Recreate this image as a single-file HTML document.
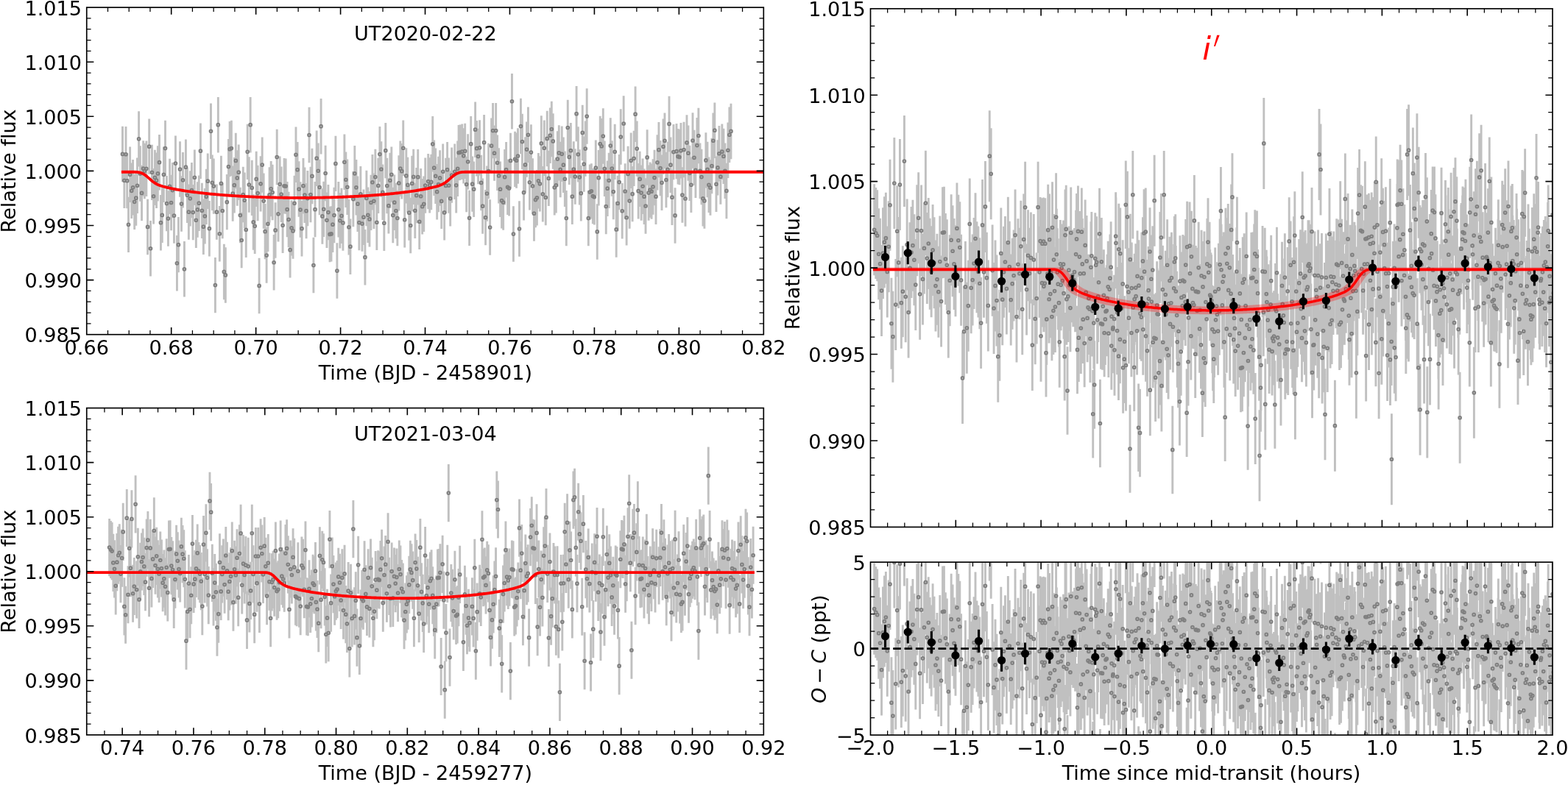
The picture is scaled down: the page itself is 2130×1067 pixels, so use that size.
<!DOCTYPE html>
<html lang="en"><head><meta charset="utf-8"><title>Transit light curves</title>
<style>html,body{margin:0;padding:0;background:#fff}body{width:2130px;height:1067px;overflow:hidden}svg{display:block}</style></head>
<body>
<svg width="2130" height="1067" viewBox="0 0 2130 1067" font-family='"DejaVu Sans", "Liberation Sans", sans-serif' font-size="27.08" fill="#000" style="font-variant-ligatures:none">
<rect width="2130" height="1067" fill="#fff"/>
<defs>
<clipPath id="cTL"><rect x="117.75" y="10.1" width="919.55" height="444.6"/></clipPath>
<clipPath id="cBL"><rect x="117.75" y="554.6" width="919.55" height="444.3"/></clipPath>
<clipPath id="cRT"><rect x="1182.5" y="11.8" width="926.5" height="704.6"/></clipPath>
<clipPath id="cRB"><rect x="1182.5" y="764.1" width="926.5" height="235"/></clipPath>
</defs>
<g clip-path="url(#cTL)">
<path d="M166.48 171.74V247.15M168.87 207.65V283.05M170.99 172.02V247.43M172.68 207.93V283.34M174.51 267.66V343.06M176.62 199.62V275.02M178.73 221.6V297M180.56 217.09V292.5M182.68 236.67V312.07M184.79 231.45V306.86M186.48 214.56V289.96M188.59 151.17V226.58M190.42 198.36V273.76M192.53 224.69V300.1M194.65 191.32V266.72M196.34 194.83V270.24M198.87 191.6V267M200.56 270.75V346.16M202.68 161.46V236.86M204.51 300.04V375.44M206.48 196.67V272.07M208.59 229.07V304.47M210.42 203.71V279.11M212.53 207.5V282.91M214.37 198.21V273.61M216.48 183V258.41M218.45 264.97V340.38M220.28 254.69V330.09M222.39 199.62V275.02M224.51 163.84V239.25M226.48 238.92V314.32M228.45 259.34V334.75M230.56 215.68V291.09M232.53 237.79V313.2M234.37 220.88V296.29M236.48 255.4V330.8M238.45 184.41V259.82M240.42 320.05V395.45M242.4 294.97V370.37M244.5 192.3V267.7M246.48 239.34V314.74M248.45 207.09V282.49M250.42 328.08V403.48M252.4 189.48V264.89M254.37 227.64V303.05M256.34 250.47V325.87M258.31 232.16V307.57M260.42 220.88V296.29M262.25 250.9V326.3M264.37 203.56V278.96M266.34 261.6V337M268.31 247.23V322.64M270.28 238.49V313.9M272.4 167.5V242.91M274.37 248.64V324.05M276.34 270.47V345.88M278.31 256.1V331.5M280.28 229.63V305.03M282.25 208.5V283.9M284.37 273.01V348.41M286.48 140.6V216.01M288.31 210.61V286.02M290.28 215.4V290.81M292.4 349.91V425.31M294.37 250.47V325.87M296.34 132.01V207.41M298.31 280.05V355.45M300.42 211.74V287.15M302.25 248.78V324.18M304.37 331.74V407.14M306.34 336.24V411.65M308.31 236.95V312.35M310.42 188.92V264.32M312.11 164.97V240.37M314.37 163.84V239.25M316.19 225.39V300.79M318.31 213.99V289.4M320.28 180.75V256.16M322.25 204.27V279.68M324.22 196.52V271.92M326.34 254.84V330.24M328.17 288.78V364.18M330.28 226.8V302.2M332.25 234.55V309.95M334.22 274.55V349.95M336.19 168.63V244.03M338.31 213.28V288.69M340.14 132.01V207.41M342.25 217.65V293.06M344.22 264.26V339.67M346.19 269.63V345.03M348.17 205.68V281.08M350.14 224.83V300.23M352.11 350.75V426.16M354.09 212.16V287.56M356.2 186.38V261.79M358.17 235.39V310.8M360.14 276.95V352.35M362.11 309.35V384.75M363.94 266.53V341.93M366.06 227.23V302.63M368.17 218.91V294.32M370.14 223.85V299.25M372.11 319.05V394.46M374.09 275.26V350.66M376.2 175.82V251.22M378.03 253.15V328.55M380.14 212.59V287.99M382.11 226.52V301.92M384.09 268.63V344.04M386.06 215.12V290.52M388.17 215.4V290.81M390.14 246.94V322.34M392.11 260.75V336.15M394.09 302.01V377.41M396.06 272.16V347.57M398.03 276.24V351.64M400 238.64V314.04M401.97 172.59V247.99M404.09 193.01V268.41M406.06 219.34V294.75M408.03 247.37V322.77M410 273.01V348.41M411.97 214.97V290.38M413.94 227.51V302.91M416.06 248.92V324.33M417.89 231.88V307.29M420 145.82V221.23M421.97 226.8V302.2M423.94 201.74V277.14M425.91 322.86V398.27M428.03 246.94V322.34M430.14 177.51V252.91M432.25 194.55V269.95M434.09 216.81V292.21M436.06 134V209.4M437.89 256.25V331.65M439.72 246.66V322.06M442.12 197.8V273.2M443.94 261.6V337M445.91 250.9V326.3M448.03 280.74V356.15M450 280.18V355.58M451.97 267.51V342.91M453.94 254.84V330.24M455.91 184.69V260.1M457.89 330.33V405.73M459.86 247.09V322.49M461.83 262.16V337.56M463.94 255.68V331.09M465.91 265.26V340.66M467.89 182.58V257.98M469.86 206.52V281.93M471.83 216.53V291.93M473.94 271.04V346.44M475.91 297.5V372.91M479.86 232.86V308.26M481.83 198.08V273.48M483.94 217.09V292.5M485.91 239.48V314.89M487.89 264.83V340.23M489.86 226.1V301.51M491.97 266.38V341.79M493.94 257.51V332.91M495.91 312.01V387.42M497.89 231.73V307.14M499.86 254.56V329.96M501.97 260.19V335.59M503.94 237.65V313.05M505.92 210.05V285.46M507.89 235.54V310.95M509.86 202.86V278.27M511.83 264.54V339.95M513.8 214.69V290.09M515.92 171.88V247.28M517.89 192.3V267.7M519.86 223.57V298.97M521.83 265.54V340.94M523.8 166.94V242.34M525.78 214.84V290.24M527.89 242.02V317.42M529.86 207.65V283.05M531.83 199.62V275.02M533.8 254.84V330.24M535.78 237.51V312.92M537.89 248.78V324.18M539.86 258.78V334.18M541.83 211.18V286.58M543.8 191.45V266.86M545.77 194.98V270.38M547.75 163.56V238.97M549.72 261.03V336.44M551.83 201.17V276.58M553.8 213.71V289.12M555.77 251.46V326.86M557.75 268.78V344.19M559.72 211.74V287.15M561.69 202.72V278.12M563.8 248.64V324.05M565.77 227.92V303.33M567.75 203V278.4M569.72 263.57V338.97M571.69 229.07V304.47M573.66 243V318.4M575.77 239.62V315.02M577.75 214.41V289.81M581.69 208.91V284.31M583.66 214.13V289.53M585.77 209.77V285.17M587.75 158.08V233.48M589.72 190.47V265.88M591.69 201.59V276.99M593.66 223V298.41M595.63 212.87V288.27M597.61 204.27V279.68M599.72 235.68V311.08M601.69 195.54V270.95M603.66 251.18V326.58M605.63 214.69V290.09M607.61 193.01V268.41M609.72 214.41V289.81M611.69 232.16V307.57M613.66 200.46V275.87M617.74 195.54V270.95M619.72 214.13V289.53M621.69 191.6V267M623.1 169.9V245.31M624.79 169.47V244.88M627.74 168.5V243.9M629.72 174.13V249.53M631.69 167.65V243.06M633.66 212.87V288.27M635.63 182.16V257.56M637.61 258.63V334.04M639.72 157.93V233.33M641.69 212.44V287.84M643.66 219.48V294.88M645.63 138.5V213.9M647.61 163.99V239.4M649.58 174.84V250.24M651.55 163.15V238.55M653.66 210.75V286.15M655.64 242.43V317.84M657.61 155.96V231.36M659.58 257.93V333.34M661.55 225.39V300.79M663.66 194.83V270.24M665.64 271.32V346.72M667.61 160.46V235.87M669.58 139.91V215.31M671.55 170.47V245.87M673.66 139.91V215.31M675.64 183.57V258.97M677.61 201.17V276.58M679.58 219.48V294.88M681.55 234.98V310.38M683.66 237.36V312.77M685.64 203V278.4M687.61 193.01V268.41M689.58 216.53V291.93M691.55 218.22V293.62M693.52 180.75V256.16M695.49 100.04V175.45M697.46 280.33V355.73M699.58 178.63V254.04M701.55 180.47V255.87M703.52 174.28V249.68M705.49 273.29V348.69M707.46 133.85V209.25M709.43 154.83V230.24M711.55 223.98V299.39M713.52 186.24V261.64M715.49 165.4V240.8M717.46 145.54V220.94M719.43 210.05V285.46M721.41 169.34V244.75M723.52 215.25V290.66M725.49 252.44V327.84M727.46 233.85V309.26M729.43 231.04V306.44M731.41 208.07V283.47M733.38 212.16V287.56M735.35 157.23V232.64M737.33 226.1V301.51M739.3 163.56V238.97M741.27 230.75V306.16M743.24 150.74V226.15M745.35 204.69V280.09M747.33 146.52V221.92M749.3 137.79V213.19M751.27 154.27V229.67M753.24 217.09V292.5M755.35 214.13V289.53M757.33 178.35V253.76M759.3 170.19V245.59M761.27 192.73V268.13M763.24 171.59V247M765.35 186.52V261.92M767.33 205.53V280.94M769.3 258.91V334.32M771.27 135.82V211.22M773.24 175.68V251.09M775.35 166.94V242.34M777.33 229.48V304.88M779.3 192.3V267.7M781.27 202.3V277.7M783.1 116.95V192.36M785.35 172.16V247.56M787.33 203.15V278.55M789.3 224.98V300.38M791.27 142.72V218.13M793.24 185.39V260.8M795.21 164.41V239.81M797.18 120.33V195.74M799.3 258.91V334.32M801.27 223.42V298.82M803.38 222.16V297.56M805.35 228.92V304.32M807.33 230.04V305.45M809.3 190.47V265.88M811.27 277.23V352.63M813.24 203.99V279.39M815.21 157.8V233.2M817.18 161.03V236.43M819.3 147.36V222.77M821.27 191.6V267M823.24 242.86V318.27M825.21 218.5V293.9M827.18 207.65V283.05M829.3 160.33V235.73M831.27 191.32V266.72M833.24 222.86V298.26M835.21 168.63V244.03M837.18 274.27V349.67M839.15 238.77V314.18M841.13 209.9V285.31M843.24 148.36V223.76M845.21 249.06V324.46M847.18 130.32V205.72M849.15 222.29V297.7M851.13 258.07V333.47M853.1 198.77V274.18M855.21 235.39V310.8M857.18 180.6V256.01M859.15 225.95V301.36M861.13 177.65V253.06M863.1 117.52V192.92M865.21 164.41V239.81M867.18 222.01V297.42M869.15 205.68V281.08M871.13 224.41V299.82M873.1 215.53V290.94M875.07 229.48V304.88M877.04 242.3V317.7M879.15 176.25V251.65M881.13 224.41V299.82M883.1 220.47V295.87M885.07 222.44V297.85M887.04 216.25V291.65M889.02 203.84V279.25M890.99 229.48V304.88M892.96 183.14V258.54M894.93 165.96V241.37M897.04 190.89V266.29M899.02 210.61V286.02M900.99 161.59V236.99M902.96 153.57V228.98M904.93 206.81V282.21M907.04 192.73V268.13M909.01 130.75V206.15M910.99 186.52V261.92M912.96 230.47V305.88M914.93 168.91V244.32M917.04 255.25V330.66M919.01 167.93V243.34M920.99 174.97V250.38M922.96 175.82V251.22M924.93 167.09V242.49M926.9 227.36V302.77M929.01 165.81V241.22M930.99 232.3V307.7M932.96 156.24V231.64M934.93 170.47V245.87M936.9 197.65V273.05M938.87 213.56V288.97M940.99 153.29V228.7M942.96 176.66V252.07M944.93 193.7V269.11M946.9 159.9V235.3M948.87 146.8V222.2M950.99 194.55V269.95M952.96 202.86V278.27M954.93 232.16V307.57M956.9 235.26V310.66M958.87 180.19V255.59M960.98 192.73V268.13M962.96 213.56V288.97M964.93 217.37V292.78M966.9 187.79V263.2M968.87 153.57V228.98M970.85 139.48V214.88M972.96 212.59V287.99M974.93 190.19V265.6M976.9 171.03V246.43M978.87 202.43V277.84M980.85 168.5V243.9M982.96 174.69V250.1M984.93 194.55V269.95M986.9 221.73V297.13M988.87 166.53V241.93M990.85 145.54V220.94M992.96 140.75V216.16" stroke="#c0c0c0" stroke-width="2.9" fill="none"/>
<g fill="none" stroke="#808080" stroke-width="2"><circle cx="166.48" cy="209.44" r="1.85"/><circle cx="168.87" cy="245.35" r="1.85"/><circle cx="170.99" cy="209.73" r="1.85"/><circle cx="172.68" cy="245.63" r="1.85"/><circle cx="174.51" cy="305.36" r="1.85"/><circle cx="176.62" cy="237.32" r="1.85"/><circle cx="178.73" cy="259.3" r="1.85"/><circle cx="180.56" cy="254.79" r="1.85"/><circle cx="182.68" cy="274.37" r="1.85"/><circle cx="184.79" cy="269.15" r="1.85"/><circle cx="186.48" cy="252.26" r="1.85"/><circle cx="188.59" cy="188.87" r="1.85"/><circle cx="190.42" cy="236.06" r="1.85"/><circle cx="192.53" cy="262.4" r="1.85"/><circle cx="194.65" cy="229.02" r="1.85"/><circle cx="196.34" cy="232.53" r="1.85"/><circle cx="198.87" cy="229.3" r="1.85"/><circle cx="200.56" cy="308.46" r="1.85"/><circle cx="202.68" cy="199.16" r="1.85"/><circle cx="204.51" cy="337.74" r="1.85"/><circle cx="206.48" cy="234.37" r="1.85"/><circle cx="208.59" cy="266.77" r="1.85"/><circle cx="210.42" cy="241.41" r="1.85"/><circle cx="212.53" cy="245.2" r="1.85"/><circle cx="214.37" cy="235.91" r="1.85"/><circle cx="216.48" cy="220.71" r="1.85"/><circle cx="218.45" cy="302.68" r="1.85"/><circle cx="220.28" cy="292.39" r="1.85"/><circle cx="222.39" cy="237.32" r="1.85"/><circle cx="224.51" cy="201.54" r="1.85"/><circle cx="226.48" cy="276.62" r="1.85"/><circle cx="228.45" cy="297.04" r="1.85"/><circle cx="230.56" cy="253.39" r="1.85"/><circle cx="232.53" cy="275.5" r="1.85"/><circle cx="234.37" cy="258.59" r="1.85"/><circle cx="236.48" cy="293.1" r="1.85"/><circle cx="238.45" cy="222.11" r="1.85"/><circle cx="240.42" cy="357.75" r="1.85"/><circle cx="242.4" cy="332.67" r="1.85"/><circle cx="244.5" cy="230" r="1.85"/><circle cx="246.48" cy="277.04" r="1.85"/><circle cx="248.45" cy="244.79" r="1.85"/><circle cx="250.42" cy="365.78" r="1.85"/><circle cx="252.4" cy="227.18" r="1.85"/><circle cx="254.37" cy="265.34" r="1.85"/><circle cx="256.34" cy="288.17" r="1.85"/><circle cx="258.31" cy="269.86" r="1.85"/><circle cx="260.42" cy="258.59" r="1.85"/><circle cx="262.25" cy="288.6" r="1.85"/><circle cx="264.37" cy="241.26" r="1.85"/><circle cx="266.34" cy="299.3" r="1.85"/><circle cx="268.31" cy="284.94" r="1.85"/><circle cx="270.28" cy="276.19" r="1.85"/><circle cx="272.4" cy="205.21" r="1.85"/><circle cx="274.37" cy="286.34" r="1.85"/><circle cx="276.34" cy="308.17" r="1.85"/><circle cx="278.31" cy="293.8" r="1.85"/><circle cx="280.28" cy="267.33" r="1.85"/><circle cx="282.25" cy="246.2" r="1.85"/><circle cx="284.37" cy="310.71" r="1.85"/><circle cx="286.48" cy="178.31" r="1.85"/><circle cx="288.31" cy="248.32" r="1.85"/><circle cx="290.28" cy="253.1" r="1.85"/><circle cx="292.4" cy="387.61" r="1.85"/><circle cx="294.37" cy="288.17" r="1.85"/><circle cx="296.34" cy="169.71" r="1.85"/><circle cx="298.31" cy="317.75" r="1.85"/><circle cx="300.42" cy="249.44" r="1.85"/><circle cx="302.25" cy="286.48" r="1.85"/><circle cx="304.37" cy="369.44" r="1.85"/><circle cx="306.34" cy="373.95" r="1.85"/><circle cx="308.31" cy="274.65" r="1.85"/><circle cx="310.42" cy="226.62" r="1.85"/><circle cx="312.11" cy="202.67" r="1.85"/><circle cx="314.37" cy="201.54" r="1.85"/><circle cx="316.19" cy="263.09" r="1.85"/><circle cx="318.31" cy="251.7" r="1.85"/><circle cx="320.28" cy="218.45" r="1.85"/><circle cx="322.25" cy="241.97" r="1.85"/><circle cx="324.22" cy="234.22" r="1.85"/><circle cx="326.34" cy="292.54" r="1.85"/><circle cx="328.17" cy="326.48" r="1.85"/><circle cx="330.28" cy="264.5" r="1.85"/><circle cx="332.25" cy="272.25" r="1.85"/><circle cx="334.22" cy="312.25" r="1.85"/><circle cx="336.19" cy="206.33" r="1.85"/><circle cx="338.31" cy="250.98" r="1.85"/><circle cx="340.14" cy="169.71" r="1.85"/><circle cx="342.25" cy="255.36" r="1.85"/><circle cx="344.22" cy="301.97" r="1.85"/><circle cx="346.19" cy="307.33" r="1.85"/><circle cx="348.17" cy="243.38" r="1.85"/><circle cx="350.14" cy="262.53" r="1.85"/><circle cx="352.11" cy="388.45" r="1.85"/><circle cx="354.09" cy="249.86" r="1.85"/><circle cx="356.2" cy="224.09" r="1.85"/><circle cx="358.17" cy="273.1" r="1.85"/><circle cx="360.14" cy="314.65" r="1.85"/><circle cx="362.11" cy="347.05" r="1.85"/><circle cx="363.94" cy="304.23" r="1.85"/><circle cx="366.06" cy="264.93" r="1.85"/><circle cx="368.17" cy="256.62" r="1.85"/><circle cx="370.14" cy="261.55" r="1.85"/><circle cx="372.11" cy="356.75" r="1.85"/><circle cx="374.09" cy="312.96" r="1.85"/><circle cx="376.2" cy="213.52" r="1.85"/><circle cx="378.03" cy="290.85" r="1.85"/><circle cx="380.14" cy="250.29" r="1.85"/><circle cx="382.11" cy="264.22" r="1.85"/><circle cx="384.09" cy="306.34" r="1.85"/><circle cx="386.06" cy="252.82" r="1.85"/><circle cx="388.17" cy="253.1" r="1.85"/><circle cx="390.14" cy="284.64" r="1.85"/><circle cx="392.11" cy="298.45" r="1.85"/><circle cx="394.09" cy="339.71" r="1.85"/><circle cx="396.06" cy="309.86" r="1.85"/><circle cx="398.03" cy="313.94" r="1.85"/><circle cx="400" cy="276.34" r="1.85"/><circle cx="401.97" cy="210.29" r="1.85"/><circle cx="404.09" cy="230.71" r="1.85"/><circle cx="406.06" cy="257.05" r="1.85"/><circle cx="408.03" cy="285.07" r="1.85"/><circle cx="410" cy="310.71" r="1.85"/><circle cx="411.97" cy="252.67" r="1.85"/><circle cx="413.94" cy="265.21" r="1.85"/><circle cx="416.06" cy="286.63" r="1.85"/><circle cx="417.89" cy="269.58" r="1.85"/><circle cx="420" cy="183.52" r="1.85"/><circle cx="421.97" cy="264.5" r="1.85"/><circle cx="423.94" cy="239.44" r="1.85"/><circle cx="425.91" cy="360.56" r="1.85"/><circle cx="428.03" cy="284.64" r="1.85"/><circle cx="430.14" cy="215.21" r="1.85"/><circle cx="432.25" cy="232.25" r="1.85"/><circle cx="434.09" cy="254.51" r="1.85"/><circle cx="436.06" cy="171.7" r="1.85"/><circle cx="437.89" cy="293.95" r="1.85"/><circle cx="439.72" cy="284.36" r="1.85"/><circle cx="442.12" cy="235.5" r="1.85"/><circle cx="443.94" cy="299.3" r="1.85"/><circle cx="445.91" cy="288.6" r="1.85"/><circle cx="448.03" cy="318.44" r="1.85"/><circle cx="450" cy="317.88" r="1.85"/><circle cx="451.97" cy="305.21" r="1.85"/><circle cx="453.94" cy="292.54" r="1.85"/><circle cx="455.91" cy="222.4" r="1.85"/><circle cx="457.89" cy="368.03" r="1.85"/><circle cx="459.86" cy="284.79" r="1.85"/><circle cx="461.83" cy="299.86" r="1.85"/><circle cx="463.94" cy="293.38" r="1.85"/><circle cx="465.91" cy="302.96" r="1.85"/><circle cx="467.89" cy="220.28" r="1.85"/><circle cx="469.86" cy="244.23" r="1.85"/><circle cx="471.83" cy="254.23" r="1.85"/><circle cx="473.94" cy="308.74" r="1.85"/><circle cx="475.91" cy="335.21" r="1.85"/><circle cx="479.86" cy="270.56" r="1.85"/><circle cx="481.83" cy="235.78" r="1.85"/><circle cx="483.94" cy="254.79" r="1.85"/><circle cx="485.91" cy="277.19" r="1.85"/><circle cx="487.89" cy="302.53" r="1.85"/><circle cx="489.86" cy="263.8" r="1.85"/><circle cx="491.97" cy="304.08" r="1.85"/><circle cx="493.94" cy="295.21" r="1.85"/><circle cx="495.91" cy="349.72" r="1.85"/><circle cx="497.89" cy="269.44" r="1.85"/><circle cx="499.86" cy="292.26" r="1.85"/><circle cx="501.97" cy="297.89" r="1.85"/><circle cx="503.94" cy="275.35" r="1.85"/><circle cx="505.92" cy="247.75" r="1.85"/><circle cx="507.89" cy="273.24" r="1.85"/><circle cx="509.86" cy="240.57" r="1.85"/><circle cx="511.83" cy="302.25" r="1.85"/><circle cx="513.8" cy="252.39" r="1.85"/><circle cx="515.92" cy="209.58" r="1.85"/><circle cx="517.89" cy="230" r="1.85"/><circle cx="519.86" cy="261.27" r="1.85"/><circle cx="521.83" cy="303.24" r="1.85"/><circle cx="523.8" cy="204.64" r="1.85"/><circle cx="525.78" cy="252.54" r="1.85"/><circle cx="527.89" cy="279.72" r="1.85"/><circle cx="529.86" cy="245.35" r="1.85"/><circle cx="531.83" cy="237.32" r="1.85"/><circle cx="533.8" cy="292.54" r="1.85"/><circle cx="535.78" cy="275.21" r="1.85"/><circle cx="537.89" cy="286.48" r="1.85"/><circle cx="539.86" cy="296.48" r="1.85"/><circle cx="541.83" cy="248.88" r="1.85"/><circle cx="543.8" cy="229.15" r="1.85"/><circle cx="545.77" cy="232.68" r="1.85"/><circle cx="547.75" cy="201.26" r="1.85"/><circle cx="549.72" cy="298.73" r="1.85"/><circle cx="551.83" cy="238.88" r="1.85"/><circle cx="553.8" cy="251.41" r="1.85"/><circle cx="555.77" cy="289.16" r="1.85"/><circle cx="557.75" cy="306.49" r="1.85"/><circle cx="559.72" cy="249.44" r="1.85"/><circle cx="561.69" cy="240.42" r="1.85"/><circle cx="563.8" cy="286.34" r="1.85"/><circle cx="565.77" cy="265.63" r="1.85"/><circle cx="567.75" cy="240.7" r="1.85"/><circle cx="569.72" cy="301.27" r="1.85"/><circle cx="571.69" cy="266.77" r="1.85"/><circle cx="573.66" cy="280.7" r="1.85"/><circle cx="575.77" cy="277.32" r="1.85"/><circle cx="577.75" cy="252.11" r="1.85"/><circle cx="581.69" cy="246.61" r="1.85"/><circle cx="583.66" cy="251.83" r="1.85"/><circle cx="585.77" cy="247.47" r="1.85"/><circle cx="587.75" cy="195.78" r="1.85"/><circle cx="589.72" cy="228.18" r="1.85"/><circle cx="591.69" cy="239.29" r="1.85"/><circle cx="593.66" cy="260.71" r="1.85"/><circle cx="595.63" cy="250.57" r="1.85"/><circle cx="597.61" cy="241.97" r="1.85"/><circle cx="599.72" cy="273.38" r="1.85"/><circle cx="601.69" cy="233.24" r="1.85"/><circle cx="603.66" cy="288.88" r="1.85"/><circle cx="605.63" cy="252.39" r="1.85"/><circle cx="607.61" cy="230.71" r="1.85"/><circle cx="609.72" cy="252.11" r="1.85"/><circle cx="611.69" cy="269.86" r="1.85"/><circle cx="613.66" cy="238.16" r="1.85"/><circle cx="617.74" cy="233.24" r="1.85"/><circle cx="619.72" cy="251.83" r="1.85"/><circle cx="621.69" cy="229.3" r="1.85"/><circle cx="623.1" cy="207.61" r="1.85"/><circle cx="624.79" cy="207.18" r="1.85"/><circle cx="627.74" cy="206.2" r="1.85"/><circle cx="629.72" cy="211.83" r="1.85"/><circle cx="631.69" cy="205.35" r="1.85"/><circle cx="633.66" cy="250.57" r="1.85"/><circle cx="635.63" cy="219.86" r="1.85"/><circle cx="637.61" cy="296.33" r="1.85"/><circle cx="639.72" cy="195.63" r="1.85"/><circle cx="641.69" cy="250.14" r="1.85"/><circle cx="643.66" cy="257.18" r="1.85"/><circle cx="645.63" cy="176.2" r="1.85"/><circle cx="647.61" cy="201.69" r="1.85"/><circle cx="649.58" cy="212.54" r="1.85"/><circle cx="651.55" cy="200.85" r="1.85"/><circle cx="653.66" cy="248.45" r="1.85"/><circle cx="655.64" cy="280.14" r="1.85"/><circle cx="657.61" cy="193.66" r="1.85"/><circle cx="659.58" cy="295.64" r="1.85"/><circle cx="661.55" cy="263.09" r="1.85"/><circle cx="663.66" cy="232.53" r="1.85"/><circle cx="665.64" cy="309.02" r="1.85"/><circle cx="667.61" cy="198.17" r="1.85"/><circle cx="669.58" cy="177.61" r="1.85"/><circle cx="671.55" cy="208.17" r="1.85"/><circle cx="673.66" cy="177.61" r="1.85"/><circle cx="675.64" cy="221.27" r="1.85"/><circle cx="677.61" cy="238.88" r="1.85"/><circle cx="679.58" cy="257.18" r="1.85"/><circle cx="681.55" cy="272.68" r="1.85"/><circle cx="683.66" cy="275.07" r="1.85"/><circle cx="685.64" cy="240.7" r="1.85"/><circle cx="687.61" cy="230.71" r="1.85"/><circle cx="689.58" cy="254.23" r="1.85"/><circle cx="691.55" cy="255.92" r="1.85"/><circle cx="693.52" cy="218.45" r="1.85"/><circle cx="695.49" cy="137.74" r="1.85"/><circle cx="697.46" cy="318.03" r="1.85"/><circle cx="699.58" cy="216.34" r="1.85"/><circle cx="701.55" cy="218.17" r="1.85"/><circle cx="703.52" cy="211.98" r="1.85"/><circle cx="705.49" cy="310.99" r="1.85"/><circle cx="707.46" cy="171.55" r="1.85"/><circle cx="709.43" cy="192.53" r="1.85"/><circle cx="711.55" cy="261.68" r="1.85"/><circle cx="713.52" cy="223.94" r="1.85"/><circle cx="715.49" cy="203.1" r="1.85"/><circle cx="717.46" cy="183.24" r="1.85"/><circle cx="719.43" cy="247.75" r="1.85"/><circle cx="721.41" cy="207.04" r="1.85"/><circle cx="723.52" cy="252.96" r="1.85"/><circle cx="725.49" cy="290.14" r="1.85"/><circle cx="727.46" cy="271.55" r="1.85"/><circle cx="729.43" cy="268.74" r="1.85"/><circle cx="731.41" cy="245.77" r="1.85"/><circle cx="733.38" cy="249.86" r="1.85"/><circle cx="735.35" cy="194.94" r="1.85"/><circle cx="737.33" cy="263.8" r="1.85"/><circle cx="739.3" cy="201.26" r="1.85"/><circle cx="741.27" cy="268.46" r="1.85"/><circle cx="743.24" cy="188.44" r="1.85"/><circle cx="745.35" cy="242.39" r="1.85"/><circle cx="747.33" cy="184.22" r="1.85"/><circle cx="749.3" cy="175.49" r="1.85"/><circle cx="751.27" cy="191.97" r="1.85"/><circle cx="753.24" cy="254.79" r="1.85"/><circle cx="755.35" cy="251.83" r="1.85"/><circle cx="757.33" cy="216.05" r="1.85"/><circle cx="759.3" cy="207.89" r="1.85"/><circle cx="761.27" cy="230.43" r="1.85"/><circle cx="763.24" cy="209.3" r="1.85"/><circle cx="765.35" cy="224.22" r="1.85"/><circle cx="767.33" cy="243.23" r="1.85"/><circle cx="769.3" cy="296.62" r="1.85"/><circle cx="771.27" cy="173.52" r="1.85"/><circle cx="773.24" cy="213.39" r="1.85"/><circle cx="775.35" cy="204.64" r="1.85"/><circle cx="777.33" cy="267.18" r="1.85"/><circle cx="779.3" cy="230" r="1.85"/><circle cx="781.27" cy="240" r="1.85"/><circle cx="783.1" cy="154.65" r="1.85"/><circle cx="785.35" cy="209.86" r="1.85"/><circle cx="787.33" cy="240.85" r="1.85"/><circle cx="789.3" cy="262.68" r="1.85"/><circle cx="791.27" cy="180.43" r="1.85"/><circle cx="793.24" cy="223.09" r="1.85"/><circle cx="795.21" cy="202.11" r="1.85"/><circle cx="797.18" cy="158.03" r="1.85"/><circle cx="799.3" cy="296.62" r="1.85"/><circle cx="801.27" cy="261.12" r="1.85"/><circle cx="803.38" cy="259.86" r="1.85"/><circle cx="805.35" cy="266.62" r="1.85"/><circle cx="807.33" cy="267.75" r="1.85"/><circle cx="809.3" cy="228.18" r="1.85"/><circle cx="811.27" cy="314.93" r="1.85"/><circle cx="813.24" cy="241.69" r="1.85"/><circle cx="815.21" cy="195.5" r="1.85"/><circle cx="817.18" cy="198.73" r="1.85"/><circle cx="819.3" cy="185.06" r="1.85"/><circle cx="821.27" cy="229.3" r="1.85"/><circle cx="823.24" cy="280.56" r="1.85"/><circle cx="825.21" cy="256.2" r="1.85"/><circle cx="827.18" cy="245.35" r="1.85"/><circle cx="829.3" cy="198.03" r="1.85"/><circle cx="831.27" cy="229.02" r="1.85"/><circle cx="833.24" cy="260.56" r="1.85"/><circle cx="835.21" cy="206.33" r="1.85"/><circle cx="837.18" cy="311.97" r="1.85"/><circle cx="839.15" cy="276.47" r="1.85"/><circle cx="841.13" cy="247.61" r="1.85"/><circle cx="843.24" cy="186.06" r="1.85"/><circle cx="845.21" cy="286.76" r="1.85"/><circle cx="847.18" cy="168.02" r="1.85"/><circle cx="849.15" cy="259.99" r="1.85"/><circle cx="851.13" cy="295.77" r="1.85"/><circle cx="853.1" cy="236.48" r="1.85"/><circle cx="855.21" cy="273.1" r="1.85"/><circle cx="857.18" cy="218.31" r="1.85"/><circle cx="859.15" cy="263.66" r="1.85"/><circle cx="861.13" cy="215.36" r="1.85"/><circle cx="863.1" cy="155.22" r="1.85"/><circle cx="865.21" cy="202.11" r="1.85"/><circle cx="867.18" cy="259.71" r="1.85"/><circle cx="869.15" cy="243.38" r="1.85"/><circle cx="871.13" cy="262.11" r="1.85"/><circle cx="873.1" cy="253.24" r="1.85"/><circle cx="875.07" cy="267.18" r="1.85"/><circle cx="877.04" cy="280" r="1.85"/><circle cx="879.15" cy="213.95" r="1.85"/><circle cx="881.13" cy="262.11" r="1.85"/><circle cx="883.1" cy="258.17" r="1.85"/><circle cx="885.07" cy="260.14" r="1.85"/><circle cx="887.04" cy="253.95" r="1.85"/><circle cx="889.02" cy="241.54" r="1.85"/><circle cx="890.99" cy="267.18" r="1.85"/><circle cx="892.96" cy="220.84" r="1.85"/><circle cx="894.93" cy="203.66" r="1.85"/><circle cx="897.04" cy="228.59" r="1.85"/><circle cx="899.02" cy="248.32" r="1.85"/><circle cx="900.99" cy="199.29" r="1.85"/><circle cx="902.96" cy="191.27" r="1.85"/><circle cx="904.93" cy="244.51" r="1.85"/><circle cx="907.04" cy="230.43" r="1.85"/><circle cx="909.01" cy="168.45" r="1.85"/><circle cx="910.99" cy="224.22" r="1.85"/><circle cx="912.96" cy="268.18" r="1.85"/><circle cx="914.93" cy="206.61" r="1.85"/><circle cx="917.04" cy="292.95" r="1.85"/><circle cx="919.01" cy="205.64" r="1.85"/><circle cx="920.99" cy="212.67" r="1.85"/><circle cx="922.96" cy="213.52" r="1.85"/><circle cx="924.93" cy="204.79" r="1.85"/><circle cx="926.9" cy="265.06" r="1.85"/><circle cx="929.01" cy="203.52" r="1.85"/><circle cx="930.99" cy="270" r="1.85"/><circle cx="932.96" cy="193.94" r="1.85"/><circle cx="934.93" cy="208.17" r="1.85"/><circle cx="936.9" cy="235.35" r="1.85"/><circle cx="938.87" cy="251.27" r="1.85"/><circle cx="940.99" cy="190.99" r="1.85"/><circle cx="942.96" cy="214.36" r="1.85"/><circle cx="944.93" cy="231.41" r="1.85"/><circle cx="946.9" cy="197.6" r="1.85"/><circle cx="948.87" cy="184.5" r="1.85"/><circle cx="950.99" cy="232.25" r="1.85"/><circle cx="952.96" cy="240.57" r="1.85"/><circle cx="954.93" cy="269.86" r="1.85"/><circle cx="956.9" cy="272.96" r="1.85"/><circle cx="958.87" cy="217.89" r="1.85"/><circle cx="960.98" cy="230.43" r="1.85"/><circle cx="962.96" cy="251.27" r="1.85"/><circle cx="964.93" cy="255.07" r="1.85"/><circle cx="966.9" cy="225.49" r="1.85"/><circle cx="968.87" cy="191.27" r="1.85"/><circle cx="970.85" cy="177.18" r="1.85"/><circle cx="972.96" cy="250.29" r="1.85"/><circle cx="974.93" cy="227.89" r="1.85"/><circle cx="976.9" cy="208.73" r="1.85"/><circle cx="978.87" cy="240.14" r="1.85"/><circle cx="980.85" cy="206.2" r="1.85"/><circle cx="982.96" cy="212.39" r="1.85"/><circle cx="984.93" cy="232.25" r="1.85"/><circle cx="986.9" cy="259.43" r="1.85"/><circle cx="988.87" cy="204.23" r="1.85"/><circle cx="990.85" cy="183.24" r="1.85"/><circle cx="992.96" cy="178.46" r="1.85"/></g>
</g>
<path clip-path="url(#cTL)" d="M164.88 233.73L166.63 233.73L168.37 233.73L170.12 233.73L171.87 233.73L173.62 233.73L175.37 233.73L177.12 233.74L178.86 233.74L180.61 233.75L182.36 233.77L184.11 233.82L185.86 233.91L187.61 234.09L189.35 234.39L191.1 234.85L192.85 235.5L194.6 236.37L196.35 237.44L198.1 238.69L199.84 240.1L201.59 241.6L203.34 243.15L205.09 244.69L206.84 246.16L208.59 247.52L210.33 248.73L212.08 249.79L213.83 250.69L215.58 251.46L217.33 252.12L219.08 252.71L220.82 253.24L222.57 253.73L224.32 254.19L226.07 254.62L227.82 255.03L229.57 255.43L231.31 255.81L233.06 256.18L234.81 256.54L236.56 256.88L238.31 257.21L240.06 257.53L241.8 257.84L243.55 258.15L245.3 258.44L247.05 258.73L248.8 259.01L250.55 259.28L252.29 259.54L254.04 259.8L255.79 260.05L257.54 260.3L259.29 260.54L261.04 260.77L262.78 261L264.53 261.22L266.28 261.44L268.03 261.65L269.78 261.86L271.53 262.07L273.27 262.27L275.02 262.46L276.77 262.65L278.52 262.84L280.27 263.02L282.02 263.2L283.76 263.38L285.51 263.55L287.26 263.72L289.01 263.88L290.76 264.04L292.51 264.2L294.25 264.35L296 264.51L297.75 264.65L299.5 264.8L301.25 264.94L303 265.08L304.74 265.21L306.49 265.34L308.24 265.47L309.99 265.6L311.74 265.72L313.49 265.85L315.23 265.96L316.98 266.08L318.73 266.19L320.48 266.3L322.23 266.41L323.98 266.51L325.72 266.62L327.47 266.72L329.22 266.81L330.97 266.91L332.72 267L334.47 267.09L336.21 267.18L337.96 267.26L339.71 267.35L341.46 267.43L343.21 267.5L344.96 267.58L346.7 267.65L348.45 267.72L350.2 267.79L351.95 267.86L353.7 267.92L355.45 267.99L357.19 268.05L358.94 268.1L360.69 268.16L362.44 268.21L364.19 268.26L365.94 268.31L367.68 268.36L369.43 268.41L371.18 268.45L372.93 268.49L374.68 268.53L376.43 268.56L378.17 268.6L379.92 268.63L381.67 268.66L383.42 268.69L385.17 268.72L386.92 268.74L388.66 268.76L390.41 268.78L392.16 268.8L393.91 268.82L395.66 268.83L397.41 268.85L399.15 268.86L400.9 268.86L402.65 268.87L404.4 268.87L406.15 268.88L407.9 268.88L409.64 268.88L411.39 268.87L413.14 268.86L414.89 268.86L416.64 268.85L418.39 268.84L420.13 268.82L421.88 268.81L423.63 268.79L425.38 268.77L427.13 268.74L428.88 268.72L430.63 268.7L432.37 268.67L434.12 268.64L435.87 268.6L437.62 268.57L439.37 268.53L441.12 268.49L442.86 268.45L444.61 268.41L446.36 268.37L448.11 268.32L449.86 268.27L451.61 268.22L453.35 268.17L455.1 268.11L456.85 268.05L458.6 268L460.35 267.93L462.1 267.87L463.84 267.8L465.59 267.73L467.34 267.66L469.09 267.59L470.84 267.52L472.59 267.44L474.33 267.36L476.08 267.28L477.83 267.19L479.58 267.1L481.33 267.01L483.08 266.92L484.82 266.83L486.57 266.73L488.32 266.63L490.07 266.53L491.82 266.43L493.57 266.32L495.31 266.21L497.06 266.1L498.81 265.98L500.56 265.86L502.31 265.74L504.06 265.62L505.8 265.49L507.55 265.36L509.3 265.23L511.05 265.1L512.8 264.96L514.55 264.82L516.29 264.68L518.04 264.53L519.79 264.38L521.54 264.22L523.29 264.07L525.04 263.91L526.78 263.74L528.53 263.58L530.28 263.41L532.03 263.23L533.78 263.05L535.53 262.87L537.27 262.68L539.02 262.49L540.77 262.3L542.52 262.1L544.27 261.9L546.02 261.69L547.76 261.47L549.51 261.26L551.26 261.03L553.01 260.81L554.76 260.57L556.51 260.34L558.25 260.09L560 259.84L561.75 259.58L563.5 259.32L565.25 259.05L567 258.77L568.74 258.49L570.49 258.19L572.24 257.89L573.99 257.58L575.74 257.26L577.49 256.93L579.23 256.59L580.98 256.24L582.73 255.87L584.48 255.49L586.23 255.1L587.98 254.69L589.72 254.25L591.47 253.8L593.22 253.32L594.97 252.79L596.72 252.22L598.47 251.57L600.21 250.82L601.96 249.94L603.71 248.91L605.46 247.72L607.21 246.38L608.96 244.93L610.7 243.39L612.45 241.84L614.2 240.33L615.95 238.91L617.7 237.62L619.45 236.53L621.19 235.62L622.94 234.94L624.69 234.45L626.44 234.13L628.19 233.93L629.94 233.83L631.68 233.77L633.43 233.75L635.18 233.74L636.93 233.74L638.68 233.73L640.43 233.73L642.17 233.73L643.92 233.73L645.67 233.73L647.42 233.73L649.17 233.73L650.92 233.73L652.66 233.73L654.41 233.73L656.16 233.73L657.91 233.73L659.66 233.73L661.41 233.73L663.15 233.73L664.9 233.73L666.65 233.73L668.4 233.73L670.15 233.73L671.9 233.73L673.64 233.73L675.39 233.73L677.14 233.73L678.89 233.73L680.64 233.73L682.39 233.73L684.13 233.73L685.88 233.73L687.63 233.73L689.38 233.73L691.13 233.73L692.88 233.73L694.62 233.73L696.37 233.73L698.12 233.73L699.87 233.73L701.62 233.73L703.37 233.73L705.11 233.73L706.86 233.73L708.61 233.73L710.36 233.73L712.11 233.73L713.86 233.73L715.6 233.73L717.35 233.73L719.1 233.73L720.85 233.73L722.6 233.73L724.35 233.73L726.09 233.73L727.84 233.73L729.59 233.73L731.34 233.73L733.09 233.73L734.84 233.73L736.59 233.73L738.33 233.73L740.08 233.73L741.83 233.73L743.58 233.73L745.33 233.73L747.08 233.73L748.82 233.73L750.57 233.73L752.32 233.73L754.07 233.73L755.82 233.73L757.57 233.73L759.31 233.73L761.06 233.73L762.81 233.73L764.56 233.73L766.31 233.73L768.06 233.73L769.8 233.73L771.55 233.73L773.3 233.73L775.05 233.73L776.8 233.73L778.55 233.73L780.29 233.73L782.04 233.73L783.79 233.73L785.54 233.73L787.29 233.73L789.04 233.73L790.78 233.73L792.53 233.73L794.28 233.73L796.03 233.73L797.78 233.73L799.53 233.73L801.27 233.73L803.02 233.73L804.77 233.73L806.52 233.73L808.27 233.73L810.02 233.73L811.76 233.73L813.51 233.73L815.26 233.73L817.01 233.73L818.76 233.73L820.51 233.73L822.25 233.73L824 233.73L825.75 233.73L827.5 233.73L829.25 233.73L831 233.73L832.74 233.73L834.49 233.73L836.24 233.73L837.99 233.73L839.74 233.73L841.49 233.73L843.23 233.73L844.98 233.73L846.73 233.73L848.48 233.73L850.23 233.73L851.98 233.73L853.72 233.73L855.47 233.73L857.22 233.73L858.97 233.73L860.72 233.73L862.47 233.73L864.21 233.73L865.96 233.73L867.71 233.73L869.46 233.73L871.21 233.73L872.96 233.73L874.7 233.73L876.45 233.73L878.2 233.73L879.95 233.73L881.7 233.73L883.45 233.73L885.19 233.73L886.94 233.73L888.69 233.73L890.44 233.73L892.19 233.73L893.94 233.73L895.68 233.73L897.43 233.73L899.18 233.73L900.93 233.73L902.68 233.73L904.43 233.73L906.17 233.73L907.92 233.73L909.67 233.73L911.42 233.73L913.17 233.73L914.92 233.73L916.66 233.73L918.41 233.73L920.16 233.73L921.91 233.73L923.66 233.73L925.41 233.73L927.15 233.73L928.9 233.73L930.65 233.73L932.4 233.73L934.15 233.73L935.9 233.73L937.64 233.73L939.39 233.73L941.14 233.73L942.89 233.73L944.64 233.73L946.39 233.73L948.13 233.73L949.88 233.73L951.63 233.73L953.38 233.73L955.13 233.73L956.88 233.73L958.62 233.73L960.37 233.73L962.12 233.73L963.87 233.73L965.62 233.73L967.37 233.73L969.11 233.73L970.86 233.73L972.61 233.73L974.36 233.73L976.11 233.73L977.86 233.73L979.6 233.73L981.35 233.73L983.1 233.73L984.85 233.73L986.6 233.73L988.35 233.73L990.09 233.73L991.84 233.73L993.59 233.73L995.34 233.73L997.09 233.73L998.84 233.73L1000.58 233.73L1002.33 233.73L1004.08 233.73L1005.83 233.73L1007.58 233.73L1009.33 233.73L1011.07 233.73L1012.82 233.73L1014.57 233.73L1016.32 233.73L1018.07 233.73L1019.82 233.73L1021.56 233.73L1023.31 233.73L1025.06 233.73L1026.81 233.73L1028.56 233.73L1030.31 233.73L1032.05 233.73L1033.8 233.73L1035.55 233.73L1037.3 233.73" stroke="#ff0000" stroke-width="3.85" fill="none" stroke-linejoin="round"/>
<g clip-path="url(#cBL)">
<path d="M148.61 704.95V783.15M150.45 707.9V786.1M152.14 710.02V788.21M153.83 725.79V803.99M155.51 734.25V812.44M157.2 757.2V835.4M158.9 725.09V803.29M160.59 715.64V793.84M162.28 712.13V790.33M163.96 741V819.2M165.66 719.45V797.65M167.21 683.82V762.01M168.9 785.37V863.57M170.59 796.64V874.84M172.27 665.08V743.28M173.97 769.17V847.36M175.66 706.21V784.41M177.35 733.12V811.32M178.9 666.36V744.55M180.58 767.63V845.82M182.28 757.9V836.09M184.11 646.21V724.41M185.66 762.41V840.61M187.35 717.76V795.96M189.03 775.79V853.98M190.73 737.76V815.95M192.42 724.38V802.58M194.11 718.47V796.67M195.8 730.85V809.05M197.49 752.12V830.32M199.18 705.51V783.71M200.87 694.94V773.14M202.56 760.16V838.36M204.25 705.8V783.99M205.94 747.34V825.53M207.63 720.86V799.05M209.32 676.29V766.16M211.01 729.45V807.64M212.7 716.77V794.97M214.39 734.25V812.44M216.08 740.87V819.06M217.77 722.41V800.61M219.46 733.4V811.6M221.15 753.11V831.31M222.84 747.49V825.68M224.53 758.18V836.38M226.22 732.28V810.47M227.77 766.35V844.55M229.46 707.48V785.68M231.15 707.2V785.4M232.84 730.01V808.21M234.53 735.22V813.42M236.22 775.79V853.98M237.91 748.46V826.66M239.6 713.82V792.02M241.29 723.26V801.45M242.98 734.38V812.58M244.67 740.3V818.5M246.36 703.83V782.02M248.05 714.1V792.3M249.74 720.16V798.36M251.29 748.18V826.38M252.98 832.12V910.32M254.67 792.27V870.47M256.36 753.96V832.15M258.05 789.18V867.37M259.74 770.16V848.36M261.43 700.02V778.22M263.12 754.8V833M264.81 748.05V826.25M266.5 733.82V812.01M268.19 712.55V790.75M269.88 737.06V815.26M271.57 741V819.2M273.26 751V829.19M274.81 784.94V863.14M276.5 701V779.19M278.19 741.28V819.48M279.88 685.22V763.42M281.57 746.21V824.41M283.26 770.01V848.21M284.95 641.85V720.04M286.64 657.06V735.25M288.33 739.87V818.07M290.02 772.26V850.46M291.71 752.98V831.18M293.4 765.64V843.84M294.95 813.67V891.87M296.78 795.51V873.71M298.48 725.23V803.42M300.16 764.8V843M301.71 741.28V819.48M303.4 732.56V810.75M305.09 755.51V833.71M306.79 715.93V794.12M308.47 736.78V814.97M310.16 765.08V843.28M311.85 751.28V829.47M313.54 744.24V822.44M315.24 709.59V787.78M316.92 779.59V857.79M318.61 734.66V812.86M320.3 742.55V820.75M322 719.17V797.37M323.69 773.12V851.32M325.37 713.26V791.46M327.06 685.79V763.98M328.75 756.21V834.41M330.45 727.06V805.26M332.14 742.41V820.6M333.82 729.03V807.23M335.51 803.82V882.02M337.21 730.72V808.92M338.9 781.28V859.48M340.59 763.82V842.02M342.28 685.65V763.85M343.96 741.28V819.48M345.66 796.08V874.27M347.35 716.92V795.11M349.04 753.54V831.74M350.73 716.92V795.11M352.42 781.71V859.91M354.11 705.23V783.43M355.8 713.39V791.59M357.49 741.71V819.91M359.18 703.11V781.31M360.87 730.72V808.92M362.56 771V849.2M364.25 726.07V804.27M365.94 751.56V829.75M367.63 801.14V879.34M369.32 752.27V830.47M371.01 748.74V826.94M372.7 759.45V837.65M374.39 709.59V787.78M376.08 764.52V842.71M377.77 762.13V840.33M379.46 752.55V830.75M381.15 707.62V785.81M382.84 744.09V822.29M384.53 747.9V826.1M386.22 753.54V831.74M387.91 712.98V791.17M389.6 706.36V784.55M391.29 728.19V806.38M392.98 789.31V867.51M394.67 734.38V812.58M396.36 742.41V820.6M398.05 718.32V796.52M399.74 731.85V810.04M401.43 771.57V849.76M403.12 772.97V851.17M404.81 737.19V815.39M406.5 774.53V852.73M408.19 784.94V863.14M409.88 729.59V807.79M411.57 732.69V810.89M413.26 762.13V840.33M414.95 708.46V786.66M416.64 785.37V863.57M418.33 785.93V864.13M420.02 761.14V839.34M421.71 781.71V859.91M423.4 774.38V852.58M425.09 753.82V832.02M426.78 756.08V834.27M428.48 737.06V815.26M429.32 779.31V857.51M431.01 788.89V867.09M432.7 808.04V886.24M434.39 716.35V794.55M436.08 776.07V854.27M437.77 721.7V799.9M439.46 725.37V803.57M441.15 772.26V850.46M442.84 823.25V901.45M444.53 800.86V879.06M446.22 821.14V899.33M447.91 693.96V772.16M449.6 780.59V858.78M451.29 730.44V808.64M452.98 754.95V833.15M454.67 771.57V849.76M456.36 764.52V842.71M458.05 761.98V840.18M459.74 744.8V823M461.43 752.83V831.03M463.12 776.78V854.98M464.81 746.21V824.41M466.5 790.43V868.63M468.05 740.87V819.06M469.74 796.08V874.27M471.43 808.75V886.95M473.12 764.1V842.3M474.81 842.4V920.6M476.5 766.63V844.83M478.19 801.42V879.62M479.88 680.01V758.21M481.57 798.33V876.52M483.26 777.19V855.39M484.95 827.62V905.82M486.64 728.75V806.95M488.33 838.74V916.94M490.02 801.42V879.62M491.71 775.09V853.29M493.4 777.62V855.82M495.09 735.22V813.42M496.78 768.32V846.52M498.47 785.78V863.98M500.16 746.21V824.41M501.86 788.18V866.38M503.54 732.56V810.75M505.23 757.76V835.96M506.92 801.14V879.34M508.47 791.99V870.19M510.17 749.03V827.22M511.85 763.11V841.31M513.54 748.33V826.53M515.23 749.31V827.5M516.92 735.09V813.29M518.62 719.73V797.93M520.3 780.44V858.63M521.99 742.41V820.6M523.68 728.04V806.24M525.38 767.63V845.82M527.07 697.21V775.4M528.75 757.76V835.96M530.44 774.38V852.58M532.13 737.47V815.67M533.83 773.68V851.88M535.52 744.38V822.57M537.21 753.96V832.15M538.89 745.52V823.71M540.59 766.92V845.11M542.28 734.38V812.58M543.97 741.56V819.76M545.66 761.01V839.2M547.34 765.51V843.71M549.04 803.96V882.15M550.73 792.4V870.6M552.42 782.27V860.47M554.11 777.62V855.82M555.8 755.79V833.99M557.35 734.81V813M559.04 739.31V817.51M560.73 749.59V827.79M562.42 801.14V879.34M564.11 725.51V803.7M565.8 733.96V812.16M567.49 756.77V834.97M569.18 795.08V873.28M570.87 705.08V783.28M572.56 765.36V843.56M574.25 780.72V858.92M575.66 808.89V887.08M577.63 715.93V794.12M579.32 770.57V848.77M581.01 759.6V837.8M582.7 781.99V860.19M584.39 750.43V828.63M586.08 747.2V825.4M587.77 770.16V848.36M589.46 786.63V864.83M590.73 817.34V895.54M592.84 782.13V860.32M594.53 746.49V824.69M596.22 746.08V824.28M597.91 739.18V817.37M599.18 866.91V945.11M601.15 727.76V805.96M602.84 776.63V854.83M604.25 898.61V976.8M605.94 821V899.2M607.77 740.72V818.91M609.32 631V709.2M611.01 854.52V932.71M612.84 766.92V845.11M614.53 773.68V851.88M616.22 791.43V869.62M617.91 748.74V826.94M619.6 797.9V876.1M621.29 796.36V874.56M622.98 772.97V851.17M624.67 741.84V820.04M629.46 833.68V911.88M631.43 768.75V846.95M633.12 784.53V862.72M634.53 811.14V889.34M636.5 800.86V879.06M637.91 807.61V885.81M641.43 785.37V863.57M643.12 801.29V879.49M644.81 732.69V810.89M646.36 845.65V923.84M648.19 792.55V870.75M651.57 767.63V845.82M653.26 772.69V850.89M654.95 694.24V772.44M656.64 745.93V824.13M658.33 744.52V822.72M660.02 756.36V834.55M661.71 735.79V813.98M663.4 740.3V818.5M665.1 790.3V868.5M666.5 827.34V905.54M668.47 803.54V881.74M670.16 782.27V860.47M671.85 762.41V840.61M673.55 744.24V822.44M674.81 640.44V718.64M676.5 653.4V731.59M678.33 814.81V893.01M680.16 805.23V883.43M681.71 863.26V941.45M683.54 768.47V846.67M685.23 753.39V831.59M686.92 708.61V786.81M688.62 745.09V823.28M690.31 749.87V828.07M691.99 745.52V823.71M693.4 872.97V951.17M695.37 734.53V812.72M697.07 735.37V813.57M698.76 786.21V864.41M700.44 784.38V862.57M702.13 773.4V851.6M703.83 764.52V842.71M705.52 678.6V756.8M707.21 736.07V814.26M708.75 712.98V791.17M710.44 799.17V877.37M712.14 763.54V841.74M713.83 726.5V804.7M715.52 744.09V822.29M717.2 740.3V818.5M718.61 827.62V905.82M720.59 691V769.2M722.28 675.23V753.42M723.97 705.65V783.84M725.65 706.49V784.69M727.35 742.69V820.88M729.04 685.37V763.57M730.17 812.98V891.17M731.85 734.38V812.58M733.54 786.21V864.41M735.23 748.46V826.66M736.92 773.25V851.45M738.62 716.21V794.4M740.3 702.97V781.16M741.99 664.11V742.3M743.68 740.87V819.06M745.38 827.9V906.1M746.93 724.38V802.58M748.61 798.61V876.81M750.3 774.53V852.73M751.99 737.9V816.1M753.69 742.41V820.6M755.38 812.55V890.74M757.06 742.27V820.47M758.75 816.35V894.55M760.44 901.7V979.9M762.14 753.96V832.15M763.83 806.21V884.4M765.51 753.68V831.87M767.2 683.68V761.88M768.9 727.91V806.1M770.59 671.29V749.48M772.28 748.61V826.81M773.97 708.74V786.94M775.65 722.41V800.61M777.35 789.31V867.51M778.9 640.44V718.64M780.59 636.78V714.98M782.27 705.37V783.56M783.96 754.11V832.3M785.66 656.64V734.84M787.35 686.78V764.98M789.04 696.21V774.41M790.73 785.65V863.85M792.42 673.11V751.31M794.11 859.17V937.36M795.8 734.94V813.14M797.49 747.49V825.68M799.18 718.47V796.67M800.87 754.39V832.58M802.56 861.42V939.62M804.25 738.47V816.66M805.8 816.07V894.27M807.63 725.37V803.57M809.32 739.59V817.79M811.01 690.02V768.22M812.7 765.92V844.12M814.39 753.54V831.74M815.94 819.88V898.07M817.77 756.36V834.55M819.32 690.72V768.92M821.01 799.45V877.65M822.7 762.55V840.74M824.39 714.52V792.72M826.08 745.93V824.13M827.77 726.35V804.55M829.46 742.55V820.75M831.15 772.83V851.02M832.84 756.64V834.83M834.53 784.66V862.86M836.22 741.56V819.76M837.91 743.12V821.31M839.46 790.3V868.5M841.15 866.07V944.27M842.84 721.14V799.34M844.53 707.05V785.25M846.22 707.9V786.1M847.91 700.86V779.06M849.6 754.67V832.87M851.29 739.18V817.37M852.98 690.16V768.35M854.67 645.22V723.42M856.36 726.07V804.27M857.91 844.67V922.87M859.74 691.71V769.91M861.43 685.09V763.29M863.12 771V849.2M864.81 711.29V789.49M866.36 654.24V732.44M868.19 728.88V807.08M869.88 748.05V826.25M871.57 747.2V825.4M873.26 729.59V807.79M874.95 762.27V840.46M876.64 733.4V811.6M878.33 698.75V776.94M879.88 756.08V834.27M881.57 770.01V848.21M883.26 742.41V820.6M884.95 752.83V831.03M886.64 718.19V796.39M888.33 736.07V814.26M890.02 754.39V832.58M891.71 719.73V797.93M895.09 743.25V821.45M896.78 718.89V797.08M898.47 684.94V763.14M900.16 737.47V815.67M901.86 706.36V784.55M903.54 731.71V809.91M905.23 772.13V850.33M906.92 740.58V818.78M908.62 726.07V804.27M910.31 735.22V813.42M911.99 793.4V871.59M913.68 733.4V811.6M915.37 759.88V838.08M917.07 693.81V772.01M918.76 768.32V846.52M920.44 753.39V831.59M921.99 722.13V800.33M923.68 769.32V847.51M925.38 781.84V860.04M927.07 779.31V857.51M928.75 713.11V791.31M930.44 758.46V836.66M932.14 723.95V802.15M933.83 702.97V781.16M935.52 768.6V846.8M937.2 747.06V825.25M938.89 741.28V819.48M940.59 735.65V813.85M942.28 732.56V810.75M943.97 737.06V815.26M945.65 705.8V783.99M947.35 744.8V823M948.9 818.47V896.67M950.73 692.27V770.47M952.42 705.8V783.99M954.1 701.84V780.04M955.8 699.59V777.79M957.49 758.18V836.38M959.18 734.38V812.58M960.87 740.87V819.06M962.27 607.62V685.82M964.11 693.96V772.16M965.8 762.83V841.03M967.49 749.59V827.79M969.18 758.61V836.8M970.87 764.52V842.71M972.56 761.85V840.05M974.25 782.97V861.17M975.94 736.78V814.97M977.63 756.08V834.27M979.32 747.77V825.96M981.01 707.34V785.53M982.7 718.89V797.08M984.39 708.89V787.09M986.08 749.03V827.22M987.77 706.49V784.69M989.46 720.58V798.77M991.15 783.53V861.73M992.84 745.8V823.99M994.53 733.4V811.6M996.22 748.89V827.09M997.91 735.37V813.57M999.6 761.01V839.2M1001.29 756.36V834.55M1002.98 709.45V787.65M1004.67 781.84V860.04M1006.22 701.14V779.34M1007.91 728.32V806.52M1009.6 749.03V827.22M1011.29 734.53V812.72M1012.98 691.84V770.04M1014.67 696.49V774.69M1016.36 757.2V835.4M1018.05 785.93V864.13M1019.74 731.99V810.19M1021.43 762.27V840.46M1023.12 715.64V793.84" stroke="#c0c0c0" stroke-width="2.9" fill="none"/>
<g fill="none" stroke="#808080" stroke-width="2"><circle cx="148.61" cy="744.05" r="1.85"/><circle cx="150.45" cy="747" r="1.85"/><circle cx="152.14" cy="749.11" r="1.85"/><circle cx="153.83" cy="764.89" r="1.85"/><circle cx="155.51" cy="773.34" r="1.85"/><circle cx="157.2" cy="796.3" r="1.85"/><circle cx="158.9" cy="764.19" r="1.85"/><circle cx="160.59" cy="754.74" r="1.85"/><circle cx="162.28" cy="751.23" r="1.85"/><circle cx="163.96" cy="780.1" r="1.85"/><circle cx="165.66" cy="758.55" r="1.85"/><circle cx="167.21" cy="722.92" r="1.85"/><circle cx="168.9" cy="824.47" r="1.85"/><circle cx="170.59" cy="835.74" r="1.85"/><circle cx="172.27" cy="704.18" r="1.85"/><circle cx="173.97" cy="808.27" r="1.85"/><circle cx="175.66" cy="745.31" r="1.85"/><circle cx="177.35" cy="772.22" r="1.85"/><circle cx="178.9" cy="705.45" r="1.85"/><circle cx="180.58" cy="806.73" r="1.85"/><circle cx="182.28" cy="797" r="1.85"/><circle cx="184.11" cy="685.31" r="1.85"/><circle cx="185.66" cy="801.51" r="1.85"/><circle cx="187.35" cy="756.86" r="1.85"/><circle cx="189.03" cy="814.89" r="1.85"/><circle cx="190.73" cy="776.85" r="1.85"/><circle cx="192.42" cy="763.48" r="1.85"/><circle cx="194.11" cy="757.57" r="1.85"/><circle cx="195.8" cy="769.95" r="1.85"/><circle cx="197.49" cy="791.22" r="1.85"/><circle cx="199.18" cy="744.61" r="1.85"/><circle cx="200.87" cy="734.04" r="1.85"/><circle cx="202.56" cy="799.26" r="1.85"/><circle cx="204.25" cy="744.89" r="1.85"/><circle cx="205.94" cy="786.44" r="1.85"/><circle cx="207.63" cy="759.96" r="1.85"/><circle cx="209.32" cy="721.23" r="1.85"/><circle cx="211.01" cy="768.55" r="1.85"/><circle cx="212.7" cy="755.87" r="1.85"/><circle cx="214.39" cy="773.34" r="1.85"/><circle cx="216.08" cy="779.96" r="1.85"/><circle cx="217.77" cy="761.51" r="1.85"/><circle cx="219.46" cy="772.5" r="1.85"/><circle cx="221.15" cy="792.21" r="1.85"/><circle cx="222.84" cy="786.58" r="1.85"/><circle cx="224.53" cy="797.28" r="1.85"/><circle cx="226.22" cy="771.37" r="1.85"/><circle cx="227.77" cy="805.45" r="1.85"/><circle cx="229.46" cy="746.58" r="1.85"/><circle cx="231.15" cy="746.3" r="1.85"/><circle cx="232.84" cy="769.11" r="1.85"/><circle cx="234.53" cy="774.32" r="1.85"/><circle cx="236.22" cy="814.89" r="1.85"/><circle cx="237.91" cy="787.56" r="1.85"/><circle cx="239.6" cy="752.92" r="1.85"/><circle cx="241.29" cy="762.35" r="1.85"/><circle cx="242.98" cy="773.48" r="1.85"/><circle cx="244.67" cy="779.4" r="1.85"/><circle cx="246.36" cy="742.92" r="1.85"/><circle cx="248.05" cy="753.2" r="1.85"/><circle cx="249.74" cy="759.26" r="1.85"/><circle cx="251.29" cy="787.28" r="1.85"/><circle cx="252.98" cy="871.22" r="1.85"/><circle cx="254.67" cy="831.37" r="1.85"/><circle cx="256.36" cy="793.06" r="1.85"/><circle cx="258.05" cy="828.27" r="1.85"/><circle cx="259.74" cy="809.26" r="1.85"/><circle cx="261.43" cy="739.12" r="1.85"/><circle cx="263.12" cy="793.9" r="1.85"/><circle cx="264.81" cy="787.15" r="1.85"/><circle cx="266.5" cy="772.91" r="1.85"/><circle cx="268.19" cy="751.65" r="1.85"/><circle cx="269.88" cy="776.16" r="1.85"/><circle cx="271.57" cy="780.1" r="1.85"/><circle cx="273.26" cy="790.09" r="1.85"/><circle cx="274.81" cy="824.04" r="1.85"/><circle cx="276.5" cy="740.1" r="1.85"/><circle cx="278.19" cy="780.38" r="1.85"/><circle cx="279.88" cy="724.32" r="1.85"/><circle cx="281.57" cy="785.31" r="1.85"/><circle cx="283.26" cy="809.11" r="1.85"/><circle cx="284.95" cy="680.94" r="1.85"/><circle cx="286.64" cy="696.15" r="1.85"/><circle cx="288.33" cy="778.97" r="1.85"/><circle cx="290.02" cy="811.36" r="1.85"/><circle cx="291.71" cy="792.08" r="1.85"/><circle cx="293.4" cy="804.74" r="1.85"/><circle cx="294.95" cy="852.77" r="1.85"/><circle cx="296.78" cy="834.61" r="1.85"/><circle cx="298.48" cy="764.32" r="1.85"/><circle cx="300.16" cy="803.9" r="1.85"/><circle cx="301.71" cy="780.38" r="1.85"/><circle cx="303.4" cy="771.66" r="1.85"/><circle cx="305.09" cy="794.61" r="1.85"/><circle cx="306.79" cy="755.02" r="1.85"/><circle cx="308.47" cy="775.88" r="1.85"/><circle cx="310.16" cy="804.18" r="1.85"/><circle cx="311.85" cy="790.38" r="1.85"/><circle cx="313.54" cy="783.34" r="1.85"/><circle cx="315.24" cy="748.69" r="1.85"/><circle cx="316.92" cy="818.69" r="1.85"/><circle cx="318.61" cy="773.76" r="1.85"/><circle cx="320.3" cy="781.65" r="1.85"/><circle cx="322" cy="758.27" r="1.85"/><circle cx="323.69" cy="812.22" r="1.85"/><circle cx="325.37" cy="752.36" r="1.85"/><circle cx="327.06" cy="724.89" r="1.85"/><circle cx="328.75" cy="795.31" r="1.85"/><circle cx="330.45" cy="766.16" r="1.85"/><circle cx="332.14" cy="781.5" r="1.85"/><circle cx="333.82" cy="768.13" r="1.85"/><circle cx="335.51" cy="842.92" r="1.85"/><circle cx="337.21" cy="769.82" r="1.85"/><circle cx="338.9" cy="820.38" r="1.85"/><circle cx="340.59" cy="802.92" r="1.85"/><circle cx="342.28" cy="724.75" r="1.85"/><circle cx="343.96" cy="780.38" r="1.85"/><circle cx="345.66" cy="835.18" r="1.85"/><circle cx="347.35" cy="756.02" r="1.85"/><circle cx="349.04" cy="792.64" r="1.85"/><circle cx="350.73" cy="756.02" r="1.85"/><circle cx="352.42" cy="820.81" r="1.85"/><circle cx="354.11" cy="744.33" r="1.85"/><circle cx="355.8" cy="752.49" r="1.85"/><circle cx="357.49" cy="780.81" r="1.85"/><circle cx="359.18" cy="742.21" r="1.85"/><circle cx="360.87" cy="769.82" r="1.85"/><circle cx="362.56" cy="810.1" r="1.85"/><circle cx="364.25" cy="765.17" r="1.85"/><circle cx="365.94" cy="790.66" r="1.85"/><circle cx="367.63" cy="840.24" r="1.85"/><circle cx="369.32" cy="791.37" r="1.85"/><circle cx="371.01" cy="787.84" r="1.85"/><circle cx="372.7" cy="798.55" r="1.85"/><circle cx="374.39" cy="748.69" r="1.85"/><circle cx="376.08" cy="803.62" r="1.85"/><circle cx="377.77" cy="801.23" r="1.85"/><circle cx="379.46" cy="791.65" r="1.85"/><circle cx="381.15" cy="746.72" r="1.85"/><circle cx="382.84" cy="783.19" r="1.85"/><circle cx="384.53" cy="787" r="1.85"/><circle cx="386.22" cy="792.64" r="1.85"/><circle cx="387.91" cy="752.08" r="1.85"/><circle cx="389.6" cy="745.46" r="1.85"/><circle cx="391.29" cy="767.29" r="1.85"/><circle cx="392.98" cy="828.41" r="1.85"/><circle cx="394.67" cy="773.48" r="1.85"/><circle cx="396.36" cy="781.5" r="1.85"/><circle cx="398.05" cy="757.42" r="1.85"/><circle cx="399.74" cy="770.94" r="1.85"/><circle cx="401.43" cy="810.66" r="1.85"/><circle cx="403.12" cy="812.07" r="1.85"/><circle cx="404.81" cy="776.29" r="1.85"/><circle cx="406.5" cy="813.63" r="1.85"/><circle cx="408.19" cy="824.04" r="1.85"/><circle cx="409.88" cy="768.69" r="1.85"/><circle cx="411.57" cy="771.79" r="1.85"/><circle cx="413.26" cy="801.23" r="1.85"/><circle cx="414.95" cy="747.56" r="1.85"/><circle cx="416.64" cy="824.47" r="1.85"/><circle cx="418.33" cy="825.03" r="1.85"/><circle cx="420.02" cy="800.24" r="1.85"/><circle cx="421.71" cy="820.81" r="1.85"/><circle cx="423.4" cy="813.48" r="1.85"/><circle cx="425.09" cy="792.92" r="1.85"/><circle cx="426.78" cy="795.17" r="1.85"/><circle cx="428.48" cy="776.16" r="1.85"/><circle cx="429.32" cy="818.41" r="1.85"/><circle cx="431.01" cy="827.99" r="1.85"/><circle cx="432.7" cy="847.14" r="1.85"/><circle cx="434.39" cy="755.45" r="1.85"/><circle cx="436.08" cy="815.17" r="1.85"/><circle cx="437.77" cy="760.8" r="1.85"/><circle cx="439.46" cy="764.47" r="1.85"/><circle cx="441.15" cy="811.36" r="1.85"/><circle cx="442.84" cy="862.35" r="1.85"/><circle cx="444.53" cy="839.96" r="1.85"/><circle cx="446.22" cy="860.23" r="1.85"/><circle cx="447.91" cy="733.06" r="1.85"/><circle cx="449.6" cy="819.68" r="1.85"/><circle cx="451.29" cy="769.54" r="1.85"/><circle cx="452.98" cy="794.05" r="1.85"/><circle cx="454.67" cy="810.66" r="1.85"/><circle cx="456.36" cy="803.62" r="1.85"/><circle cx="458.05" cy="801.08" r="1.85"/><circle cx="459.74" cy="783.9" r="1.85"/><circle cx="461.43" cy="791.93" r="1.85"/><circle cx="463.12" cy="815.88" r="1.85"/><circle cx="464.81" cy="785.31" r="1.85"/><circle cx="466.5" cy="829.53" r="1.85"/><circle cx="468.05" cy="779.96" r="1.85"/><circle cx="469.74" cy="835.18" r="1.85"/><circle cx="471.43" cy="847.85" r="1.85"/><circle cx="473.12" cy="803.2" r="1.85"/><circle cx="474.81" cy="881.5" r="1.85"/><circle cx="476.5" cy="805.73" r="1.85"/><circle cx="478.19" cy="840.52" r="1.85"/><circle cx="479.88" cy="719.11" r="1.85"/><circle cx="481.57" cy="837.43" r="1.85"/><circle cx="483.26" cy="816.29" r="1.85"/><circle cx="484.95" cy="866.72" r="1.85"/><circle cx="486.64" cy="767.85" r="1.85"/><circle cx="488.33" cy="877.84" r="1.85"/><circle cx="490.02" cy="840.52" r="1.85"/><circle cx="491.71" cy="814.19" r="1.85"/><circle cx="493.4" cy="816.72" r="1.85"/><circle cx="495.09" cy="774.32" r="1.85"/><circle cx="496.78" cy="807.42" r="1.85"/><circle cx="498.47" cy="824.88" r="1.85"/><circle cx="500.16" cy="785.31" r="1.85"/><circle cx="501.86" cy="827.28" r="1.85"/><circle cx="503.54" cy="771.66" r="1.85"/><circle cx="505.23" cy="796.86" r="1.85"/><circle cx="506.92" cy="840.24" r="1.85"/><circle cx="508.47" cy="831.09" r="1.85"/><circle cx="510.17" cy="788.12" r="1.85"/><circle cx="511.85" cy="802.21" r="1.85"/><circle cx="513.54" cy="787.43" r="1.85"/><circle cx="515.23" cy="788.41" r="1.85"/><circle cx="516.92" cy="774.19" r="1.85"/><circle cx="518.62" cy="758.83" r="1.85"/><circle cx="520.3" cy="819.54" r="1.85"/><circle cx="521.99" cy="781.5" r="1.85"/><circle cx="523.68" cy="767.14" r="1.85"/><circle cx="525.38" cy="806.73" r="1.85"/><circle cx="527.07" cy="736.3" r="1.85"/><circle cx="528.75" cy="796.86" r="1.85"/><circle cx="530.44" cy="813.48" r="1.85"/><circle cx="532.13" cy="776.57" r="1.85"/><circle cx="533.83" cy="812.78" r="1.85"/><circle cx="535.52" cy="783.47" r="1.85"/><circle cx="537.21" cy="793.06" r="1.85"/><circle cx="538.89" cy="784.61" r="1.85"/><circle cx="540.59" cy="806.01" r="1.85"/><circle cx="542.28" cy="773.48" r="1.85"/><circle cx="543.97" cy="780.66" r="1.85"/><circle cx="545.66" cy="800.11" r="1.85"/><circle cx="547.34" cy="804.61" r="1.85"/><circle cx="549.04" cy="843.05" r="1.85"/><circle cx="550.73" cy="831.5" r="1.85"/><circle cx="552.42" cy="821.37" r="1.85"/><circle cx="554.11" cy="816.72" r="1.85"/><circle cx="555.8" cy="794.89" r="1.85"/><circle cx="557.35" cy="773.91" r="1.85"/><circle cx="559.04" cy="778.41" r="1.85"/><circle cx="560.73" cy="788.69" r="1.85"/><circle cx="562.42" cy="840.24" r="1.85"/><circle cx="564.11" cy="764.61" r="1.85"/><circle cx="565.8" cy="773.06" r="1.85"/><circle cx="567.49" cy="795.87" r="1.85"/><circle cx="569.18" cy="834.18" r="1.85"/><circle cx="570.87" cy="744.18" r="1.85"/><circle cx="572.56" cy="804.46" r="1.85"/><circle cx="574.25" cy="819.82" r="1.85"/><circle cx="575.66" cy="847.99" r="1.85"/><circle cx="577.63" cy="755.02" r="1.85"/><circle cx="579.32" cy="809.67" r="1.85"/><circle cx="581.01" cy="798.7" r="1.85"/><circle cx="582.7" cy="821.09" r="1.85"/><circle cx="584.39" cy="789.53" r="1.85"/><circle cx="586.08" cy="786.3" r="1.85"/><circle cx="587.77" cy="809.26" r="1.85"/><circle cx="589.46" cy="825.73" r="1.85"/><circle cx="590.73" cy="856.44" r="1.85"/><circle cx="592.84" cy="821.22" r="1.85"/><circle cx="594.53" cy="785.59" r="1.85"/><circle cx="596.22" cy="785.18" r="1.85"/><circle cx="597.91" cy="778.28" r="1.85"/><circle cx="599.18" cy="906.01" r="1.85"/><circle cx="601.15" cy="766.86" r="1.85"/><circle cx="602.84" cy="815.73" r="1.85"/><circle cx="604.25" cy="937.71" r="1.85"/><circle cx="605.94" cy="860.1" r="1.85"/><circle cx="607.77" cy="779.82" r="1.85"/><circle cx="609.32" cy="670.1" r="1.85"/><circle cx="611.01" cy="893.62" r="1.85"/><circle cx="612.84" cy="806.01" r="1.85"/><circle cx="614.53" cy="812.78" r="1.85"/><circle cx="616.22" cy="830.53" r="1.85"/><circle cx="617.91" cy="787.84" r="1.85"/><circle cx="619.6" cy="837" r="1.85"/><circle cx="621.29" cy="835.46" r="1.85"/><circle cx="622.98" cy="812.07" r="1.85"/><circle cx="624.67" cy="780.94" r="1.85"/><circle cx="629.46" cy="872.78" r="1.85"/><circle cx="631.43" cy="807.85" r="1.85"/><circle cx="633.12" cy="823.62" r="1.85"/><circle cx="634.53" cy="850.24" r="1.85"/><circle cx="636.5" cy="839.96" r="1.85"/><circle cx="637.91" cy="846.71" r="1.85"/><circle cx="641.43" cy="824.47" r="1.85"/><circle cx="643.12" cy="840.39" r="1.85"/><circle cx="644.81" cy="771.79" r="1.85"/><circle cx="646.36" cy="884.74" r="1.85"/><circle cx="648.19" cy="831.65" r="1.85"/><circle cx="651.57" cy="806.73" r="1.85"/><circle cx="653.26" cy="811.79" r="1.85"/><circle cx="654.95" cy="733.34" r="1.85"/><circle cx="656.64" cy="785.03" r="1.85"/><circle cx="658.33" cy="783.62" r="1.85"/><circle cx="660.02" cy="795.46" r="1.85"/><circle cx="661.71" cy="774.88" r="1.85"/><circle cx="663.4" cy="779.4" r="1.85"/><circle cx="665.1" cy="829.4" r="1.85"/><circle cx="666.5" cy="866.44" r="1.85"/><circle cx="668.47" cy="842.64" r="1.85"/><circle cx="670.16" cy="821.37" r="1.85"/><circle cx="671.85" cy="801.51" r="1.85"/><circle cx="673.55" cy="783.34" r="1.85"/><circle cx="674.81" cy="679.54" r="1.85"/><circle cx="676.5" cy="692.5" r="1.85"/><circle cx="678.33" cy="853.91" r="1.85"/><circle cx="680.16" cy="844.33" r="1.85"/><circle cx="681.71" cy="902.35" r="1.85"/><circle cx="683.54" cy="807.57" r="1.85"/><circle cx="685.23" cy="792.49" r="1.85"/><circle cx="686.92" cy="747.71" r="1.85"/><circle cx="688.62" cy="784.18" r="1.85"/><circle cx="690.31" cy="788.97" r="1.85"/><circle cx="691.99" cy="784.61" r="1.85"/><circle cx="693.4" cy="912.07" r="1.85"/><circle cx="695.37" cy="773.63" r="1.85"/><circle cx="697.07" cy="774.47" r="1.85"/><circle cx="698.76" cy="825.31" r="1.85"/><circle cx="700.44" cy="823.48" r="1.85"/><circle cx="702.13" cy="812.5" r="1.85"/><circle cx="703.83" cy="803.62" r="1.85"/><circle cx="705.52" cy="717.7" r="1.85"/><circle cx="707.21" cy="775.17" r="1.85"/><circle cx="708.75" cy="752.08" r="1.85"/><circle cx="710.44" cy="838.27" r="1.85"/><circle cx="712.14" cy="802.64" r="1.85"/><circle cx="713.83" cy="765.6" r="1.85"/><circle cx="715.52" cy="783.19" r="1.85"/><circle cx="717.2" cy="779.4" r="1.85"/><circle cx="718.61" cy="866.72" r="1.85"/><circle cx="720.59" cy="730.1" r="1.85"/><circle cx="722.28" cy="714.33" r="1.85"/><circle cx="723.97" cy="744.75" r="1.85"/><circle cx="725.65" cy="745.59" r="1.85"/><circle cx="727.35" cy="781.79" r="1.85"/><circle cx="729.04" cy="724.47" r="1.85"/><circle cx="730.17" cy="852.07" r="1.85"/><circle cx="731.85" cy="773.48" r="1.85"/><circle cx="733.54" cy="825.31" r="1.85"/><circle cx="735.23" cy="787.56" r="1.85"/><circle cx="736.92" cy="812.35" r="1.85"/><circle cx="738.62" cy="755.31" r="1.85"/><circle cx="740.3" cy="742.06" r="1.85"/><circle cx="741.99" cy="703.2" r="1.85"/><circle cx="743.68" cy="779.96" r="1.85"/><circle cx="745.38" cy="867" r="1.85"/><circle cx="746.93" cy="763.48" r="1.85"/><circle cx="748.61" cy="837.71" r="1.85"/><circle cx="750.3" cy="813.63" r="1.85"/><circle cx="751.99" cy="777" r="1.85"/><circle cx="753.69" cy="781.5" r="1.85"/><circle cx="755.38" cy="851.64" r="1.85"/><circle cx="757.06" cy="781.37" r="1.85"/><circle cx="758.75" cy="855.45" r="1.85"/><circle cx="760.44" cy="940.8" r="1.85"/><circle cx="762.14" cy="793.06" r="1.85"/><circle cx="763.83" cy="845.31" r="1.85"/><circle cx="765.51" cy="792.77" r="1.85"/><circle cx="767.2" cy="722.78" r="1.85"/><circle cx="768.9" cy="767.01" r="1.85"/><circle cx="770.59" cy="710.39" r="1.85"/><circle cx="772.28" cy="787.71" r="1.85"/><circle cx="773.97" cy="747.84" r="1.85"/><circle cx="775.65" cy="761.51" r="1.85"/><circle cx="777.35" cy="828.41" r="1.85"/><circle cx="778.9" cy="679.54" r="1.85"/><circle cx="780.59" cy="675.88" r="1.85"/><circle cx="782.27" cy="744.46" r="1.85"/><circle cx="783.96" cy="793.2" r="1.85"/><circle cx="785.66" cy="695.74" r="1.85"/><circle cx="787.35" cy="725.88" r="1.85"/><circle cx="789.04" cy="735.31" r="1.85"/><circle cx="790.73" cy="824.75" r="1.85"/><circle cx="792.42" cy="712.21" r="1.85"/><circle cx="794.11" cy="898.27" r="1.85"/><circle cx="795.8" cy="774.04" r="1.85"/><circle cx="797.49" cy="786.58" r="1.85"/><circle cx="799.18" cy="757.57" r="1.85"/><circle cx="800.87" cy="793.49" r="1.85"/><circle cx="802.56" cy="900.52" r="1.85"/><circle cx="804.25" cy="777.56" r="1.85"/><circle cx="805.8" cy="855.17" r="1.85"/><circle cx="807.63" cy="764.47" r="1.85"/><circle cx="809.32" cy="778.69" r="1.85"/><circle cx="811.01" cy="729.12" r="1.85"/><circle cx="812.7" cy="805.02" r="1.85"/><circle cx="814.39" cy="792.64" r="1.85"/><circle cx="815.94" cy="858.98" r="1.85"/><circle cx="817.77" cy="795.46" r="1.85"/><circle cx="819.32" cy="729.82" r="1.85"/><circle cx="821.01" cy="838.55" r="1.85"/><circle cx="822.7" cy="801.65" r="1.85"/><circle cx="824.39" cy="753.62" r="1.85"/><circle cx="826.08" cy="785.03" r="1.85"/><circle cx="827.77" cy="765.45" r="1.85"/><circle cx="829.46" cy="781.65" r="1.85"/><circle cx="831.15" cy="811.92" r="1.85"/><circle cx="832.84" cy="795.74" r="1.85"/><circle cx="834.53" cy="823.76" r="1.85"/><circle cx="836.22" cy="780.66" r="1.85"/><circle cx="837.91" cy="782.21" r="1.85"/><circle cx="839.46" cy="829.4" r="1.85"/><circle cx="841.15" cy="905.17" r="1.85"/><circle cx="842.84" cy="760.24" r="1.85"/><circle cx="844.53" cy="746.15" r="1.85"/><circle cx="846.22" cy="747" r="1.85"/><circle cx="847.91" cy="739.96" r="1.85"/><circle cx="849.6" cy="793.77" r="1.85"/><circle cx="851.29" cy="778.28" r="1.85"/><circle cx="852.98" cy="729.25" r="1.85"/><circle cx="854.67" cy="684.32" r="1.85"/><circle cx="856.36" cy="765.17" r="1.85"/><circle cx="857.91" cy="883.77" r="1.85"/><circle cx="859.74" cy="730.81" r="1.85"/><circle cx="861.43" cy="724.19" r="1.85"/><circle cx="863.12" cy="810.1" r="1.85"/><circle cx="864.81" cy="750.39" r="1.85"/><circle cx="866.36" cy="693.34" r="1.85"/><circle cx="868.19" cy="767.98" r="1.85"/><circle cx="869.88" cy="787.15" r="1.85"/><circle cx="871.57" cy="786.3" r="1.85"/><circle cx="873.26" cy="768.69" r="1.85"/><circle cx="874.95" cy="801.36" r="1.85"/><circle cx="876.64" cy="772.5" r="1.85"/><circle cx="878.33" cy="737.84" r="1.85"/><circle cx="879.88" cy="795.17" r="1.85"/><circle cx="881.57" cy="809.11" r="1.85"/><circle cx="883.26" cy="781.5" r="1.85"/><circle cx="884.95" cy="791.93" r="1.85"/><circle cx="886.64" cy="757.29" r="1.85"/><circle cx="888.33" cy="775.17" r="1.85"/><circle cx="890.02" cy="793.49" r="1.85"/><circle cx="891.71" cy="758.83" r="1.85"/><circle cx="895.09" cy="782.35" r="1.85"/><circle cx="896.78" cy="757.99" r="1.85"/><circle cx="898.47" cy="724.04" r="1.85"/><circle cx="900.16" cy="776.57" r="1.85"/><circle cx="901.86" cy="745.46" r="1.85"/><circle cx="903.54" cy="770.81" r="1.85"/><circle cx="905.23" cy="811.23" r="1.85"/><circle cx="906.92" cy="779.68" r="1.85"/><circle cx="908.62" cy="765.17" r="1.85"/><circle cx="910.31" cy="774.32" r="1.85"/><circle cx="911.99" cy="832.49" r="1.85"/><circle cx="913.68" cy="772.5" r="1.85"/><circle cx="915.37" cy="798.98" r="1.85"/><circle cx="917.07" cy="732.91" r="1.85"/><circle cx="918.76" cy="807.42" r="1.85"/><circle cx="920.44" cy="792.49" r="1.85"/><circle cx="921.99" cy="761.23" r="1.85"/><circle cx="923.68" cy="808.41" r="1.85"/><circle cx="925.38" cy="820.94" r="1.85"/><circle cx="927.07" cy="818.41" r="1.85"/><circle cx="928.75" cy="752.21" r="1.85"/><circle cx="930.44" cy="797.56" r="1.85"/><circle cx="932.14" cy="763.05" r="1.85"/><circle cx="933.83" cy="742.06" r="1.85"/><circle cx="935.52" cy="807.7" r="1.85"/><circle cx="937.2" cy="786.15" r="1.85"/><circle cx="938.89" cy="780.38" r="1.85"/><circle cx="940.59" cy="774.75" r="1.85"/><circle cx="942.28" cy="771.66" r="1.85"/><circle cx="943.97" cy="776.16" r="1.85"/><circle cx="945.65" cy="744.89" r="1.85"/><circle cx="947.35" cy="783.9" r="1.85"/><circle cx="948.9" cy="857.57" r="1.85"/><circle cx="950.73" cy="731.37" r="1.85"/><circle cx="952.42" cy="744.89" r="1.85"/><circle cx="954.1" cy="740.94" r="1.85"/><circle cx="955.8" cy="738.69" r="1.85"/><circle cx="957.49" cy="797.28" r="1.85"/><circle cx="959.18" cy="773.48" r="1.85"/><circle cx="960.87" cy="779.96" r="1.85"/><circle cx="962.27" cy="646.72" r="1.85"/><circle cx="964.11" cy="733.06" r="1.85"/><circle cx="965.8" cy="801.93" r="1.85"/><circle cx="967.49" cy="788.69" r="1.85"/><circle cx="969.18" cy="797.71" r="1.85"/><circle cx="970.87" cy="803.62" r="1.85"/><circle cx="972.56" cy="800.95" r="1.85"/><circle cx="974.25" cy="822.07" r="1.85"/><circle cx="975.94" cy="775.88" r="1.85"/><circle cx="977.63" cy="795.17" r="1.85"/><circle cx="979.32" cy="786.87" r="1.85"/><circle cx="981.01" cy="746.43" r="1.85"/><circle cx="982.7" cy="757.99" r="1.85"/><circle cx="984.39" cy="747.99" r="1.85"/><circle cx="986.08" cy="788.12" r="1.85"/><circle cx="987.77" cy="745.59" r="1.85"/><circle cx="989.46" cy="759.67" r="1.85"/><circle cx="991.15" cy="822.63" r="1.85"/><circle cx="992.84" cy="784.9" r="1.85"/><circle cx="994.53" cy="772.5" r="1.85"/><circle cx="996.22" cy="787.99" r="1.85"/><circle cx="997.91" cy="774.47" r="1.85"/><circle cx="999.6" cy="800.11" r="1.85"/><circle cx="1001.29" cy="795.46" r="1.85"/><circle cx="1002.98" cy="748.55" r="1.85"/><circle cx="1004.67" cy="820.94" r="1.85"/><circle cx="1006.22" cy="740.24" r="1.85"/><circle cx="1007.91" cy="767.42" r="1.85"/><circle cx="1009.6" cy="788.12" r="1.85"/><circle cx="1011.29" cy="773.63" r="1.85"/><circle cx="1012.98" cy="730.94" r="1.85"/><circle cx="1014.67" cy="735.59" r="1.85"/><circle cx="1016.36" cy="796.3" r="1.85"/><circle cx="1018.05" cy="825.03" r="1.85"/><circle cx="1019.74" cy="771.09" r="1.85"/><circle cx="1021.43" cy="801.36" r="1.85"/><circle cx="1023.12" cy="754.74" r="1.85"/></g>
</g>
<path clip-path="url(#cBL)" d="M117.75 778.08L119.57 778.08L121.39 778.08L123.2 778.08L125.02 778.08L126.84 778.08L128.66 778.08L130.48 778.08L132.29 778.08L134.11 778.08L135.93 778.08L137.75 778.08L139.57 778.08L141.38 778.08L143.2 778.08L145.02 778.08L146.84 778.08L148.66 778.08L150.47 778.08L152.29 778.08L154.11 778.08L155.93 778.08L157.75 778.08L159.56 778.08L161.38 778.08L163.2 778.08L165.02 778.08L166.83 778.08L168.65 778.08L170.47 778.08L172.29 778.08L174.11 778.08L175.92 778.08L177.74 778.08L179.56 778.08L181.38 778.08L183.2 778.08L185.01 778.08L186.83 778.08L188.65 778.08L190.47 778.08L192.29 778.08L194.1 778.08L195.92 778.08L197.74 778.08L199.56 778.08L201.38 778.08L203.19 778.08L205.01 778.08L206.83 778.08L208.65 778.08L210.47 778.08L212.28 778.08L214.1 778.08L215.92 778.08L217.74 778.08L219.56 778.08L221.37 778.08L223.19 778.08L225.01 778.08L226.83 778.08L228.65 778.08L230.46 778.08L232.28 778.08L234.1 778.08L235.92 778.08L237.74 778.08L239.55 778.08L241.37 778.08L243.19 778.08L245.01 778.08L246.82 778.08L248.64 778.08L250.46 778.08L252.28 778.08L254.1 778.08L255.91 778.08L257.73 778.08L259.55 778.08L261.37 778.08L263.19 778.08L265 778.08L266.82 778.08L268.64 778.08L270.46 778.08L272.28 778.08L274.09 778.08L275.91 778.08L277.73 778.08L279.55 778.08L281.37 778.08L283.18 778.08L285 778.08L286.82 778.08L288.64 778.08L290.46 778.08L292.27 778.08L294.09 778.08L295.91 778.08L297.73 778.08L299.55 778.08L301.36 778.08L303.18 778.08L305 778.08L306.82 778.08L308.64 778.08L310.45 778.08L312.27 778.08L314.09 778.08L315.91 778.08L317.73 778.08L319.54 778.08L321.36 778.08L323.18 778.08L325 778.08L326.81 778.08L328.63 778.08L330.45 778.08L332.27 778.08L334.09 778.08L335.9 778.08L337.72 778.08L339.54 778.08L341.36 778.08L343.18 778.08L344.99 778.08L346.81 778.08L348.63 778.08L350.45 778.08L352.27 778.08L354.08 778.08L355.9 778.09L357.72 778.1L359.54 778.14L361.36 778.24L363.17 778.45L364.99 778.84L366.81 779.49L368.63 780.46L370.45 781.75L372.26 783.31L374.08 785.08L375.9 786.97L377.72 788.88L379.54 790.69L381.35 792.32L383.17 793.73L384.99 794.9L386.81 795.85L388.63 796.64L390.44 797.33L392.26 797.95L394.08 798.52L395.9 799.06L397.72 799.56L399.53 800.04L401.35 800.5L403.17 800.93L404.99 801.35L406.81 801.75L408.62 802.14L410.44 802.51L412.26 802.87L414.08 803.22L415.89 803.56L417.71 803.89L419.53 804.2L421.35 804.51L423.17 804.81L424.98 805.1L426.8 805.38L428.62 805.65L430.44 805.92L432.26 806.18L434.07 806.43L435.89 806.68L437.71 806.91L439.53 807.14L441.35 807.37L443.16 807.59L444.98 807.81L446.8 808.01L448.62 808.22L450.44 808.41L452.25 808.61L454.07 808.79L455.89 808.98L457.71 809.16L459.53 809.33L461.34 809.5L463.16 809.66L464.98 809.82L466.8 809.97L468.62 810.13L470.43 810.27L472.25 810.41L474.07 810.55L475.89 810.69L477.71 810.82L479.52 810.94L481.34 811.07L483.16 811.19L484.98 811.3L486.8 811.41L488.61 811.52L490.43 811.62L492.25 811.72L494.07 811.82L495.88 811.91L497.7 812L499.52 812.09L501.34 812.17L503.16 812.25L504.97 812.33L506.79 812.4L508.61 812.47L510.43 812.54L512.25 812.6L514.06 812.66L515.88 812.72L517.7 812.77L519.52 812.82L521.34 812.87L523.15 812.91L524.97 812.95L526.79 812.99L528.61 813.03L530.43 813.06L532.24 813.08L534.06 813.11L535.88 813.13L537.7 813.15L539.52 813.17L541.33 813.18L543.15 813.19L544.97 813.2L546.79 813.2L548.61 813.2L550.42 813.2L552.24 813.19L554.06 813.19L555.88 813.17L557.7 813.16L559.51 813.14L561.33 813.12L563.15 813.1L564.97 813.07L566.79 813.04L568.6 813.01L570.42 812.97L572.24 812.93L574.06 812.89L575.88 812.84L577.69 812.79L579.51 812.74L581.33 812.69L583.15 812.63L584.96 812.57L586.78 812.5L588.6 812.43L590.42 812.36L592.24 812.29L594.05 812.21L595.87 812.13L597.69 812.04L599.51 811.96L601.33 811.86L603.14 811.77L604.96 811.67L606.78 811.57L608.6 811.46L610.42 811.35L612.23 811.24L614.05 811.12L615.87 811L617.69 810.88L619.51 810.75L621.32 810.61L623.14 810.48L624.96 810.34L626.78 810.19L628.6 810.04L630.41 809.89L632.23 809.73L634.05 809.57L635.87 809.41L637.69 809.23L639.5 809.06L641.32 808.88L643.14 808.69L644.96 808.5L646.78 808.31L648.59 808.11L650.41 807.9L652.23 807.69L654.05 807.47L655.87 807.25L657.68 807.02L659.5 806.79L661.32 806.54L663.14 806.29L664.95 806.04L666.77 805.78L668.59 805.51L670.41 805.23L672.23 804.94L674.04 804.65L675.86 804.35L677.68 804.03L679.5 803.71L681.32 803.38L683.13 803.04L684.95 802.68L686.77 802.31L688.59 801.93L690.41 801.54L692.22 801.13L694.04 800.7L695.86 800.25L697.68 799.78L699.5 799.29L701.31 798.77L703.13 798.22L704.95 797.63L706.77 796.97L708.59 796.23L710.4 795.35L712.22 794.29L714.04 793L715.86 791.47L717.68 789.73L719.49 787.85L721.31 785.94L723.13 784.1L724.95 782.43L726.77 781.01L728.58 779.9L730.4 779.1L732.22 778.6L734.04 778.31L735.86 778.17L737.67 778.11L739.49 778.09L741.31 778.09L743.13 778.08L744.94 778.08L746.76 778.08L748.58 778.08L750.4 778.08L752.22 778.08L754.03 778.08L755.85 778.08L757.67 778.08L759.49 778.08L761.31 778.08L763.12 778.08L764.94 778.08L766.76 778.08L768.58 778.08L770.4 778.08L772.21 778.08L774.03 778.08L775.85 778.08L777.67 778.08L779.49 778.08L781.3 778.08L783.12 778.08L784.94 778.08L786.76 778.08L788.58 778.08L790.39 778.08L792.21 778.08L794.03 778.08L795.85 778.08L797.67 778.08L799.48 778.08L801.3 778.08L803.12 778.08L804.94 778.08L806.76 778.08L808.57 778.08L810.39 778.08L812.21 778.08L814.03 778.08L815.85 778.08L817.66 778.08L819.48 778.08L821.3 778.08L823.12 778.08L824.94 778.08L826.75 778.08L828.57 778.08L830.39 778.08L832.21 778.08L834.02 778.08L835.84 778.08L837.66 778.08L839.48 778.08L841.3 778.08L843.11 778.08L844.93 778.08L846.75 778.08L848.57 778.08L850.39 778.08L852.2 778.08L854.02 778.08L855.84 778.08L857.66 778.08L859.48 778.08L861.29 778.08L863.11 778.08L864.93 778.08L866.75 778.08L868.57 778.08L870.38 778.08L872.2 778.08L874.02 778.08L875.84 778.08L877.66 778.08L879.47 778.08L881.29 778.08L883.11 778.08L884.93 778.08L886.75 778.08L888.56 778.08L890.38 778.08L892.2 778.08L894.02 778.08L895.84 778.08L897.65 778.08L899.47 778.08L901.29 778.08L903.11 778.08L904.93 778.08L906.74 778.08L908.56 778.08L910.38 778.08L912.2 778.08L914.01 778.08L915.83 778.08L917.65 778.08L919.47 778.08L921.29 778.08L923.1 778.08L924.92 778.08L926.74 778.08L928.56 778.08L930.38 778.08L932.19 778.08L934.01 778.08L935.83 778.08L937.65 778.08L939.47 778.08L941.28 778.08L943.1 778.08L944.92 778.08L946.74 778.08L948.56 778.08L950.37 778.08L952.19 778.08L954.01 778.08L955.83 778.08L957.65 778.08L959.46 778.08L961.28 778.08L963.1 778.08L964.92 778.08L966.74 778.08L968.55 778.08L970.37 778.08L972.19 778.08L974.01 778.08L975.83 778.08L977.64 778.08L979.46 778.08L981.28 778.08L983.1 778.08L984.92 778.08L986.73 778.08L988.55 778.08L990.37 778.08L992.19 778.08L994.01 778.08L995.82 778.08L997.64 778.08L999.46 778.08L1001.28 778.08L1003.09 778.08L1004.91 778.08L1006.73 778.08L1008.55 778.08L1010.37 778.08L1012.18 778.08L1014 778.08L1015.82 778.08L1017.64 778.08L1019.46 778.08L1021.27 778.08L1023.09 778.08L1024.91 778.08" stroke="#ff0000" stroke-width="3.85" fill="none" stroke-linejoin="round"/>
<g clip-path="url(#cRT)">
<path d="M1187.66 250.24V374.25M1189.77 254.91V378.92M1191.71 258.27V382.28M1193.65 283.28V407.29M1195.59 296.69V420.7M1197.53 333.1V457.11M1199.47 282.18V406.19M1201.41 267.19V391.2M1203.35 261.63V385.64M1205.29 307.4V431.41M1207.24 273.23V397.24M1209.02 216.72V340.73M1210.96 377.77V501.78M1212.9 395.64V519.65M1214.84 187.01V311.02M1216.78 352.07V476.08M1218.72 252.23V376.24M1220.66 294.91V418.92M1222.44 189.03V313.04M1224.38 349.63V473.64M1226.33 334.2V458.21M1228.43 157.09V281.1M1230.21 341.36V465.37M1232.15 270.55V394.56M1234.09 362.57V486.58M1236.04 302.26V426.27M1237.98 281.05V405.06M1239.92 271.68V395.69M1241.86 291.31V415.32M1243.8 325.04V449.05M1245.74 251.13V375.14M1247.68 234.36V358.37M1249.62 337.79V461.8M1251.56 251.58V375.58M1253.51 317.46V441.47M1255.45 275.46V399.47M1257.39 204.79V347.31M1259.33 289.08V413.09M1261.27 268.98V392.99M1263.21 296.69V420.7M1265.15 307.19V431.2M1267.09 277.93V401.94M1269.03 295.35V419.36M1270.98 326.62V450.62M1272.92 317.69V441.7M1274.86 334.65V458.66M1276.8 293.57V417.58M1278.58 347.61V471.62M1280.52 254.25V378.26M1282.46 253.81V377.82M1284.4 289.98V413.99M1286.34 298.24V422.25M1288.29 362.57V486.58M1290.23 319.24V443.25M1292.17 264.31V388.31M1294.11 279.27V403.28M1296.05 296.9V420.91M1298 306.3V430.31M1299.94 248.45V372.46M1301.88 264.75V388.76M1303.82 274.36V398.37M1305.59 318.79V442.8M1307.54 451.92V575.93M1309.48 388.71V512.72M1311.42 327.95V451.96M1313.36 383.81V507.81M1315.31 353.65V477.66M1317.25 242.42V366.43M1319.19 329.29V453.3M1321.13 318.58V442.59M1323.07 296.01V420.02M1325.01 262.29V386.29M1326.95 301.16V425.17M1328.89 307.4V431.41M1330.83 323.26V447.27M1332.61 377.09V501.1M1334.56 243.97V367.98M1336.5 307.85V431.86M1338.44 218.95V342.96M1340.38 315.67V439.68M1342.32 353.41V477.42M1344.26 150.16V274.17M1346.2 174.28V298.29M1348.14 305.62V429.63M1350.08 356.98V480.99M1352.03 326.4V450.41M1353.97 346.48V470.49M1355.75 422.65V546.66M1357.85 393.86V517.87M1359.8 282.39V406.4M1361.74 345.15V469.16M1363.51 307.85V431.86M1365.45 294.02V418.03M1367.39 330.42V454.43M1369.34 267.64V391.65M1371.28 300.71V424.72M1373.22 345.59V469.6M1375.16 323.7V447.71M1377.1 312.55V436.56M1379.05 257.59V381.6M1380.99 368.61V492.62M1382.93 297.35V421.36M1384.87 309.87V433.88M1386.81 272.78V396.79M1388.75 358.35V482.36M1390.69 263.41V387.42M1392.63 219.84V343.85M1394.57 331.52V455.53M1396.52 285.3V409.31M1398.46 309.63V433.64M1400.4 288.43V412.44M1402.34 407.03V531.04M1404.28 291.1V415.11M1406.22 371.29V495.3M1408.16 343.6V467.61M1410.1 219.63V343.64M1412.04 307.85V431.86M1413.22 267.97V387.47M1413.99 394.75V518.76M1415.54 324.88V444.38M1415.93 269.21V393.22M1417.58 268.42V387.92M1417.87 327.3V451.31M1419.22 325.32V444.82M1419.81 269.21V393.22M1420.99 419.97V539.47M1421.76 371.97V495.98M1423.03 312.15V431.65M1423.7 250.68V374.69M1425.07 346.98V466.48M1425.64 263.62V387.63M1426.84 339.84V459.34M1427.58 308.53V432.54M1428.89 370.86V490.36M1429.52 247.32V371.33M1430.93 362.6V482.1M1431.46 291.1V415.11M1432.57 335.82V455.32M1433.4 354.99V479M1434.61 235.37V354.87M1435.34 283.73V407.74M1436.38 310.15V429.65M1437.28 324.15V448.16M1438.42 351.89V471.39M1439.23 402.78V526.79M1440.47 298.99V418.5M1441.17 325.28V449.29M1442.1 304.56V424.06M1443.11 319.69V443.7M1444.55 299.44V418.94M1445.05 336.67V460.68M1446.19 424.88V544.38M1446.99 257.59V381.6M1448.23 251.67V371.17M1448.93 344.7V468.71M1450.01 471.29V590.79M1450.87 340.92V464.93M1451.91 307.47V426.97M1452.81 325.72V449.73M1453.95 358.82V478.32M1454.75 254.46V378.47M1455.73 318.63V438.13M1456.7 312.31V436.32M1457.77 324.64V444.14M1458.64 318.35V442.36M1459.54 309.92V429.42M1460.58 327.3V451.31M1461.59 285.82V405.32M1462.52 262.97V386.98M1463.49 415.72V535.22M1464.46 252.47V376.48M1465.26 399.42V518.92M1466.41 287.09V411.1M1467.31 312.15V431.65M1468.35 384.02V508.03M1469.35 255.45V374.95M1470.29 296.9V420.91M1471.26 374.43V493.93M1472.23 309.63V433.64M1473.17 406.8V526.3M1474.17 271.45V395.45M1475.21 337.61V457.11M1476.11 292.89V416.9M1477.11 372.65V492.15M1478.05 355.88V479.89M1478.89 345.85V465.35M1479.99 358.11V482.12M1480.93 400.55V520.05M1481.93 301.37V425.38M1482.84 288.05V407.55M1483.88 360.58V484.59M1484.74 503V622.5M1485.82 377.09V501.1M1486.65 463.26V582.76M1487.76 289.32V413.33M1488.69 300.55V420.05M1489.7 294.23V418.24M1490.6 375.09V494.59M1491.64 340.92V464.93M1492.51 323.98V443.48M1493.58 255.8V379.81M1494.42 515.73V635.23M1495.52 377.77V501.78M1496.32 296.08V415.58M1497.46 378.66V502.67M1498.23 356.56V476.06M1499.4 339.35V463.35M1500.14 392.73V512.23M1501.35 371.97V495.98M1502.04 363.72V483.22M1503.29 360.34V484.35M1504.09 345.85V465.35M1505.23 327.74V451.75M1505.86 393.41V512.91M1507.17 331.31V455.32M1507.9 318.39V437.9M1509.12 301.16V425.17M1509.81 410.37V529.87M1510.08 368.16V492.17M1511.72 387.61V507.11M1512.02 383.36V507.37M1513.62 373.75V493.25M1513.97 413.73V537.74M1515.67 261.25V380.75M1515.91 268.32V392.33M1517.58 389.84V509.34M1517.85 363.02V487.03M1519.48 424.44V543.94M1519.79 276.8V400.81M1521.39 401.66V521.16M1521.73 282.62V406.63M1523.3 359.71V479.21M1523.67 356.98V480.99M1525.2 326.22V445.72M1525.61 437.85V561.86M1527.25 428.45V547.95M1527.55 402.34V526.35M1529.29 218.62V338.12M1529.49 434.49V558.5M1531.06 329.57V449.07M1531.44 232.81V356.82M1532.97 337.16V456.66M1533.38 370.18V494.19M1535.01 550.33V669.83M1535.32 290.66V414.67M1536.92 392.73V512.23M1537.26 329.53V453.54M1538.83 205V324.5M1539.2 355.88V479.89M1540.73 439.61V559.11M1541.15 344.7V468.71M1542.78 331.36V450.86M1543.09 340.68V464.69M1544.55 390.05V509.55M1545.03 313.44V437.45M1546.59 521.53V641.03M1546.97 326.17V450.18M1548.5 528.67V648.17M1548.91 364.15V488.16M1550.41 371.31V490.81M1550.85 315.67V439.68M1552.45 295.19V414.69M1552.79 385.8V509.81M1554.09 257.24V376.74M1554.57 307.19V431.2M1556.27 255.45V374.95M1556.51 394.75V518.76M1558.03 352.99V472.49M1558.46 414.85V538.86M1560.08 334.93V454.43M1560.4 344.04V468.05M1561.99 282.25V401.75M1562.34 468.22V592.23M1563.89 319.52V439.02M1564.28 348.06V472.07M1565.8 307.24V426.74M1566.22 403.23V527.24M1567.85 399.66V519.16M1568.16 210.69V334.69M1569.62 453.44V572.94M1570.1 398.32V522.33M1571.66 355.22V474.72M1572.04 364.8V488.81M1573.57 367.51V487.01M1573.98 444.78V568.79M1575.47 430.9V550.4M1575.93 287.98V411.99M1577.38 263.04V382.54M1577.87 462.42V586.42M1579.43 333.8V453.3M1579.81 403.23V527.24M1581.2 205V324.5M1581.75 361.47V485.48M1583.24 340.73V460.23M1583.69 365.49V489.5M1585.15 414.6V534.1M1585.63 298.24V422.25M1587.05 423.1V542.6M1587.58 350.74V474.75M1588.96 321.75V441.25M1589.52 378.43V502.44M1590.87 352.1V471.6M1591.46 315.67V439.68M1592.78 551.66V671.16M1593.4 382.23V506.24M1594.69 332.02V451.52M1595.34 294.02V418.03M1596.73 291.17V410.67M1597.28 333.99V458M1598.63 368.84V488.34M1599.22 402.78V526.79M1600.54 434.7V554.2M1601 388.27V512.28M1602.45 486.04V605.54M1602.95 320.13V444.14M1604.22 418.19V537.69M1604.89 342.47V466.48M1606.26 355.9V475.4M1606.83 319.03V443.04M1608.3 342.73V462.23M1608.77 320.58V444.59M1610.22 350.55V470.05M1610.71 298.03V422.04M1612.12 501.43V620.93M1612.65 273.68V397.69M1614.03 432.02V551.52M1614.59 369.95V493.96M1616.07 274.43V393.93M1616.53 309.63V433.64M1617.84 396.98V516.48M1618.47 286.85V410.86M1619.89 332.7V452.2M1620.42 349.63V473.64M1621.8 354.78V474.28M1622.36 237.95V361.96M1623.7 421.52V541.03M1624.3 333.99V458M1625.61 336.71V456.21M1626.24 360.34V484.35M1627.65 337.16V456.66M1628.18 301.81V425.82M1629.56 387.14V506.64M1630.12 359.24V483.25M1631.47 409.03V528.53M1632.06 312.76V436.77M1633.38 474.42V593.92M1634 327.95V451.96M1635.28 427.11V546.61M1635.94 314.57V438.58M1637.19 433.57V553.07M1637.89 348.5V472.51M1639.1 373.99V493.49M1639.83 296.9V420.91M1641 269.31V388.81M1641.77 308.3V432.31M1643.05 301.67V421.17M1643.71 339.13V463.14M1644.96 343.41V462.91M1645.65 346.27V470.28M1646.86 387.82V507.32M1647.6 407.25V531.25M1648.77 428.45V547.95M1649.54 388.93V512.94M1650.68 336.48V455.98M1651.48 372.86V496.87M1652.58 356.35V475.85M1653.42 365.49V489.5M1654.63 390.29V509.79M1655.36 330.87V454.88M1656.4 363.28V482.78M1657.14 297.59V421.6M1658.44 226.89V346.39M1659.08 304.73V428.74M1660.35 355.22V474.72M1661.02 321.03V445.04M1662.25 315.51V435.01M1662.96 402.78V526.79M1664.16 507.46V626.96M1664.91 282.84V406.85M1666.21 387.14V506.64M1666.85 296.25V420.26M1668.25 277.11V396.61M1668.79 332.42V456.43M1670.29 304.12V423.62M1670.73 393.18V517.19M1672.07 339.39V458.89M1672.67 250.45V374.46M1673.97 208.15V327.65M1674.61 346.04V470.05M1675.74 401.89V521.39M1676.55 370.39V494.4M1677.51 386.69V506.19M1678.17 415.07V539.08M1679.83 309.26V428.76M1680.43 267.64V391.65M1681.6 410.37V529.87M1682.38 354.31V478.32M1683.51 393.41V512.91M1684.32 336.9V460.91M1685.55 440.71V560.21M1686.26 372.41V496.42M1687.46 439.82V559.32M1688.2 322.36V446.37M1689.37 419.74V539.24M1690.14 317.24V441.25M1691.27 399.66V519.16M1692.08 353.65V477.66M1693.18 288.5V408M1694.02 379.77V503.78M1695.09 519.3V638.8M1695.48 428.48V552.49M1696.99 387.38V506.88M1697.9 372.63V496.64M1698.9 411.26V530.76M1699.85 316.12V440.13M1700.95 401V520.5M1701.79 315.46V439.47M1702.85 416.17V535.67M1703.73 304.51V428.52M1704.76 285.14V404.64M1705.19 507.09V631.1M1706.67 323.09V442.59M1707.45 286.41V410.42M1708.57 338.95V458.45M1709.39 363.91V487.92M1710.62 425.33V544.83M1711.01 557.35V681.36M1712.52 467.28V586.78M1712.95 434.28V558.29M1715.05 306.96V430.97M1716.34 364.83V484.33M1716.83 132.97V256.98M1718.24 309.7V429.21M1718.77 487.43V611.44M1720.29 339.84V459.34M1720.88 348.5V472.51M1722.2 375.33V494.83M1722.82 359.24V483.25M1724.1 415.49V534.99M1724.76 387.38V511.38M1726.01 354.12V473.62M1726.7 319.69V443.7M1728.06 417.95V537.46M1728.65 397.64V521.65M1729.96 403.89V523.39M1730.59 395.2V519.21M1731.87 490.27V609.77M1732.53 358.11V482.12M1733.78 363.04V482.54M1734.47 308.74V432.75M1735.68 399.21V518.71M1737.73 408.14V527.64M1739.64 372.41V491.91M1739.97 454.38V578.39M1741.54 328.68V448.18M1742.23 351.42V475.43M1743.45 369.08V488.58M1744.17 376.43V500.44M1745.36 317.29V436.79M1745.79 418.64V542.65M1747.26 415.04V534.54M1748.06 402.34V526.35M1749.17 336.03V455.53M1749.68 413.05V537.06M1751.22 268.18V387.68M1753.12 300.55V420.05M1753.72 377.77V501.78M1755.03 350.1V469.6M1755.66 403.02V527.03M1756.94 416.62V536.12M1757.6 294.23V418.24M1758.84 260.36V379.86M1759.38 473.36V597.37M1760.75 336.27V455.77M1761.48 389.16V513.17M1762.79 379.34V498.84M1764.7 324.88V444.38M1765.37 349.63V473.64M1766.61 312.15V431.65M1767.31 357.66V481.67M1768.51 399.66V519.16M1769.25 233.26V357.27M1770.43 372.2V491.7M1771.19 315.22V439.23M1772.47 390.05V509.55M1773.13 312.99V437M1774.37 405.91V525.41M1775.07 331.76V455.77M1776.28 330.47V449.97M1777.01 299.14V423.15M1778.19 299.21V418.71M1778.95 306.3V430.31M1780.09 304.8V424.3M1780.9 385.59V509.6M1782.01 255V374.5M1782.52 444.33V568.34M1783.91 409.48V528.98M1784.78 406.59V530.6M1785.95 314.61V434.11M1786.72 372.86V496.87M1787.86 334.48V453.98M1788.66 341.36V465.37M1789.77 394.3V513.8M1790.61 312.55V436.56M1791.68 421.76V541.26M1792.06 147.93V271.94M1793.59 331.36V450.86M1794 168.48V292.49M1795.49 317.06V436.56M1796.1 424.46V548.47M1797.53 389.84V509.34M1798.21 409.26V533.27M1799.44 357.01V476.51M1799.99 501.29V625.3M1801.35 317.5V437M1802.09 350.97V474.98M1803.26 413.49V532.99M1804.03 327.06V451.07M1805.17 358.82V478.32M1805.97 256.04V380.05M1807.07 380.89V500.39M1807.92 313.89V437.9M1809.11 375.54V495.04M1809.86 321.47V445.48M1811.02 335.59V455.09M1811.8 314.57V438.58M1813.41 516.69V640.7M1814.84 326.87V446.37M1815.68 297.14V421.15M1816.74 335.14V454.64M1817.62 298.48V422.49M1818.78 328.24V447.74M1819.56 379.11V503.12M1820.7 246.31V365.81M1821.5 376.2V500.21M1822.6 297.66V417.16M1823.44 358.79V482.8M1824.51 315.27V434.77M1825.39 344.7V468.71M1826.42 349.21V468.71M1827.33 208.45V332.46M1828.32 333.14V452.64M1829.27 299.58V423.59M1830.23 319.52V439.02M1831.05 262.97V386.98M1832.28 369.29V488.79M1832.99 399.66V523.67M1834.18 305.69V425.19M1834.93 343.15V467.16M1836.09 393.86V513.36M1836.87 284.41V408.42M1838 336.03V455.53M1838.81 312.31V436.32M1839.9 301.67V421.17M1840.75 306.3V430.31M1841.95 335.59V455.09M1842.37 444.78V568.79M1843.86 363.72V483.22M1844.64 228.11V352.12M1845.76 313.49V432.99M1846.58 203.1V327.11M1848.52 251.34V375.35M1849.71 305.69V425.19M1850.46 252.68V376.69M1851.62 335.14V454.64M1852.41 310.08V434.09M1853.53 299.44V418.94M1854.35 219.19V343.2M1854.89 265.06V384.56M1855.64 421.55V545.56M1856.53 264.38V383.88M1857.58 296.9V420.91M1859.38 262.83V382.33M1859.52 379.11V503.12M1861.29 271.75V391.25M1861.46 319.24V443.25M1863.2 261.49V380.99M1863.4 358.56V482.57M1865.11 333.14V452.64M1865.35 268.09V392.1M1867.01 284.48V403.98M1867.29 247.09V371.1M1868.92 405.67V525.17M1869.23 185.46V309.47M1870.97 246.08V365.58M1871.17 307.19V431.2M1872.87 332.46V451.96M1873.11 445.22V569.23M1874.78 343.62V463.12M1874.89 281.05V405.06M1876.69 215.29V334.79M1876.83 398.77V522.78M1878.59 255.69V375.19M1878.77 360.58V484.59M1880.5 272.88V392.38M1880.71 302.49V426.5M1882.41 254.35V373.85M1882.66 309.63V433.64M1884.45 329.79V449.29M1884.6 420.87V544.88M1886.36 380V499.5M1886.54 309.42V433.43M1888.27 242.96V362.46M1888.48 426.9V550.91M1890.17 404.57V524.07M1890.42 562.26V686.27M1892.08 352.99V472.49M1892.36 327.95V451.96M1894.13 304.56V424.06M1894.3 410.81V534.82M1896.03 425.78V545.28M1896.24 327.51V451.52M1897.94 250.1V369.6M1898.18 216.51V340.52M1899.85 217.52V337.02M1900.13 286.64V410.65M1901.75 265.95V385.45M1902.07 196.85V320.86M1903.8 217.52V337.02M1904.01 319.48V443.48M1905.71 286.71V406.21M1905.95 256.25V380.26M1907.61 314.61V434.11M1907.89 277.93V401.94M1909.52 343.62V463.12M1909.84 384.02V508.03M1911.43 368.19V487.69M1911.61 147.93V271.94M1913.47 371.97V491.47M1913.55 142.13V266.14M1915.38 317.5V437M1915.49 250.89V374.9M1917.28 301.67V421.17M1917.44 328.19V452.2M1919.19 338.95V458.45M1919.38 173.62V297.63M1921.1 341.62V461.12M1921.32 221.42V345.43M1923.01 282.25V401.75M1923.26 236.38V360.39M1924.91 154.34V273.84M1925.2 378.22V502.23M1926.82 440.06V559.56M1927.15 199.74V323.75M1928.86 278.89V398.39M1929.09 494.8V618.81M1930.77 281.8V401.3M1931.03 297.8V421.81M1932.68 271.99V391.49M1932.97 317.69V441.7M1934.58 428.9V548.4M1934.91 271.68V395.69M1936.49 207.91V327.41M1936.85 328.64V452.64M1938.4 241.17V360.67M1938.79 498.37V622.38M1940.44 350.76V470.26M1940.73 303.39V427.4M1942.35 290.94V410.44M1942.51 426.46V550.47M1944.26 257.92V377.42M1944.62 282.62V406.63M1946.16 226.44V345.94M1946.56 305.17V429.18M1948.07 328.68V448.18M1948.5 226.56V350.57M1949.98 264.16V383.66M1950.44 346.93V470.94M1952.02 336.93V456.43M1952.38 327.3V451.31M1953.93 395.85V515.35M1954.16 432.49V556.5M1955.84 366.4V485.9M1956.26 331.76V455.77M1957.74 361.94V481.44M1958.04 227.67V351.68M1959.65 325.53V445.04M1959.98 400.11V524.11M1961.56 332.02V451.52M1961.92 341.58V465.59M1963.47 244.98V364.48M1963.87 265.41V389.42M1965.38 354.12V473.62M1965.81 315.22V439.23M1967.28 255V374.5M1967.75 284.17V408.18M1969.19 361.49V480.99M1969.69 309.87V433.88M1971.1 234.69V354.19M1971.64 357.88V481.89M1973.14 320.18V439.68M1973.58 332.21V456.21M1975.05 227.99V347.49M1975.52 376.64V500.65M1976.96 214.16V333.66M1977.46 308.3V432.31M1978.86 240.28V359.78M1979.4 310.76V434.77M1980.77 339.84V459.34M1981.18 385.59V509.6M1982.81 335.14V454.64M1983.12 505.75V629.76M1984.72 278.44V397.94M1985.06 275.91V399.92M1986.63 265.5V385M1987 253.57V377.58M1988.53 301.23V420.73M1988.94 254.91V378.92M1990.44 267.73V387.23M1990.89 243.75V367.76M1992.49 291.39V410.89M1992.83 329.08V453.09M1994.39 321.52V441.02M1994.77 304.51V428.52M1996.3 406.12V525.62M1996.71 226.77V350.78M1998.21 211.04V330.54M1998.65 155.51V279.52M2000.11 274.22V393.72M2000.59 283.73V407.74M2002.16 260.36V379.86M2002.37 471.81V595.82M2004.07 359.47V478.97M2004.47 229.24V353.25M2005.97 300.55V420.05M2006.41 218.74V342.75M2007.88 316.4V435.9M2008.36 354.99V479M2009.65 181.14V300.64M2010.3 260.29V384.3M2011.83 268.63V388.13M2012.08 169.82V293.83M2013.74 317.74V437.24M2014.18 288.19V412.2M2015.65 352.33V471.83M2016.12 318.58V442.59M2017.55 221.98V341.48M2018.06 317.24V441.25M2019.46 289.6V409.1M2020 289.32V413.33M2021.37 256.34V375.84M2021.94 341.13V465.14M2023.27 186.49V305.99M2023.88 295.35V419.36M2025.32 406.12V525.62M2025.83 240.4V364.41M2027.23 349.87V469.37M2027.61 331.31V455.32M2029.27 347.87V467.37M2029.55 353.41V477.42M2031.17 358.58V478.08M2031.49 309.63V433.64M2033.08 360.37V479.87M2033.43 326.17V450.18M2034.99 297.66V417.16M2035.37 271.23V395.24M2036.9 435.15V554.65M2037.31 299.58V423.59M2038.8 319.08V438.58M2039.25 328.64V452.64M2040.71 245.87V365.37M2041.2 273.68V397.69M2042.62 250.99V370.49M2044.66 229.33V348.83M2045.08 310.97V434.98M2046.57 299.44V418.94M2047.02 272.34V396.35M2048.48 380.68V500.18M2048.96 218.51V342.52M2050.38 342.07V461.57M2050.9 301.81V425.82M2052.29 324.88V444.38M2052.85 252.47V376.48M2054.34 249.88V369.38M2054.79 292.68V416.69M2056.24 298.99V418.5M2056.73 356.77V480.78M2058.15 348.97V468.47M2058.67 306.75V430.76M2060.06 263.04V382.54M2060.61 283.73V407.74M2061.96 430.45V549.95M2062.55 298.24V422.25M2063.87 374.2V493.7M2064.49 390.5V514.51M2065.78 328.45V447.95M2066.43 295.35V419.36M2067.82 230.91V350.41M2068.37 337.35V461.36M2069.73 390.5V510M2070.32 232.57V356.58M2071.64 202.32V321.82M2072.26 350.74V474.75M2073.54 348.08V467.58M2074.2 327.06V451.07M2075.45 404.78V524.28M2075.98 277.48V401.49M2077.36 310.81V430.31M2077.92 352.31V476.32M2079.4 368.84V488.34M2079.86 372.18V496.19M2081.31 282.01V401.51M2081.8 368.16V492.17M2083.22 353.88V473.38M2083.74 263.18V387.19M2085.12 277.34V396.84M2085.68 335.09V459.1M2087.03 182.03V301.53M2087.63 280.37V404.38M2089.07 256.34V375.84M2089.57 247.09V371.1M2090.98 347.64V467.14M2091.51 351.18V475.19M2092.89 321.75V441.25M2093.45 317.01V441.02M2094.79 351.44V470.94M2095.39 307.85V431.86M2096.7 337.37V456.87M2097.34 298.92V422.93M2098.61 359.47V478.97M2099.28 294.02V418.03M2100.52 379.79V499.29M2101.22 301.16V425.17M2102.56 275.11V394.61M2103.16 251.58V375.58M2104.47 351.44V470.94M2105.1 313.44V437.45M2106.37 345.19V464.69M2106.88 430.26V554.27M2108.28 348.32V467.82M2108.98 230.13V354.14M2110.19 338.5V458M2110.92 251.58V375.58M2112.1 318.84V438.34M2112.86 245.3V369.31M2114.01 359.47V478.97M2114.81 241.73V365.74M2115.91 286.03V405.53M2116.75 334.65V458.66M2117.82 258.81V378.31M2118.69 296.9V420.91M2119.86 298.31V417.81M2120.63 307.19V431.2M2121.77 329.57V449.07M2122.25 95.88V219.89M2123.68 251.88V371.38M2124.35 232.81V356.82M2125.59 239.17V358.67M2126.29 342.02V466.03M2127.49 323.54V443.04M2128.23 321.03V445.04M2129.53 301.23V420.73M2130.17 335.33V459.34M2131.44 203V322.51M2132.12 344.7V468.71M2133.35 291.39V410.89M2134.06 340.47V464.48M2135.26 361.05V480.55M2136 373.96V497.97M2137.17 263.48V382.98M2137.94 300.71V424.72M2139.21 400.32V519.82M2139.88 331.31V455.32M2141.11 261.93V381.43M2141.82 318.14V442.15M2143.02 273.09V392.59M2143.76 254.02V378.03M2144.93 274.43V393.93M2145.7 272.34V396.35M2146.84 260.59V380.09M2147.64 256.48V380.49M2148.74 356.11V475.61M2149.59 320.13V444.14M2150.79 258.57V378.07M2151.53 252.68V376.69M2152.7 363.94V483.44M2153.47 275.02V399.02M2154.6 243.4V362.9M2155.41 374.86V498.87M2156.51 265.95V385.45M2157.35 315.01V439.02M2158.42 309.02V428.52M2159.3 295.35V419.36M2160.32 334.25V453.75M2161.24 319.92V443.93M2162.37 238.73V358.23M2163.18 298.48V422.49M2164.28 275.77V395.27M2165.12 339.13V463.14M2166.18 302.78V422.28M2167.06 331.76V455.77M2168.09 249.2V368.7M2169 257.38V381.39M2170 228.44V347.94M2170.94 372.18V496.19M2172.04 304.12V423.62M2172.72 244.2V368.21M2173.95 317.29V436.79M2174.66 287.3V411.31M2175.86 363.72V483.22M2176.61 320.13V444.14M2177.76 368.63V488.13M2178.55 297.14V421.15M2179.67 281.36V400.86M2180.49 229.45V353.46M2181.71 301.23V420.73M2182.43 236.83V360.84M2183.62 334.25V453.75M2184.37 333.1V457.11M2185.53 340.28V459.78M2186.31 378.66V502.67M2187.44 293.41V412.91M2188.25 293.12V417.13M2189.34 239.17V358.67M2190.19 341.13V465.14M2191.25 216.84V336.34M2192.13 267.19V391.2M2193.29 332.7V452.2M2195.2 297.21V416.71M2197.11 266.84V386.34M2199.02 316.61V436.11M2200.92 262.83V382.33M2202.97 272.64V392.14M2204.87 304.12V423.62M2206.78 347.19V466.69M2208.69 259.7V379.2M2210.59 226.44V345.94M2212.64 218.86V338.36" stroke="#c0c0c0" stroke-width="2.9" fill="none"/>
<g fill="none" stroke="#808080" stroke-width="2"><circle cx="1187.66" cy="312.24" r="1.85"/><circle cx="1189.77" cy="316.92" r="1.85"/><circle cx="1191.71" cy="320.27" r="1.85"/><circle cx="1193.65" cy="345.29" r="1.85"/><circle cx="1195.59" cy="358.7" r="1.85"/><circle cx="1197.53" cy="395.1" r="1.85"/><circle cx="1199.47" cy="344.18" r="1.85"/><circle cx="1201.41" cy="329.2" r="1.85"/><circle cx="1203.35" cy="323.63" r="1.85"/><circle cx="1205.29" cy="369.41" r="1.85"/><circle cx="1207.24" cy="335.23" r="1.85"/><circle cx="1209.02" cy="278.73" r="1.85"/><circle cx="1210.96" cy="439.77" r="1.85"/><circle cx="1212.9" cy="457.65" r="1.85"/><circle cx="1214.84" cy="249.02" r="1.85"/><circle cx="1216.78" cy="414.08" r="1.85"/><circle cx="1218.72" cy="314.24" r="1.85"/><circle cx="1220.66" cy="356.91" r="1.85"/><circle cx="1222.44" cy="251.04" r="1.85"/><circle cx="1224.38" cy="411.64" r="1.85"/><circle cx="1226.33" cy="396.21" r="1.85"/><circle cx="1228.43" cy="219.09" r="1.85"/><circle cx="1230.21" cy="403.37" r="1.85"/><circle cx="1232.15" cy="332.56" r="1.85"/><circle cx="1234.09" cy="424.58" r="1.85"/><circle cx="1236.04" cy="364.26" r="1.85"/><circle cx="1237.98" cy="343.06" r="1.85"/><circle cx="1239.92" cy="333.68" r="1.85"/><circle cx="1241.86" cy="353.32" r="1.85"/><circle cx="1243.8" cy="387.05" r="1.85"/><circle cx="1245.74" cy="313.13" r="1.85"/><circle cx="1247.68" cy="296.36" r="1.85"/><circle cx="1249.62" cy="399.8" r="1.85"/><circle cx="1251.56" cy="313.58" r="1.85"/><circle cx="1253.51" cy="379.46" r="1.85"/><circle cx="1255.45" cy="337.47" r="1.85"/><circle cx="1257.39" cy="276.05" r="1.85"/><circle cx="1259.33" cy="351.09" r="1.85"/><circle cx="1261.27" cy="330.98" r="1.85"/><circle cx="1263.21" cy="358.7" r="1.85"/><circle cx="1265.15" cy="369.2" r="1.85"/><circle cx="1267.09" cy="339.93" r="1.85"/><circle cx="1269.03" cy="357.36" r="1.85"/><circle cx="1270.98" cy="388.62" r="1.85"/><circle cx="1272.92" cy="379.7" r="1.85"/><circle cx="1274.86" cy="396.65" r="1.85"/><circle cx="1276.8" cy="355.57" r="1.85"/><circle cx="1278.58" cy="409.62" r="1.85"/><circle cx="1280.52" cy="316.26" r="1.85"/><circle cx="1282.46" cy="315.81" r="1.85"/><circle cx="1284.4" cy="351.98" r="1.85"/><circle cx="1286.34" cy="360.25" r="1.85"/><circle cx="1288.29" cy="424.58" r="1.85"/><circle cx="1290.23" cy="381.25" r="1.85"/><circle cx="1292.17" cy="326.31" r="1.85"/><circle cx="1294.11" cy="341.27" r="1.85"/><circle cx="1296.05" cy="358.91" r="1.85"/><circle cx="1298" cy="368.3" r="1.85"/><circle cx="1299.94" cy="310.46" r="1.85"/><circle cx="1301.88" cy="326.76" r="1.85"/><circle cx="1303.82" cy="336.36" r="1.85"/><circle cx="1305.59" cy="380.8" r="1.85"/><circle cx="1307.54" cy="513.92" r="1.85"/><circle cx="1309.48" cy="450.72" r="1.85"/><circle cx="1311.42" cy="389.96" r="1.85"/><circle cx="1313.36" cy="445.81" r="1.85"/><circle cx="1315.31" cy="415.65" r="1.85"/><circle cx="1317.25" cy="304.42" r="1.85"/><circle cx="1319.19" cy="391.3" r="1.85"/><circle cx="1321.13" cy="380.59" r="1.85"/><circle cx="1323.07" cy="358.02" r="1.85"/><circle cx="1325.01" cy="324.29" r="1.85"/><circle cx="1326.95" cy="363.16" r="1.85"/><circle cx="1328.89" cy="369.41" r="1.85"/><circle cx="1330.83" cy="385.26" r="1.85"/><circle cx="1332.61" cy="439.09" r="1.85"/><circle cx="1334.56" cy="305.97" r="1.85"/><circle cx="1336.5" cy="369.85" r="1.85"/><circle cx="1338.44" cy="280.96" r="1.85"/><circle cx="1340.38" cy="377.68" r="1.85"/><circle cx="1342.32" cy="415.42" r="1.85"/><circle cx="1344.26" cy="212.16" r="1.85"/><circle cx="1346.2" cy="236.29" r="1.85"/><circle cx="1348.14" cy="367.62" r="1.85"/><circle cx="1350.08" cy="418.99" r="1.85"/><circle cx="1352.03" cy="388.41" r="1.85"/><circle cx="1353.97" cy="408.49" r="1.85"/><circle cx="1355.75" cy="484.66" r="1.85"/><circle cx="1357.85" cy="455.86" r="1.85"/><circle cx="1359.8" cy="344.39" r="1.85"/><circle cx="1361.74" cy="407.15" r="1.85"/><circle cx="1363.51" cy="369.85" r="1.85"/><circle cx="1365.45" cy="356.02" r="1.85"/><circle cx="1367.39" cy="392.42" r="1.85"/><circle cx="1369.34" cy="329.65" r="1.85"/><circle cx="1371.28" cy="362.71" r="1.85"/><circle cx="1373.22" cy="407.6" r="1.85"/><circle cx="1375.16" cy="385.71" r="1.85"/><circle cx="1377.1" cy="374.55" r="1.85"/><circle cx="1379.05" cy="319.59" r="1.85"/><circle cx="1380.99" cy="430.61" r="1.85"/><circle cx="1382.93" cy="359.36" r="1.85"/><circle cx="1384.87" cy="371.87" r="1.85"/><circle cx="1386.81" cy="334.79" r="1.85"/><circle cx="1388.75" cy="420.35" r="1.85"/><circle cx="1390.69" cy="325.42" r="1.85"/><circle cx="1392.63" cy="281.85" r="1.85"/><circle cx="1394.57" cy="393.53" r="1.85"/><circle cx="1396.52" cy="347.31" r="1.85"/><circle cx="1398.46" cy="371.64" r="1.85"/><circle cx="1400.4" cy="350.43" r="1.85"/><circle cx="1402.34" cy="469.04" r="1.85"/><circle cx="1404.28" cy="353.11" r="1.85"/><circle cx="1406.22" cy="433.29" r="1.85"/><circle cx="1408.16" cy="405.6" r="1.85"/><circle cx="1410.1" cy="281.64" r="1.85"/><circle cx="1412.04" cy="369.85" r="1.85"/><circle cx="1413.22" cy="327.72" r="1.85"/><circle cx="1413.99" cy="456.75" r="1.85"/><circle cx="1415.54" cy="384.63" r="1.85"/><circle cx="1415.93" cy="331.22" r="1.85"/><circle cx="1417.58" cy="328.17" r="1.85"/><circle cx="1417.87" cy="389.3" r="1.85"/><circle cx="1419.22" cy="385.07" r="1.85"/><circle cx="1419.81" cy="331.22" r="1.85"/><circle cx="1420.99" cy="479.72" r="1.85"/><circle cx="1421.76" cy="433.97" r="1.85"/><circle cx="1423.03" cy="371.9" r="1.85"/><circle cx="1423.7" cy="312.69" r="1.85"/><circle cx="1425.07" cy="406.73" r="1.85"/><circle cx="1425.64" cy="325.63" r="1.85"/><circle cx="1426.84" cy="399.59" r="1.85"/><circle cx="1427.58" cy="370.54" r="1.85"/><circle cx="1428.89" cy="430.61" r="1.85"/><circle cx="1429.52" cy="309.33" r="1.85"/><circle cx="1430.93" cy="422.35" r="1.85"/><circle cx="1431.46" cy="353.11" r="1.85"/><circle cx="1432.57" cy="395.57" r="1.85"/><circle cx="1433.4" cy="416.99" r="1.85"/><circle cx="1434.61" cy="295.12" r="1.85"/><circle cx="1435.34" cy="345.73" r="1.85"/><circle cx="1436.38" cy="369.9" r="1.85"/><circle cx="1437.28" cy="386.15" r="1.85"/><circle cx="1438.42" cy="411.64" r="1.85"/><circle cx="1439.23" cy="464.79" r="1.85"/><circle cx="1440.47" cy="358.75" r="1.85"/><circle cx="1441.17" cy="387.28" r="1.85"/><circle cx="1442.1" cy="364.31" r="1.85"/><circle cx="1443.11" cy="381.69" r="1.85"/><circle cx="1444.55" cy="359.19" r="1.85"/><circle cx="1445.05" cy="398.67" r="1.85"/><circle cx="1446.19" cy="484.63" r="1.85"/><circle cx="1446.99" cy="319.59" r="1.85"/><circle cx="1448.23" cy="311.42" r="1.85"/><circle cx="1448.93" cy="406.7" r="1.85"/><circle cx="1450.01" cy="531.04" r="1.85"/><circle cx="1450.87" cy="402.92" r="1.85"/><circle cx="1451.91" cy="367.22" r="1.85"/><circle cx="1452.81" cy="387.73" r="1.85"/><circle cx="1453.95" cy="418.57" r="1.85"/><circle cx="1454.75" cy="316.47" r="1.85"/><circle cx="1455.73" cy="378.38" r="1.85"/><circle cx="1456.7" cy="374.32" r="1.85"/><circle cx="1457.77" cy="384.39" r="1.85"/><circle cx="1458.64" cy="380.35" r="1.85"/><circle cx="1459.54" cy="369.67" r="1.85"/><circle cx="1460.58" cy="389.3" r="1.85"/><circle cx="1461.59" cy="345.57" r="1.85"/><circle cx="1462.52" cy="324.97" r="1.85"/><circle cx="1463.49" cy="475.47" r="1.85"/><circle cx="1464.46" cy="314.47" r="1.85"/><circle cx="1465.26" cy="459.17" r="1.85"/><circle cx="1466.41" cy="349.09" r="1.85"/><circle cx="1467.31" cy="371.9" r="1.85"/><circle cx="1468.35" cy="446.02" r="1.85"/><circle cx="1469.35" cy="315.2" r="1.85"/><circle cx="1470.29" cy="358.91" r="1.85"/><circle cx="1471.26" cy="434.18" r="1.85"/><circle cx="1472.23" cy="371.64" r="1.85"/><circle cx="1473.17" cy="466.55" r="1.85"/><circle cx="1474.17" cy="333.45" r="1.85"/><circle cx="1475.21" cy="397.36" r="1.85"/><circle cx="1476.11" cy="354.89" r="1.85"/><circle cx="1477.11" cy="432.4" r="1.85"/><circle cx="1478.05" cy="417.88" r="1.85"/><circle cx="1478.89" cy="405.6" r="1.85"/><circle cx="1479.99" cy="420.12" r="1.85"/><circle cx="1480.93" cy="460.3" r="1.85"/><circle cx="1481.93" cy="363.37" r="1.85"/><circle cx="1482.84" cy="347.8" r="1.85"/><circle cx="1483.88" cy="422.58" r="1.85"/><circle cx="1484.74" cy="562.75" r="1.85"/><circle cx="1485.82" cy="439.09" r="1.85"/><circle cx="1486.65" cy="523.01" r="1.85"/><circle cx="1487.76" cy="351.32" r="1.85"/><circle cx="1488.69" cy="360.3" r="1.85"/><circle cx="1489.7" cy="356.23" r="1.85"/><circle cx="1490.6" cy="434.84" r="1.85"/><circle cx="1491.64" cy="402.92" r="1.85"/><circle cx="1492.51" cy="383.73" r="1.85"/><circle cx="1493.58" cy="317.81" r="1.85"/><circle cx="1494.42" cy="575.48" r="1.85"/><circle cx="1495.52" cy="439.77" r="1.85"/><circle cx="1496.32" cy="355.83" r="1.85"/><circle cx="1497.46" cy="440.67" r="1.85"/><circle cx="1498.23" cy="416.31" r="1.85"/><circle cx="1499.4" cy="401.35" r="1.85"/><circle cx="1500.14" cy="452.48" r="1.85"/><circle cx="1501.35" cy="433.97" r="1.85"/><circle cx="1502.04" cy="423.47" r="1.85"/><circle cx="1503.29" cy="422.35" r="1.85"/><circle cx="1504.09" cy="405.6" r="1.85"/><circle cx="1505.23" cy="389.75" r="1.85"/><circle cx="1505.86" cy="453.16" r="1.85"/><circle cx="1507.17" cy="393.32" r="1.85"/><circle cx="1507.9" cy="378.15" r="1.85"/><circle cx="1509.12" cy="363.16" r="1.85"/><circle cx="1509.81" cy="470.12" r="1.85"/><circle cx="1510.08" cy="430.17" r="1.85"/><circle cx="1511.72" cy="447.36" r="1.85"/><circle cx="1512.02" cy="445.36" r="1.85"/><circle cx="1513.62" cy="433.5" r="1.85"/><circle cx="1513.97" cy="475.73" r="1.85"/><circle cx="1515.67" cy="321" r="1.85"/><circle cx="1515.91" cy="330.33" r="1.85"/><circle cx="1517.58" cy="449.59" r="1.85"/><circle cx="1517.85" cy="425.02" r="1.85"/><circle cx="1519.48" cy="484.19" r="1.85"/><circle cx="1519.79" cy="338.8" r="1.85"/><circle cx="1521.39" cy="461.41" r="1.85"/><circle cx="1521.73" cy="344.63" r="1.85"/><circle cx="1523.3" cy="419.46" r="1.85"/><circle cx="1523.67" cy="418.99" r="1.85"/><circle cx="1525.2" cy="385.97" r="1.85"/><circle cx="1525.61" cy="499.85" r="1.85"/><circle cx="1527.25" cy="488.2" r="1.85"/><circle cx="1527.55" cy="464.34" r="1.85"/><circle cx="1529.29" cy="278.37" r="1.85"/><circle cx="1529.49" cy="496.49" r="1.85"/><circle cx="1531.06" cy="389.32" r="1.85"/><circle cx="1531.44" cy="294.81" r="1.85"/><circle cx="1532.97" cy="396.91" r="1.85"/><circle cx="1533.38" cy="432.19" r="1.85"/><circle cx="1535.01" cy="610.08" r="1.85"/><circle cx="1535.32" cy="352.66" r="1.85"/><circle cx="1536.92" cy="452.48" r="1.85"/><circle cx="1537.26" cy="391.53" r="1.85"/><circle cx="1538.83" cy="264.75" r="1.85"/><circle cx="1539.2" cy="417.88" r="1.85"/><circle cx="1540.73" cy="499.36" r="1.85"/><circle cx="1541.15" cy="406.7" r="1.85"/><circle cx="1542.78" cy="391.11" r="1.85"/><circle cx="1543.09" cy="402.69" r="1.85"/><circle cx="1544.55" cy="449.8" r="1.85"/><circle cx="1545.03" cy="375.44" r="1.85"/><circle cx="1546.59" cy="581.28" r="1.85"/><circle cx="1546.97" cy="388.17" r="1.85"/><circle cx="1548.5" cy="588.42" r="1.85"/><circle cx="1548.91" cy="426.15" r="1.85"/><circle cx="1550.41" cy="431.06" r="1.85"/><circle cx="1550.85" cy="377.68" r="1.85"/><circle cx="1552.45" cy="354.94" r="1.85"/><circle cx="1552.79" cy="447.81" r="1.85"/><circle cx="1554.09" cy="316.99" r="1.85"/><circle cx="1554.57" cy="369.2" r="1.85"/><circle cx="1556.27" cy="315.2" r="1.85"/><circle cx="1556.51" cy="456.75" r="1.85"/><circle cx="1558.03" cy="412.74" r="1.85"/><circle cx="1558.46" cy="476.86" r="1.85"/><circle cx="1560.08" cy="394.68" r="1.85"/><circle cx="1560.4" cy="406.05" r="1.85"/><circle cx="1561.99" cy="342" r="1.85"/><circle cx="1562.34" cy="530.22" r="1.85"/><circle cx="1563.89" cy="379.27" r="1.85"/><circle cx="1564.28" cy="410.06" r="1.85"/><circle cx="1565.8" cy="366.99" r="1.85"/><circle cx="1566.22" cy="465.23" r="1.85"/><circle cx="1567.85" cy="459.41" r="1.85"/><circle cx="1568.16" cy="272.69" r="1.85"/><circle cx="1569.62" cy="513.19" r="1.85"/><circle cx="1570.1" cy="460.32" r="1.85"/><circle cx="1571.66" cy="414.97" r="1.85"/><circle cx="1572.04" cy="426.81" r="1.85"/><circle cx="1573.57" cy="427.26" r="1.85"/><circle cx="1573.98" cy="506.78" r="1.85"/><circle cx="1575.47" cy="490.65" r="1.85"/><circle cx="1575.93" cy="349.98" r="1.85"/><circle cx="1577.38" cy="322.79" r="1.85"/><circle cx="1577.87" cy="524.42" r="1.85"/><circle cx="1579.43" cy="393.55" r="1.85"/><circle cx="1579.81" cy="465.23" r="1.85"/><circle cx="1581.2" cy="264.75" r="1.85"/><circle cx="1581.75" cy="423.47" r="1.85"/><circle cx="1583.24" cy="400.48" r="1.85"/><circle cx="1583.69" cy="427.49" r="1.85"/><circle cx="1585.15" cy="474.35" r="1.85"/><circle cx="1585.63" cy="360.25" r="1.85"/><circle cx="1587.05" cy="482.85" r="1.85"/><circle cx="1587.58" cy="412.74" r="1.85"/><circle cx="1588.96" cy="381.5" r="1.85"/><circle cx="1589.52" cy="440.43" r="1.85"/><circle cx="1590.87" cy="411.85" r="1.85"/><circle cx="1591.46" cy="377.68" r="1.85"/><circle cx="1592.78" cy="611.41" r="1.85"/><circle cx="1593.4" cy="444.24" r="1.85"/><circle cx="1594.69" cy="391.77" r="1.85"/><circle cx="1595.34" cy="356.02" r="1.85"/><circle cx="1596.73" cy="350.92" r="1.85"/><circle cx="1597.28" cy="395.99" r="1.85"/><circle cx="1598.63" cy="428.59" r="1.85"/><circle cx="1599.22" cy="464.79" r="1.85"/><circle cx="1600.54" cy="494.45" r="1.85"/><circle cx="1601" cy="450.27" r="1.85"/><circle cx="1602.45" cy="545.79" r="1.85"/><circle cx="1602.95" cy="382.14" r="1.85"/><circle cx="1604.22" cy="477.94" r="1.85"/><circle cx="1604.89" cy="404.47" r="1.85"/><circle cx="1606.26" cy="415.65" r="1.85"/><circle cx="1606.83" cy="381.03" r="1.85"/><circle cx="1608.3" cy="402.48" r="1.85"/><circle cx="1608.77" cy="382.58" r="1.85"/><circle cx="1610.22" cy="410.3" r="1.85"/><circle cx="1610.71" cy="360.04" r="1.85"/><circle cx="1612.12" cy="561.18" r="1.85"/><circle cx="1612.65" cy="335.68" r="1.85"/><circle cx="1614.03" cy="491.77" r="1.85"/><circle cx="1614.59" cy="431.95" r="1.85"/><circle cx="1616.07" cy="334.18" r="1.85"/><circle cx="1616.53" cy="371.64" r="1.85"/><circle cx="1617.84" cy="456.73" r="1.85"/><circle cx="1618.47" cy="348.86" r="1.85"/><circle cx="1619.89" cy="392.45" r="1.85"/><circle cx="1620.42" cy="411.64" r="1.85"/><circle cx="1621.8" cy="414.53" r="1.85"/><circle cx="1622.36" cy="299.96" r="1.85"/><circle cx="1623.7" cy="481.27" r="1.85"/><circle cx="1624.3" cy="395.99" r="1.85"/><circle cx="1625.61" cy="396.46" r="1.85"/><circle cx="1626.24" cy="422.35" r="1.85"/><circle cx="1627.65" cy="396.91" r="1.85"/><circle cx="1628.18" cy="363.82" r="1.85"/><circle cx="1629.56" cy="446.89" r="1.85"/><circle cx="1630.12" cy="421.24" r="1.85"/><circle cx="1631.47" cy="468.78" r="1.85"/><circle cx="1632.06" cy="374.76" r="1.85"/><circle cx="1633.38" cy="534.17" r="1.85"/><circle cx="1634" cy="389.96" r="1.85"/><circle cx="1635.28" cy="486.86" r="1.85"/><circle cx="1635.94" cy="376.57" r="1.85"/><circle cx="1637.19" cy="493.32" r="1.85"/><circle cx="1637.89" cy="410.51" r="1.85"/><circle cx="1639.1" cy="433.74" r="1.85"/><circle cx="1639.83" cy="358.91" r="1.85"/><circle cx="1641" cy="329.06" r="1.85"/><circle cx="1641.77" cy="370.3" r="1.85"/><circle cx="1643.05" cy="361.42" r="1.85"/><circle cx="1643.71" cy="401.14" r="1.85"/><circle cx="1644.96" cy="403.16" r="1.85"/><circle cx="1645.65" cy="408.28" r="1.85"/><circle cx="1646.86" cy="447.57" r="1.85"/><circle cx="1647.6" cy="469.25" r="1.85"/><circle cx="1648.77" cy="488.2" r="1.85"/><circle cx="1649.54" cy="450.93" r="1.85"/><circle cx="1650.68" cy="396.23" r="1.85"/><circle cx="1651.48" cy="434.87" r="1.85"/><circle cx="1652.58" cy="416.1" r="1.85"/><circle cx="1653.42" cy="427.49" r="1.85"/><circle cx="1654.63" cy="450.04" r="1.85"/><circle cx="1655.36" cy="392.87" r="1.85"/><circle cx="1656.4" cy="423.03" r="1.85"/><circle cx="1657.14" cy="359.59" r="1.85"/><circle cx="1658.44" cy="286.64" r="1.85"/><circle cx="1659.08" cy="366.73" r="1.85"/><circle cx="1660.35" cy="414.97" r="1.85"/><circle cx="1661.02" cy="383.03" r="1.85"/><circle cx="1662.25" cy="375.26" r="1.85"/><circle cx="1662.96" cy="464.79" r="1.85"/><circle cx="1664.16" cy="567.21" r="1.85"/><circle cx="1664.91" cy="344.84" r="1.85"/><circle cx="1666.21" cy="446.89" r="1.85"/><circle cx="1666.85" cy="358.25" r="1.85"/><circle cx="1668.25" cy="336.86" r="1.85"/><circle cx="1668.79" cy="394.42" r="1.85"/><circle cx="1670.29" cy="363.87" r="1.85"/><circle cx="1670.73" cy="455.18" r="1.85"/><circle cx="1672.07" cy="399.14" r="1.85"/><circle cx="1672.67" cy="312.45" r="1.85"/><circle cx="1673.97" cy="267.9" r="1.85"/><circle cx="1674.61" cy="408.04" r="1.85"/><circle cx="1675.74" cy="461.64" r="1.85"/><circle cx="1676.55" cy="432.4" r="1.85"/><circle cx="1677.51" cy="446.44" r="1.85"/><circle cx="1678.17" cy="477.07" r="1.85"/><circle cx="1679.83" cy="369.01" r="1.85"/><circle cx="1680.43" cy="329.65" r="1.85"/><circle cx="1681.6" cy="470.12" r="1.85"/><circle cx="1682.38" cy="416.31" r="1.85"/><circle cx="1683.51" cy="453.16" r="1.85"/><circle cx="1684.32" cy="398.91" r="1.85"/><circle cx="1685.55" cy="500.46" r="1.85"/><circle cx="1686.26" cy="434.42" r="1.85"/><circle cx="1687.46" cy="499.57" r="1.85"/><circle cx="1688.2" cy="384.37" r="1.85"/><circle cx="1689.37" cy="479.49" r="1.85"/><circle cx="1690.14" cy="379.25" r="1.85"/><circle cx="1691.27" cy="459.41" r="1.85"/><circle cx="1692.08" cy="415.65" r="1.85"/><circle cx="1693.18" cy="348.25" r="1.85"/><circle cx="1694.02" cy="441.77" r="1.85"/><circle cx="1695.09" cy="579.05" r="1.85"/><circle cx="1695.48" cy="490.48" r="1.85"/><circle cx="1696.99" cy="447.13" r="1.85"/><circle cx="1697.9" cy="434.63" r="1.85"/><circle cx="1698.9" cy="471.01" r="1.85"/><circle cx="1699.85" cy="378.12" r="1.85"/><circle cx="1700.95" cy="460.75" r="1.85"/><circle cx="1701.79" cy="377.46" r="1.85"/><circle cx="1702.85" cy="475.92" r="1.85"/><circle cx="1703.73" cy="366.52" r="1.85"/><circle cx="1704.76" cy="344.89" r="1.85"/><circle cx="1705.19" cy="569.09" r="1.85"/><circle cx="1706.67" cy="382.84" r="1.85"/><circle cx="1707.45" cy="348.41" r="1.85"/><circle cx="1708.57" cy="398.7" r="1.85"/><circle cx="1709.39" cy="425.92" r="1.85"/><circle cx="1710.62" cy="485.08" r="1.85"/><circle cx="1711.01" cy="619.35" r="1.85"/><circle cx="1712.52" cy="527.03" r="1.85"/><circle cx="1712.95" cy="496.28" r="1.85"/><circle cx="1715.05" cy="368.96" r="1.85"/><circle cx="1716.34" cy="424.58" r="1.85"/><circle cx="1716.83" cy="194.97" r="1.85"/><circle cx="1718.24" cy="369.45" r="1.85"/><circle cx="1718.77" cy="549.43" r="1.85"/><circle cx="1720.29" cy="399.59" r="1.85"/><circle cx="1720.88" cy="410.51" r="1.85"/><circle cx="1722.2" cy="435.08" r="1.85"/><circle cx="1722.82" cy="421.24" r="1.85"/><circle cx="1724.1" cy="475.24" r="1.85"/><circle cx="1724.76" cy="449.38" r="1.85"/><circle cx="1726.01" cy="413.87" r="1.85"/><circle cx="1726.7" cy="381.69" r="1.85"/><circle cx="1728.06" cy="477.71" r="1.85"/><circle cx="1728.65" cy="459.64" r="1.85"/><circle cx="1729.96" cy="463.64" r="1.85"/><circle cx="1730.59" cy="457.2" r="1.85"/><circle cx="1731.87" cy="550.02" r="1.85"/><circle cx="1732.53" cy="420.12" r="1.85"/><circle cx="1733.78" cy="422.79" r="1.85"/><circle cx="1734.47" cy="370.75" r="1.85"/><circle cx="1735.68" cy="458.96" r="1.85"/><circle cx="1737.73" cy="467.89" r="1.85"/><circle cx="1739.64" cy="432.16" r="1.85"/><circle cx="1739.97" cy="516.39" r="1.85"/><circle cx="1741.54" cy="388.43" r="1.85"/><circle cx="1742.23" cy="413.42" r="1.85"/><circle cx="1743.45" cy="428.83" r="1.85"/><circle cx="1744.17" cy="438.44" r="1.85"/><circle cx="1745.36" cy="377.04" r="1.85"/><circle cx="1745.79" cy="480.64" r="1.85"/><circle cx="1747.26" cy="474.79" r="1.85"/><circle cx="1748.06" cy="464.34" r="1.85"/><circle cx="1749.17" cy="395.78" r="1.85"/><circle cx="1749.68" cy="475.05" r="1.85"/><circle cx="1751.22" cy="327.93" r="1.85"/><circle cx="1753.12" cy="360.3" r="1.85"/><circle cx="1753.72" cy="439.77" r="1.85"/><circle cx="1755.03" cy="409.85" r="1.85"/><circle cx="1755.66" cy="465.02" r="1.85"/><circle cx="1756.94" cy="476.37" r="1.85"/><circle cx="1757.6" cy="356.23" r="1.85"/><circle cx="1758.84" cy="320.11" r="1.85"/><circle cx="1759.38" cy="535.36" r="1.85"/><circle cx="1760.75" cy="396.02" r="1.85"/><circle cx="1761.48" cy="451.17" r="1.85"/><circle cx="1762.79" cy="439.09" r="1.85"/><circle cx="1764.7" cy="384.63" r="1.85"/><circle cx="1765.37" cy="411.64" r="1.85"/><circle cx="1766.61" cy="371.9" r="1.85"/><circle cx="1767.31" cy="419.67" r="1.85"/><circle cx="1768.51" cy="459.41" r="1.85"/><circle cx="1769.25" cy="295.26" r="1.85"/><circle cx="1770.43" cy="431.95" r="1.85"/><circle cx="1771.19" cy="377.23" r="1.85"/><circle cx="1772.47" cy="449.8" r="1.85"/><circle cx="1773.13" cy="375" r="1.85"/><circle cx="1774.37" cy="465.66" r="1.85"/><circle cx="1775.07" cy="393.76" r="1.85"/><circle cx="1776.28" cy="390.22" r="1.85"/><circle cx="1777.01" cy="361.14" r="1.85"/><circle cx="1778.19" cy="358.96" r="1.85"/><circle cx="1778.95" cy="368.3" r="1.85"/><circle cx="1780.09" cy="364.55" r="1.85"/><circle cx="1780.9" cy="447.6" r="1.85"/><circle cx="1782.01" cy="314.75" r="1.85"/><circle cx="1782.52" cy="506.34" r="1.85"/><circle cx="1783.91" cy="469.23" r="1.85"/><circle cx="1784.78" cy="468.59" r="1.85"/><circle cx="1785.95" cy="374.36" r="1.85"/><circle cx="1786.72" cy="434.87" r="1.85"/><circle cx="1787.86" cy="394.23" r="1.85"/><circle cx="1788.66" cy="403.37" r="1.85"/><circle cx="1789.77" cy="454.05" r="1.85"/><circle cx="1790.61" cy="374.55" r="1.85"/><circle cx="1791.68" cy="481.51" r="1.85"/><circle cx="1792.06" cy="209.93" r="1.85"/><circle cx="1793.59" cy="391.11" r="1.85"/><circle cx="1794" cy="230.48" r="1.85"/><circle cx="1795.49" cy="376.81" r="1.85"/><circle cx="1796.1" cy="486.47" r="1.85"/><circle cx="1797.53" cy="449.59" r="1.85"/><circle cx="1798.21" cy="471.27" r="1.85"/><circle cx="1799.44" cy="416.76" r="1.85"/><circle cx="1799.99" cy="563.29" r="1.85"/><circle cx="1801.35" cy="377.25" r="1.85"/><circle cx="1802.09" cy="412.98" r="1.85"/><circle cx="1803.26" cy="473.24" r="1.85"/><circle cx="1804.03" cy="389.07" r="1.85"/><circle cx="1805.17" cy="418.57" r="1.85"/><circle cx="1805.97" cy="318.04" r="1.85"/><circle cx="1807.07" cy="440.64" r="1.85"/><circle cx="1807.92" cy="375.89" r="1.85"/><circle cx="1809.11" cy="435.29" r="1.85"/><circle cx="1809.86" cy="383.48" r="1.85"/><circle cx="1811.02" cy="395.34" r="1.85"/><circle cx="1811.8" cy="376.57" r="1.85"/><circle cx="1813.41" cy="578.7" r="1.85"/><circle cx="1814.84" cy="386.62" r="1.85"/><circle cx="1815.68" cy="359.14" r="1.85"/><circle cx="1816.74" cy="394.89" r="1.85"/><circle cx="1817.62" cy="360.48" r="1.85"/><circle cx="1818.78" cy="387.99" r="1.85"/><circle cx="1819.56" cy="441.11" r="1.85"/><circle cx="1820.7" cy="306.06" r="1.85"/><circle cx="1821.5" cy="438.2" r="1.85"/><circle cx="1822.6" cy="357.41" r="1.85"/><circle cx="1823.44" cy="420.8" r="1.85"/><circle cx="1824.51" cy="375.02" r="1.85"/><circle cx="1825.39" cy="406.7" r="1.85"/><circle cx="1826.42" cy="408.96" r="1.85"/><circle cx="1827.33" cy="270.46" r="1.85"/><circle cx="1828.32" cy="392.89" r="1.85"/><circle cx="1829.27" cy="361.59" r="1.85"/><circle cx="1830.23" cy="379.27" r="1.85"/><circle cx="1831.05" cy="324.97" r="1.85"/><circle cx="1832.28" cy="429.04" r="1.85"/><circle cx="1832.99" cy="461.66" r="1.85"/><circle cx="1834.18" cy="365.44" r="1.85"/><circle cx="1834.93" cy="405.15" r="1.85"/><circle cx="1836.09" cy="453.61" r="1.85"/><circle cx="1836.87" cy="346.41" r="1.85"/><circle cx="1838" cy="395.78" r="1.85"/><circle cx="1838.81" cy="374.32" r="1.85"/><circle cx="1839.9" cy="361.42" r="1.85"/><circle cx="1840.75" cy="368.3" r="1.85"/><circle cx="1841.95" cy="395.34" r="1.85"/><circle cx="1842.37" cy="506.78" r="1.85"/><circle cx="1843.86" cy="423.47" r="1.85"/><circle cx="1844.64" cy="290.12" r="1.85"/><circle cx="1845.76" cy="373.24" r="1.85"/><circle cx="1846.58" cy="265.1" r="1.85"/><circle cx="1848.52" cy="313.35" r="1.85"/><circle cx="1849.71" cy="365.44" r="1.85"/><circle cx="1850.46" cy="314.68" r="1.85"/><circle cx="1851.62" cy="394.89" r="1.85"/><circle cx="1852.41" cy="372.09" r="1.85"/><circle cx="1853.53" cy="359.19" r="1.85"/><circle cx="1854.35" cy="281.19" r="1.85"/><circle cx="1854.89" cy="324.81" r="1.85"/><circle cx="1855.64" cy="483.55" r="1.85"/><circle cx="1856.53" cy="324.13" r="1.85"/><circle cx="1857.58" cy="358.91" r="1.85"/><circle cx="1859.38" cy="322.58" r="1.85"/><circle cx="1859.52" cy="441.11" r="1.85"/><circle cx="1861.29" cy="331.5" r="1.85"/><circle cx="1861.46" cy="381.25" r="1.85"/><circle cx="1863.2" cy="321.24" r="1.85"/><circle cx="1863.4" cy="420.56" r="1.85"/><circle cx="1865.11" cy="392.89" r="1.85"/><circle cx="1865.35" cy="330.09" r="1.85"/><circle cx="1867.01" cy="344.23" r="1.85"/><circle cx="1867.29" cy="309.09" r="1.85"/><circle cx="1868.92" cy="465.42" r="1.85"/><circle cx="1869.23" cy="247.47" r="1.85"/><circle cx="1870.97" cy="305.83" r="1.85"/><circle cx="1871.17" cy="369.2" r="1.85"/><circle cx="1872.87" cy="392.21" r="1.85"/><circle cx="1873.11" cy="507.23" r="1.85"/><circle cx="1874.78" cy="403.37" r="1.85"/><circle cx="1874.89" cy="343.06" r="1.85"/><circle cx="1876.69" cy="275.04" r="1.85"/><circle cx="1876.83" cy="460.77" r="1.85"/><circle cx="1878.59" cy="315.44" r="1.85"/><circle cx="1878.77" cy="422.58" r="1.85"/><circle cx="1880.5" cy="332.63" r="1.85"/><circle cx="1880.71" cy="364.5" r="1.85"/><circle cx="1882.41" cy="314.1" r="1.85"/><circle cx="1882.66" cy="371.64" r="1.85"/><circle cx="1884.45" cy="389.54" r="1.85"/><circle cx="1884.6" cy="482.87" r="1.85"/><circle cx="1886.36" cy="439.75" r="1.85"/><circle cx="1886.54" cy="371.43" r="1.85"/><circle cx="1888.27" cy="302.71" r="1.85"/><circle cx="1888.48" cy="488.91" r="1.85"/><circle cx="1890.17" cy="464.32" r="1.85"/><circle cx="1890.42" cy="624.26" r="1.85"/><circle cx="1892.08" cy="412.74" r="1.85"/><circle cx="1892.36" cy="389.96" r="1.85"/><circle cx="1894.13" cy="364.31" r="1.85"/><circle cx="1894.3" cy="472.82" r="1.85"/><circle cx="1896.03" cy="485.53" r="1.85"/><circle cx="1896.24" cy="389.51" r="1.85"/><circle cx="1897.94" cy="309.85" r="1.85"/><circle cx="1898.18" cy="278.51" r="1.85"/><circle cx="1899.85" cy="277.27" r="1.85"/><circle cx="1900.13" cy="348.65" r="1.85"/><circle cx="1901.75" cy="325.7" r="1.85"/><circle cx="1902.07" cy="258.86" r="1.85"/><circle cx="1903.8" cy="277.27" r="1.85"/><circle cx="1904.01" cy="381.48" r="1.85"/><circle cx="1905.71" cy="346.46" r="1.85"/><circle cx="1905.95" cy="318.25" r="1.85"/><circle cx="1907.61" cy="374.36" r="1.85"/><circle cx="1907.89" cy="339.93" r="1.85"/><circle cx="1909.52" cy="403.37" r="1.85"/><circle cx="1909.84" cy="446.02" r="1.85"/><circle cx="1911.43" cy="427.94" r="1.85"/><circle cx="1911.61" cy="209.93" r="1.85"/><circle cx="1913.47" cy="431.72" r="1.85"/><circle cx="1913.55" cy="204.13" r="1.85"/><circle cx="1915.38" cy="377.25" r="1.85"/><circle cx="1915.49" cy="312.9" r="1.85"/><circle cx="1917.28" cy="361.42" r="1.85"/><circle cx="1917.44" cy="390.19" r="1.85"/><circle cx="1919.19" cy="398.7" r="1.85"/><circle cx="1919.38" cy="235.63" r="1.85"/><circle cx="1921.1" cy="401.37" r="1.85"/><circle cx="1921.32" cy="283.42" r="1.85"/><circle cx="1923.01" cy="342" r="1.85"/><circle cx="1923.26" cy="298.38" r="1.85"/><circle cx="1924.91" cy="214.09" r="1.85"/><circle cx="1925.2" cy="440.22" r="1.85"/><circle cx="1926.82" cy="499.81" r="1.85"/><circle cx="1927.15" cy="261.75" r="1.85"/><circle cx="1928.86" cy="338.64" r="1.85"/><circle cx="1929.09" cy="556.81" r="1.85"/><circle cx="1930.77" cy="341.55" r="1.85"/><circle cx="1931.03" cy="359.8" r="1.85"/><circle cx="1932.68" cy="331.74" r="1.85"/><circle cx="1932.97" cy="379.7" r="1.85"/><circle cx="1934.58" cy="488.65" r="1.85"/><circle cx="1934.91" cy="333.68" r="1.85"/><circle cx="1936.49" cy="267.66" r="1.85"/><circle cx="1936.85" cy="390.64" r="1.85"/><circle cx="1938.4" cy="300.92" r="1.85"/><circle cx="1938.79" cy="560.38" r="1.85"/><circle cx="1940.44" cy="410.51" r="1.85"/><circle cx="1940.73" cy="365.39" r="1.85"/><circle cx="1942.35" cy="350.69" r="1.85"/><circle cx="1942.51" cy="488.46" r="1.85"/><circle cx="1944.26" cy="317.67" r="1.85"/><circle cx="1944.62" cy="344.63" r="1.85"/><circle cx="1946.16" cy="286.19" r="1.85"/><circle cx="1946.56" cy="367.18" r="1.85"/><circle cx="1948.07" cy="388.43" r="1.85"/><circle cx="1948.5" cy="288.57" r="1.85"/><circle cx="1949.98" cy="323.91" r="1.85"/><circle cx="1950.44" cy="408.94" r="1.85"/><circle cx="1952.02" cy="396.68" r="1.85"/><circle cx="1952.38" cy="389.3" r="1.85"/><circle cx="1953.93" cy="455.6" r="1.85"/><circle cx="1954.16" cy="494.5" r="1.85"/><circle cx="1955.84" cy="426.15" r="1.85"/><circle cx="1956.26" cy="393.76" r="1.85"/><circle cx="1957.74" cy="421.69" r="1.85"/><circle cx="1958.04" cy="289.67" r="1.85"/><circle cx="1959.65" cy="385.28" r="1.85"/><circle cx="1959.98" cy="462.11" r="1.85"/><circle cx="1961.56" cy="391.77" r="1.85"/><circle cx="1961.92" cy="403.58" r="1.85"/><circle cx="1963.47" cy="304.73" r="1.85"/><circle cx="1963.87" cy="327.41" r="1.85"/><circle cx="1965.38" cy="413.87" r="1.85"/><circle cx="1965.81" cy="377.23" r="1.85"/><circle cx="1967.28" cy="314.75" r="1.85"/><circle cx="1967.75" cy="346.18" r="1.85"/><circle cx="1969.19" cy="421.24" r="1.85"/><circle cx="1969.69" cy="371.87" r="1.85"/><circle cx="1971.1" cy="294.44" r="1.85"/><circle cx="1971.64" cy="419.88" r="1.85"/><circle cx="1973.14" cy="379.93" r="1.85"/><circle cx="1973.58" cy="394.21" r="1.85"/><circle cx="1975.05" cy="287.74" r="1.85"/><circle cx="1975.52" cy="438.65" r="1.85"/><circle cx="1976.96" cy="273.91" r="1.85"/><circle cx="1977.46" cy="370.3" r="1.85"/><circle cx="1978.86" cy="300.03" r="1.85"/><circle cx="1979.4" cy="372.77" r="1.85"/><circle cx="1980.77" cy="399.59" r="1.85"/><circle cx="1981.18" cy="447.6" r="1.85"/><circle cx="1982.81" cy="394.89" r="1.85"/><circle cx="1983.12" cy="567.75" r="1.85"/><circle cx="1984.72" cy="338.19" r="1.85"/><circle cx="1985.06" cy="337.91" r="1.85"/><circle cx="1986.63" cy="325.25" r="1.85"/><circle cx="1987" cy="315.58" r="1.85"/><circle cx="1988.53" cy="360.98" r="1.85"/><circle cx="1988.94" cy="316.92" r="1.85"/><circle cx="1990.44" cy="327.48" r="1.85"/><circle cx="1990.89" cy="305.76" r="1.85"/><circle cx="1992.49" cy="351.14" r="1.85"/><circle cx="1992.83" cy="391.09" r="1.85"/><circle cx="1994.39" cy="381.27" r="1.85"/><circle cx="1994.77" cy="366.52" r="1.85"/><circle cx="1996.3" cy="465.87" r="1.85"/><circle cx="1996.71" cy="288.78" r="1.85"/><circle cx="1998.21" cy="270.79" r="1.85"/><circle cx="1998.65" cy="217.52" r="1.85"/><circle cx="2000.11" cy="333.97" r="1.85"/><circle cx="2000.59" cy="345.73" r="1.85"/><circle cx="2002.16" cy="320.11" r="1.85"/><circle cx="2002.37" cy="533.81" r="1.85"/><circle cx="2004.07" cy="419.22" r="1.85"/><circle cx="2004.47" cy="291.24" r="1.85"/><circle cx="2005.97" cy="360.3" r="1.85"/><circle cx="2006.41" cy="280.75" r="1.85"/><circle cx="2007.88" cy="376.15" r="1.85"/><circle cx="2008.36" cy="416.99" r="1.85"/><circle cx="2009.65" cy="240.89" r="1.85"/><circle cx="2010.3" cy="322.29" r="1.85"/><circle cx="2011.83" cy="328.38" r="1.85"/><circle cx="2012.08" cy="231.82" r="1.85"/><circle cx="2013.74" cy="377.49" r="1.85"/><circle cx="2014.18" cy="350.2" r="1.85"/><circle cx="2015.65" cy="412.08" r="1.85"/><circle cx="2016.12" cy="380.59" r="1.85"/><circle cx="2017.55" cy="281.73" r="1.85"/><circle cx="2018.06" cy="379.25" r="1.85"/><circle cx="2019.46" cy="349.35" r="1.85"/><circle cx="2020" cy="351.32" r="1.85"/><circle cx="2021.37" cy="316.09" r="1.85"/><circle cx="2021.94" cy="403.13" r="1.85"/><circle cx="2023.27" cy="246.24" r="1.85"/><circle cx="2023.88" cy="357.36" r="1.85"/><circle cx="2025.32" cy="465.87" r="1.85"/><circle cx="2025.83" cy="302.4" r="1.85"/><circle cx="2027.23" cy="409.62" r="1.85"/><circle cx="2027.61" cy="393.32" r="1.85"/><circle cx="2029.27" cy="407.62" r="1.85"/><circle cx="2029.55" cy="415.42" r="1.85"/><circle cx="2031.17" cy="418.33" r="1.85"/><circle cx="2031.49" cy="371.64" r="1.85"/><circle cx="2033.08" cy="420.12" r="1.85"/><circle cx="2033.43" cy="388.17" r="1.85"/><circle cx="2034.99" cy="357.41" r="1.85"/><circle cx="2035.37" cy="333.24" r="1.85"/><circle cx="2036.9" cy="494.9" r="1.85"/><circle cx="2037.31" cy="361.59" r="1.85"/><circle cx="2038.8" cy="378.83" r="1.85"/><circle cx="2039.25" cy="390.64" r="1.85"/><circle cx="2040.71" cy="305.62" r="1.85"/><circle cx="2041.2" cy="335.68" r="1.85"/><circle cx="2042.62" cy="310.74" r="1.85"/><circle cx="2044.66" cy="289.08" r="1.85"/><circle cx="2045.08" cy="372.98" r="1.85"/><circle cx="2046.57" cy="359.19" r="1.85"/><circle cx="2047.02" cy="334.34" r="1.85"/><circle cx="2048.48" cy="440.43" r="1.85"/><circle cx="2048.96" cy="280.51" r="1.85"/><circle cx="2050.38" cy="401.82" r="1.85"/><circle cx="2050.9" cy="363.82" r="1.85"/><circle cx="2052.29" cy="384.63" r="1.85"/><circle cx="2052.85" cy="314.47" r="1.85"/><circle cx="2054.34" cy="309.63" r="1.85"/><circle cx="2054.79" cy="354.68" r="1.85"/><circle cx="2056.24" cy="358.75" r="1.85"/><circle cx="2056.73" cy="418.78" r="1.85"/><circle cx="2058.15" cy="408.72" r="1.85"/><circle cx="2058.67" cy="368.75" r="1.85"/><circle cx="2060.06" cy="322.79" r="1.85"/><circle cx="2060.61" cy="345.73" r="1.85"/><circle cx="2061.96" cy="490.2" r="1.85"/><circle cx="2062.55" cy="360.25" r="1.85"/><circle cx="2063.87" cy="433.95" r="1.85"/><circle cx="2064.49" cy="452.5" r="1.85"/><circle cx="2065.78" cy="388.2" r="1.85"/><circle cx="2066.43" cy="357.36" r="1.85"/><circle cx="2067.82" cy="290.66" r="1.85"/><circle cx="2068.37" cy="399.35" r="1.85"/><circle cx="2069.73" cy="450.25" r="1.85"/><circle cx="2070.32" cy="294.58" r="1.85"/><circle cx="2071.64" cy="262.07" r="1.85"/><circle cx="2072.26" cy="412.74" r="1.85"/><circle cx="2073.54" cy="407.83" r="1.85"/><circle cx="2074.2" cy="389.07" r="1.85"/><circle cx="2075.45" cy="464.53" r="1.85"/><circle cx="2075.98" cy="339.49" r="1.85"/><circle cx="2077.36" cy="370.56" r="1.85"/><circle cx="2077.92" cy="414.31" r="1.85"/><circle cx="2079.4" cy="428.59" r="1.85"/><circle cx="2079.86" cy="434.18" r="1.85"/><circle cx="2081.31" cy="341.76" r="1.85"/><circle cx="2081.8" cy="430.17" r="1.85"/><circle cx="2083.22" cy="413.63" r="1.85"/><circle cx="2083.74" cy="325.18" r="1.85"/><circle cx="2085.12" cy="337.09" r="1.85"/><circle cx="2085.68" cy="397.1" r="1.85"/><circle cx="2087.03" cy="241.78" r="1.85"/><circle cx="2087.63" cy="342.37" r="1.85"/><circle cx="2089.07" cy="316.09" r="1.85"/><circle cx="2089.57" cy="309.09" r="1.85"/><circle cx="2090.98" cy="407.39" r="1.85"/><circle cx="2091.51" cy="413.19" r="1.85"/><circle cx="2092.89" cy="381.5" r="1.85"/><circle cx="2093.45" cy="379.01" r="1.85"/><circle cx="2094.79" cy="411.19" r="1.85"/><circle cx="2095.39" cy="369.85" r="1.85"/><circle cx="2096.7" cy="397.12" r="1.85"/><circle cx="2097.34" cy="360.93" r="1.85"/><circle cx="2098.61" cy="419.22" r="1.85"/><circle cx="2099.28" cy="356.02" r="1.85"/><circle cx="2100.52" cy="439.54" r="1.85"/><circle cx="2101.22" cy="363.16" r="1.85"/><circle cx="2102.56" cy="334.86" r="1.85"/><circle cx="2103.16" cy="313.58" r="1.85"/><circle cx="2104.47" cy="411.19" r="1.85"/><circle cx="2105.1" cy="375.44" r="1.85"/><circle cx="2106.37" cy="404.94" r="1.85"/><circle cx="2106.88" cy="492.27" r="1.85"/><circle cx="2108.28" cy="408.07" r="1.85"/><circle cx="2108.98" cy="292.14" r="1.85"/><circle cx="2110.19" cy="398.25" r="1.85"/><circle cx="2110.92" cy="313.58" r="1.85"/><circle cx="2112.1" cy="378.59" r="1.85"/><circle cx="2112.86" cy="307.31" r="1.85"/><circle cx="2114.01" cy="419.22" r="1.85"/><circle cx="2114.81" cy="303.74" r="1.85"/><circle cx="2115.91" cy="345.78" r="1.85"/><circle cx="2116.75" cy="396.65" r="1.85"/><circle cx="2117.82" cy="318.56" r="1.85"/><circle cx="2118.69" cy="358.91" r="1.85"/><circle cx="2119.86" cy="358.06" r="1.85"/><circle cx="2120.63" cy="369.2" r="1.85"/><circle cx="2121.77" cy="389.32" r="1.85"/><circle cx="2122.25" cy="157.89" r="1.85"/><circle cx="2123.68" cy="311.63" r="1.85"/><circle cx="2124.35" cy="294.81" r="1.85"/><circle cx="2125.59" cy="298.92" r="1.85"/><circle cx="2126.29" cy="404.03" r="1.85"/><circle cx="2127.49" cy="383.29" r="1.85"/><circle cx="2128.23" cy="383.03" r="1.85"/><circle cx="2129.53" cy="360.98" r="1.85"/><circle cx="2130.17" cy="397.33" r="1.85"/><circle cx="2131.44" cy="262.76" r="1.85"/><circle cx="2132.12" cy="406.7" r="1.85"/><circle cx="2133.35" cy="351.14" r="1.85"/><circle cx="2134.06" cy="402.48" r="1.85"/><circle cx="2135.26" cy="420.8" r="1.85"/><circle cx="2136" cy="435.97" r="1.85"/><circle cx="2137.17" cy="323.23" r="1.85"/><circle cx="2137.94" cy="362.71" r="1.85"/><circle cx="2139.21" cy="460.07" r="1.85"/><circle cx="2139.88" cy="393.32" r="1.85"/><circle cx="2141.11" cy="321.68" r="1.85"/><circle cx="2141.82" cy="380.14" r="1.85"/><circle cx="2143.02" cy="332.84" r="1.85"/><circle cx="2143.76" cy="316.02" r="1.85"/><circle cx="2144.93" cy="334.18" r="1.85"/><circle cx="2145.7" cy="334.34" r="1.85"/><circle cx="2146.84" cy="320.34" r="1.85"/><circle cx="2147.64" cy="318.49" r="1.85"/><circle cx="2148.74" cy="415.86" r="1.85"/><circle cx="2149.59" cy="382.14" r="1.85"/><circle cx="2150.79" cy="318.32" r="1.85"/><circle cx="2151.53" cy="314.68" r="1.85"/><circle cx="2152.7" cy="423.69" r="1.85"/><circle cx="2153.47" cy="337.02" r="1.85"/><circle cx="2154.6" cy="303.15" r="1.85"/><circle cx="2155.41" cy="436.86" r="1.85"/><circle cx="2156.51" cy="325.7" r="1.85"/><circle cx="2157.35" cy="377.02" r="1.85"/><circle cx="2158.42" cy="368.77" r="1.85"/><circle cx="2159.3" cy="357.36" r="1.85"/><circle cx="2160.32" cy="394" r="1.85"/><circle cx="2161.24" cy="381.93" r="1.85"/><circle cx="2162.37" cy="298.48" r="1.85"/><circle cx="2163.18" cy="360.48" r="1.85"/><circle cx="2164.28" cy="335.52" r="1.85"/><circle cx="2165.12" cy="401.14" r="1.85"/><circle cx="2166.18" cy="362.53" r="1.85"/><circle cx="2167.06" cy="393.76" r="1.85"/><circle cx="2168.09" cy="308.95" r="1.85"/><circle cx="2169" cy="319.38" r="1.85"/><circle cx="2170" cy="288.19" r="1.85"/><circle cx="2170.94" cy="434.18" r="1.85"/><circle cx="2172.04" cy="363.87" r="1.85"/><circle cx="2172.72" cy="306.21" r="1.85"/><circle cx="2173.95" cy="377.04" r="1.85"/><circle cx="2174.66" cy="349.3" r="1.85"/><circle cx="2175.86" cy="423.47" r="1.85"/><circle cx="2176.61" cy="382.14" r="1.85"/><circle cx="2177.76" cy="428.38" r="1.85"/><circle cx="2178.55" cy="359.14" r="1.85"/><circle cx="2179.67" cy="341.11" r="1.85"/><circle cx="2180.49" cy="291.46" r="1.85"/><circle cx="2181.71" cy="360.98" r="1.85"/><circle cx="2182.43" cy="298.83" r="1.85"/><circle cx="2183.62" cy="394" r="1.85"/><circle cx="2184.37" cy="395.1" r="1.85"/><circle cx="2185.53" cy="400.03" r="1.85"/><circle cx="2186.31" cy="440.67" r="1.85"/><circle cx="2187.44" cy="353.16" r="1.85"/><circle cx="2188.25" cy="355.13" r="1.85"/><circle cx="2189.34" cy="298.92" r="1.85"/><circle cx="2190.19" cy="403.13" r="1.85"/><circle cx="2191.25" cy="276.59" r="1.85"/><circle cx="2192.13" cy="329.2" r="1.85"/><circle cx="2193.29" cy="392.45" r="1.85"/><circle cx="2195.2" cy="356.96" r="1.85"/><circle cx="2197.11" cy="326.59" r="1.85"/><circle cx="2199.02" cy="376.36" r="1.85"/><circle cx="2200.92" cy="322.58" r="1.85"/><circle cx="2202.97" cy="332.39" r="1.85"/><circle cx="2204.87" cy="363.87" r="1.85"/><circle cx="2206.78" cy="406.94" r="1.85"/><circle cx="2208.69" cy="319.45" r="1.85"/><circle cx="2210.59" cy="286.19" r="1.85"/><circle cx="2212.64" cy="278.61" r="1.85"/></g>
</g>
<path clip-path="url(#cRT)" d="M1185.97 363.4L1187.13 363.4L1188.28 363.4L1189.44 363.4L1190.6 363.4L1191.75 363.4L1192.91 363.4L1194.06 363.4L1195.22 363.4L1196.37 363.4L1197.53 363.4L1198.68 363.4L1199.84 363.4L1200.99 363.4L1202.15 363.4L1203.3 363.4L1204.46 363.4L1205.61 363.4L1206.77 363.4L1207.92 363.4L1209.08 363.4L1210.23 363.4L1211.39 363.4L1212.54 363.4L1213.7 363.4L1214.86 363.4L1216.01 363.4L1217.17 363.4L1218.32 363.4L1219.48 363.4L1220.63 363.4L1221.79 363.4L1222.94 363.4L1224.1 363.4L1225.25 363.4L1226.41 363.4L1227.56 363.4L1228.72 363.4L1229.87 363.4L1231.03 363.4L1232.18 363.4L1233.34 363.4L1234.49 363.4L1235.65 363.4L1236.8 363.4L1237.96 363.4L1239.11 363.4L1240.27 363.4L1241.43 363.4L1242.58 363.4L1243.74 363.4L1244.89 363.4L1246.05 363.4L1247.2 363.4L1248.36 363.4L1249.51 363.4L1250.67 363.4L1251.82 363.4L1252.98 363.4L1254.13 363.4L1255.29 363.4L1256.44 363.4L1257.6 363.4L1258.75 363.4L1259.91 363.4L1261.06 363.4L1262.22 363.4L1263.37 363.4L1264.53 363.4L1265.68 363.4L1266.84 363.4L1268 363.4L1269.15 363.4L1270.31 363.4L1271.46 363.4L1272.62 363.4L1273.77 363.4L1274.93 363.4L1276.08 363.4L1277.24 363.4L1278.39 363.4L1279.55 363.4L1280.7 363.4L1281.86 363.4L1283.01 363.4L1284.17 363.4L1285.32 363.4L1286.48 363.4L1287.63 363.4L1288.79 363.4L1289.94 363.4L1291.1 363.4L1292.26 363.4L1293.41 363.4L1294.57 363.4L1295.72 363.4L1296.88 363.4L1298.03 363.4L1299.19 363.4L1300.34 363.4L1301.5 363.4L1302.65 363.4L1303.81 363.4L1304.96 363.4L1306.12 363.4L1307.27 363.4L1308.43 363.4L1309.58 363.4L1310.74 363.4L1311.89 363.4L1313.05 363.4L1314.2 363.4L1315.36 363.4L1316.51 363.4L1317.67 363.4L1318.83 363.4L1319.98 363.4L1321.14 363.4L1322.29 363.4L1323.45 363.4L1324.6 363.4L1325.76 363.4L1326.91 363.4L1328.07 363.4L1329.22 363.4L1330.38 363.4L1331.53 363.4L1332.69 363.4L1333.84 363.4L1335 363.4L1336.15 363.4L1337.31 363.4L1338.46 363.4L1339.62 363.4L1340.77 363.4L1341.93 363.4L1343.09 363.4L1344.24 363.4L1345.4 363.4L1346.55 363.4L1347.71 363.4L1348.86 363.4L1350.02 363.4L1351.17 363.4L1352.33 363.4L1353.48 363.4L1354.64 363.4L1355.79 363.4L1356.95 363.4L1358.1 363.4L1359.26 363.4L1360.41 363.4L1361.57 363.4L1362.72 363.4L1363.88 363.4L1365.03 363.4L1366.19 363.4L1367.34 363.4L1368.5 363.4L1369.66 363.4L1370.81 363.4L1371.97 363.4L1373.12 363.4L1374.28 363.4L1375.43 363.4L1376.59 363.4L1377.74 363.4L1378.9 363.4L1380.05 363.4L1381.21 363.4L1382.36 363.4L1383.52 363.4L1384.67 363.4L1385.83 363.4L1386.98 363.4L1388.14 363.4L1389.29 363.4L1390.45 363.4L1391.6 363.4L1392.76 363.4L1393.92 363.4L1395.07 363.4L1396.23 363.4L1397.38 363.4L1398.54 363.4L1399.69 363.4L1400.85 363.4L1402 363.4L1403.16 363.4L1404.31 363.4L1405.47 363.4L1406.62 363.4L1407.78 363.4L1408.93 363.4L1410.09 363.4L1411.24 363.4L1412.4 363.4L1413.55 363.4L1414.71 363.4L1415.86 363.4L1417.02 363.4L1418.17 363.4L1419.33 363.4L1420.49 363.4L1421.64 363.4L1422.8 363.4L1423.95 363.4L1425.11 363.4L1426.26 363.4L1427.42 363.4L1428.57 363.4L1429.73 363.4L1430.88 363.4L1432.04 363.4L1433.19 363.4L1434.35 363.41L1435.5 363.42L1436.66 363.44L1437.81 363.48L1438.97 363.54L1440.12 363.65L1441.28 363.81L1442.43 364.05L1443.59 364.39L1444.75 364.85L1445.9 365.44L1447.06 366.19L1448.21 367.09L1449.37 368.14L1450.52 369.34L1451.68 370.67L1452.83 372.12L1453.99 373.65L1455.14 375.25L1456.3 376.89L1457.45 378.52L1458.61 380.14L1459.76 381.7L1460.92 383.19L1462.07 384.57L1463.23 385.85L1464.38 387.01L1465.54 388.06L1466.69 388.99L1467.85 389.83L1469 390.58L1470.16 391.26L1471.32 391.89L1472.47 392.47L1473.63 393.01L1474.78 393.53L1475.94 394.02L1477.09 394.49L1478.25 394.95L1479.4 395.39L1480.56 395.82L1481.71 396.24L1482.87 396.64L1484.02 397.04L1485.18 397.42L1486.33 397.79L1487.49 398.16L1488.64 398.52L1489.8 398.87L1490.95 399.21L1492.11 399.54L1493.26 399.87L1494.42 400.19L1495.57 400.51L1496.73 400.82L1497.89 401.12L1499.04 401.41L1500.2 401.71L1501.35 401.99L1502.51 402.27L1503.66 402.55L1504.82 402.82L1505.97 403.09L1507.13 403.35L1508.28 403.61L1509.44 403.86L1510.59 404.11L1511.75 404.36L1512.9 404.6L1514.06 404.83L1515.21 405.07L1516.37 405.3L1517.52 405.52L1518.68 405.75L1519.83 405.97L1520.99 406.18L1522.15 406.4L1523.3 406.61L1524.46 406.81L1525.61 407.01L1526.77 407.21L1527.92 407.41L1529.08 407.61L1530.23 407.8L1531.39 407.99L1532.54 408.17L1533.7 408.35L1534.85 408.53L1536.01 408.71L1537.16 408.89L1538.32 409.06L1539.47 409.23L1540.63 409.39L1541.78 409.56L1542.94 409.72L1544.09 409.88L1545.25 410.04L1546.4 410.19L1547.56 410.35L1548.72 410.5L1549.87 410.65L1551.03 410.79L1552.18 410.93L1553.34 411.08L1554.49 411.22L1555.65 411.35L1556.8 411.49L1557.96 411.62L1559.11 411.75L1560.27 411.88L1561.42 412.01L1562.58 412.13L1563.73 412.26L1564.89 412.38L1566.04 412.49L1567.2 412.61L1568.35 412.73L1569.51 412.84L1570.66 412.95L1571.82 413.06L1572.98 413.17L1574.13 413.27L1575.29 413.38L1576.44 413.48L1577.6 413.58L1578.75 413.68L1579.91 413.77L1581.06 413.87L1582.22 413.96L1583.37 414.05L1584.53 414.14L1585.68 414.23L1586.84 414.31L1587.99 414.4L1589.15 414.48L1590.3 414.56L1591.46 414.64L1592.61 414.72L1593.77 414.79L1594.92 414.87L1596.08 414.94L1597.23 415.01L1598.39 415.08L1599.55 415.15L1600.7 415.21L1601.86 415.28L1603.01 415.34L1604.17 415.4L1605.32 415.46L1606.48 415.52L1607.63 415.57L1608.79 415.63L1609.94 415.68L1611.1 415.73L1612.25 415.78L1613.41 415.83L1614.56 415.88L1615.72 415.92L1616.87 415.97L1618.03 416.01L1619.18 416.05L1620.34 416.09L1621.49 416.13L1622.65 416.16L1623.81 416.2L1624.96 416.23L1626.12 416.26L1627.27 416.29L1628.43 416.32L1629.58 416.35L1630.74 416.37L1631.89 416.4L1633.05 416.42L1634.2 416.44L1635.36 416.46L1636.51 416.48L1637.67 416.5L1638.82 416.51L1639.98 416.53L1641.13 416.54L1642.29 416.55L1643.44 416.56L1644.6 416.57L1645.75 416.57L1646.91 416.57L1648.06 416.57L1649.22 416.56L1650.38 416.55L1651.53 416.54L1652.69 416.53L1653.84 416.52L1655 416.5L1656.15 416.48L1657.31 416.47L1658.46 416.45L1659.62 416.43L1660.77 416.4L1661.93 416.38L1663.08 416.35L1664.24 416.33L1665.39 416.3L1666.55 416.27L1667.7 416.24L1668.86 416.21L1670.01 416.17L1671.17 416.13L1672.32 416.1L1673.48 416.06L1674.63 416.02L1675.79 415.97L1676.95 415.93L1678.1 415.89L1679.26 415.84L1680.41 415.79L1681.57 415.74L1682.72 415.69L1683.88 415.64L1685.03 415.58L1686.19 415.53L1687.34 415.47L1688.5 415.41L1689.65 415.35L1690.81 415.29L1691.96 415.23L1693.12 415.16L1694.27 415.09L1695.43 415.02L1696.58 414.95L1697.74 414.88L1698.89 414.81L1700.05 414.73L1701.21 414.65L1702.36 414.58L1703.52 414.5L1704.67 414.41L1705.83 414.33L1706.98 414.25L1708.14 414.16L1709.29 414.07L1710.45 413.98L1711.6 413.88L1712.76 413.79L1713.91 413.69L1715.07 413.6L1716.22 413.5L1717.38 413.4L1718.53 413.29L1719.69 413.19L1720.84 413.08L1722 412.97L1723.15 412.86L1724.31 412.75L1725.46 412.63L1726.62 412.52L1727.78 412.4L1728.93 412.28L1730.09 412.16L1731.24 412.03L1732.4 411.91L1733.55 411.78L1734.71 411.65L1735.86 411.51L1737.02 411.38L1738.17 411.24L1739.33 411.1L1740.48 410.96L1741.64 410.82L1742.79 410.67L1743.95 410.53L1745.1 410.38L1746.26 410.22L1747.41 410.07L1748.57 409.91L1749.72 409.75L1750.88 409.59L1752.04 409.43L1753.19 409.26L1754.35 409.09L1755.5 408.92L1756.66 408.75L1757.81 408.57L1758.97 408.39L1760.12 408.21L1761.28 408.02L1762.43 407.83L1763.59 407.64L1764.74 407.45L1765.9 407.25L1767.05 407.05L1768.21 406.85L1769.36 406.65L1770.52 406.44L1771.67 406.23L1772.83 406.01L1773.98 405.79L1775.14 405.57L1776.29 405.34L1777.45 405.11L1778.61 404.88L1779.76 404.64L1780.92 404.4L1782.07 404.16L1783.23 403.91L1784.38 403.66L1785.54 403.4L1786.69 403.14L1787.85 402.87L1789 402.6L1790.16 402.33L1791.31 402.05L1792.47 401.76L1793.62 401.47L1794.78 401.18L1795.93 400.88L1797.09 400.57L1798.24 400.25L1799.4 399.93L1800.55 399.61L1801.71 399.27L1802.87 398.93L1804.02 398.59L1805.18 398.23L1806.33 397.87L1807.49 397.49L1808.64 397.11L1809.8 396.72L1810.95 396.32L1812.11 395.9L1813.26 395.48L1814.42 395.04L1815.57 394.58L1816.73 394.11L1817.88 393.62L1819.04 393.11L1820.19 392.57L1821.35 392L1822.5 391.38L1823.66 390.71L1824.81 389.98L1825.97 389.16L1827.12 388.24L1828.28 387.22L1829.44 386.08L1830.59 384.83L1831.75 383.46L1832.9 381.99L1834.06 380.44L1835.21 378.84L1836.37 377.21L1837.52 375.57L1838.68 373.97L1839.83 372.42L1840.99 370.96L1842.14 369.6L1843.3 368.37L1844.45 367.29L1845.61 366.36L1846.76 365.58L1847.92 364.96L1849.07 364.47L1850.23 364.11L1851.38 363.85L1852.54 363.67L1853.7 363.56L1854.85 363.49L1856.01 363.44L1857.16 363.42L1858.32 363.41L1859.47 363.4L1860.63 363.4L1861.78 363.4L1862.94 363.4L1864.09 363.4L1865.25 363.4L1866.4 363.4L1867.56 363.4L1868.71 363.4L1869.87 363.4L1871.02 363.4L1872.18 363.4L1873.33 363.4L1874.49 363.4L1875.64 363.4L1876.8 363.4L1877.95 363.4L1879.11 363.4L1880.27 363.4L1881.42 363.4L1882.58 363.4L1883.73 363.4L1884.89 363.4L1886.04 363.4L1887.2 363.4L1888.35 363.4L1889.51 363.4L1890.66 363.4L1891.82 363.4L1892.97 363.4L1894.13 363.4L1895.28 363.4L1896.44 363.4L1897.59 363.4L1898.75 363.4L1899.9 363.4L1901.06 363.4L1902.21 363.4L1903.37 363.4L1904.52 363.4L1905.68 363.4L1906.84 363.4L1907.99 363.4L1909.15 363.4L1910.3 363.4L1911.46 363.4L1912.61 363.4L1913.77 363.4L1914.92 363.4L1916.08 363.4L1917.23 363.4L1918.39 363.4L1919.54 363.4L1920.7 363.4L1921.85 363.4L1923.01 363.4L1924.16 363.4L1925.32 363.4L1926.47 363.4L1927.63 363.4L1928.78 363.4L1929.94 363.4L1931.1 363.4L1932.25 363.4L1933.41 363.4L1934.56 363.4L1935.72 363.4L1936.87 363.4L1938.03 363.4L1939.18 363.4L1940.34 363.4L1941.49 363.4L1942.65 363.4L1943.8 363.4L1944.96 363.4L1946.11 363.4L1947.27 363.4L1948.42 363.4L1949.58 363.4L1950.73 363.4L1951.89 363.4L1953.04 363.4L1954.2 363.4L1955.35 363.4L1956.51 363.4L1957.67 363.4L1958.82 363.4L1959.98 363.4L1961.13 363.4L1962.29 363.4L1963.44 363.4L1964.6 363.4L1965.75 363.4L1966.91 363.4L1968.06 363.4L1969.22 363.4L1970.37 363.4L1971.53 363.4L1972.68 363.4L1973.84 363.4L1974.99 363.4L1976.15 363.4L1977.3 363.4L1978.46 363.4L1979.61 363.4L1980.77 363.4L1981.93 363.4L1983.08 363.4L1984.24 363.4L1985.39 363.4L1986.55 363.4L1987.7 363.4L1988.86 363.4L1990.01 363.4L1991.17 363.4L1992.32 363.4L1993.48 363.4L1994.63 363.4L1995.79 363.4L1996.94 363.4L1998.1 363.4L1999.25 363.4L2000.41 363.4L2001.56 363.4L2002.72 363.4L2003.87 363.4L2005.03 363.4L2006.18 363.4L2007.34 363.4L2008.5 363.4L2009.65 363.4L2010.81 363.4L2011.96 363.4L2013.12 363.4L2014.27 363.4L2015.43 363.4L2016.58 363.4L2017.74 363.4L2018.89 363.4L2020.05 363.4L2021.2 363.4L2022.36 363.4L2023.51 363.4L2024.67 363.4L2025.82 363.4L2026.98 363.4L2028.13 363.4L2029.29 363.4L2030.44 363.4L2031.6 363.4L2032.76 363.4L2033.91 363.4L2035.07 363.4L2036.22 363.4L2037.38 363.4L2038.53 363.4L2039.69 363.4L2040.84 363.4L2042 363.4L2043.15 363.4L2044.31 363.4L2045.46 363.4L2046.62 363.4L2047.77 363.4L2048.93 363.4L2050.08 363.4L2051.24 363.4L2052.39 363.4L2053.55 363.4L2054.7 363.4L2055.86 363.4L2057.01 363.4L2058.17 363.4L2059.33 363.4L2060.48 363.4L2061.64 363.4L2062.79 363.4L2063.95 363.4L2065.1 363.4L2066.26 363.4L2067.41 363.4L2068.57 363.4L2069.72 363.4L2070.88 363.4L2072.03 363.4L2073.19 363.4L2074.34 363.4L2075.5 363.4L2076.65 363.4L2077.81 363.4L2078.96 363.4L2080.12 363.4L2081.27 363.4L2082.43 363.4L2083.59 363.4L2084.74 363.4L2085.9 363.4L2087.05 363.4L2088.21 363.4L2089.36 363.4L2090.52 363.4L2091.67 363.4L2092.83 363.4L2093.98 363.4L2095.14 363.4L2096.29 363.4L2097.45 363.4L2098.6 363.4L2099.76 363.4L2100.91 363.4L2102.07 363.4L2103.22 363.4L2104.38 363.4L2105.53 363.4L2106.69 363.4L2107.84 363.4L2109 363.4L2109 369.03L2107.84 369.03L2106.69 369.03L2105.53 369.03L2104.38 369.03L2103.22 369.03L2102.07 369.03L2100.91 369.03L2099.76 369.03L2098.6 369.03L2097.45 369.03L2096.29 369.03L2095.14 369.03L2093.98 369.03L2092.83 369.03L2091.67 369.03L2090.52 369.03L2089.36 369.03L2088.21 369.03L2087.05 369.03L2085.9 369.03L2084.74 369.03L2083.59 369.03L2082.43 369.03L2081.27 369.03L2080.12 369.03L2078.96 369.03L2077.81 369.03L2076.65 369.03L2075.5 369.03L2074.34 369.03L2073.19 369.03L2072.03 369.03L2070.88 369.03L2069.72 369.03L2068.57 369.03L2067.41 369.03L2066.26 369.03L2065.1 369.03L2063.95 369.03L2062.79 369.03L2061.64 369.03L2060.48 369.03L2059.33 369.03L2058.17 369.03L2057.01 369.03L2055.86 369.03L2054.7 369.03L2053.55 369.03L2052.39 369.03L2051.24 369.03L2050.08 369.03L2048.93 369.03L2047.77 369.03L2046.62 369.03L2045.46 369.03L2044.31 369.03L2043.15 369.03L2042 369.03L2040.84 369.03L2039.69 369.03L2038.53 369.03L2037.38 369.03L2036.22 369.03L2035.07 369.03L2033.91 369.03L2032.76 369.03L2031.6 369.03L2030.44 369.03L2029.29 369.03L2028.13 369.03L2026.98 369.03L2025.82 369.03L2024.67 369.03L2023.51 369.03L2022.36 369.03L2021.2 369.03L2020.05 369.03L2018.89 369.03L2017.74 369.03L2016.58 369.03L2015.43 369.03L2014.27 369.03L2013.12 369.03L2011.96 369.03L2010.81 369.03L2009.65 369.03L2008.5 369.03L2007.34 369.03L2006.18 369.03L2005.03 369.03L2003.87 369.03L2002.72 369.03L2001.56 369.03L2000.41 369.03L1999.25 369.03L1998.1 369.03L1996.94 369.03L1995.79 369.03L1994.63 369.03L1993.48 369.03L1992.32 369.03L1991.17 369.03L1990.01 369.03L1988.86 369.03L1987.7 369.03L1986.55 369.03L1985.39 369.03L1984.24 369.03L1983.08 369.03L1981.93 369.03L1980.77 369.03L1979.61 369.03L1978.46 369.03L1977.3 369.03L1976.15 369.03L1974.99 369.03L1973.84 369.03L1972.68 369.03L1971.53 369.03L1970.37 369.03L1969.22 369.03L1968.06 369.03L1966.91 369.03L1965.75 369.03L1964.6 369.03L1963.44 369.03L1962.29 369.03L1961.13 369.03L1959.98 369.03L1958.82 369.03L1957.67 369.03L1956.51 369.03L1955.35 369.03L1954.2 369.03L1953.04 369.03L1951.89 369.03L1950.73 369.03L1949.58 369.03L1948.42 369.03L1947.27 369.03L1946.11 369.03L1944.96 369.03L1943.8 369.03L1942.65 369.03L1941.49 369.03L1940.34 369.03L1939.18 369.03L1938.03 369.03L1936.87 369.03L1935.72 369.03L1934.56 369.03L1933.41 369.03L1932.25 369.03L1931.1 369.03L1929.94 369.03L1928.78 369.03L1927.63 369.03L1926.47 369.03L1925.32 369.03L1924.16 369.03L1923.01 369.03L1921.85 369.03L1920.7 369.03L1919.54 369.03L1918.39 369.03L1917.23 369.03L1916.08 369.03L1914.92 369.03L1913.77 369.03L1912.61 369.03L1911.46 369.03L1910.3 369.03L1909.15 369.03L1907.99 369.03L1906.84 369.03L1905.68 369.03L1904.52 369.03L1903.37 369.03L1902.21 369.03L1901.06 369.03L1899.9 369.03L1898.75 369.03L1897.59 369.03L1896.44 369.03L1895.28 369.03L1894.13 369.03L1892.97 369.03L1891.82 369.03L1890.66 369.03L1889.51 369.03L1888.35 369.03L1887.2 369.03L1886.04 369.03L1884.89 369.03L1883.73 369.03L1882.58 369.03L1881.42 369.03L1880.27 369.03L1879.11 369.03L1877.95 369.03L1876.8 369.03L1875.64 369.03L1874.49 369.04L1873.33 369.04L1872.18 369.05L1871.02 369.06L1869.87 369.09L1868.71 369.13L1867.56 369.21L1866.4 369.33L1865.25 369.51L1864.09 369.77L1862.94 370.14L1861.78 370.63L1860.63 371.27L1859.47 372.06L1858.32 373.01L1857.16 374.12L1856.01 375.38L1854.85 376.77L1853.7 378.29L1852.54 379.9L1851.38 381.59L1850.23 383.31L1849.07 385.05L1847.92 386.78L1846.76 388.46L1845.61 390.06L1844.45 391.58L1843.3 392.99L1842.14 394.28L1840.99 395.45L1839.83 396.5L1838.68 397.45L1837.52 398.3L1836.37 399.06L1835.21 399.76L1834.06 400.41L1832.9 401.02L1831.75 401.59L1830.59 402.13L1829.44 402.65L1828.28 403.15L1827.12 403.63L1825.97 404.1L1824.81 404.55L1823.66 404.99L1822.5 405.42L1821.35 405.84L1820.19 406.25L1819.04 406.65L1817.88 407.03L1816.73 407.41L1815.57 407.79L1814.42 408.15L1813.26 408.51L1812.11 408.86L1810.95 409.2L1809.8 409.54L1808.64 409.87L1807.49 410.19L1806.33 410.51L1805.18 410.82L1804.02 411.13L1802.87 411.43L1801.71 411.72L1800.55 412.01L1799.4 412.3L1798.24 412.58L1797.09 412.86L1795.93 413.13L1794.78 413.4L1793.62 413.66L1792.47 413.92L1791.31 414.18L1790.16 414.43L1789 414.67L1787.85 414.92L1786.69 415.16L1785.54 415.39L1784.38 415.63L1783.23 415.86L1782.07 416.08L1780.92 416.3L1779.76 416.52L1778.61 416.74L1777.45 416.95L1776.29 417.16L1775.14 417.37L1773.98 417.57L1772.83 417.77L1771.67 417.97L1770.52 418.17L1769.36 418.36L1768.21 418.55L1767.05 418.73L1765.9 418.92L1764.74 419.1L1763.59 419.28L1762.43 419.45L1761.28 419.63L1760.12 419.8L1758.97 419.97L1757.81 420.13L1756.66 420.3L1755.5 420.46L1754.35 420.62L1753.19 420.78L1752.04 420.93L1750.88 421.08L1749.72 421.23L1748.57 421.38L1747.41 421.52L1746.26 421.67L1745.1 421.81L1743.95 421.95L1742.79 422.09L1741.64 422.22L1740.48 422.35L1739.33 422.48L1738.17 422.61L1737.02 422.74L1735.86 422.86L1734.71 422.98L1733.55 423.1L1732.4 423.22L1731.24 423.34L1730.09 423.46L1728.93 423.57L1727.78 423.68L1726.62 423.79L1725.46 423.89L1724.31 424L1723.15 424.1L1722 424.2L1720.84 424.3L1719.69 424.4L1718.53 424.5L1717.38 424.59L1716.22 424.68L1715.07 424.78L1713.91 424.86L1712.76 424.95L1711.6 425.04L1710.45 425.12L1709.29 425.2L1708.14 425.28L1706.98 425.36L1705.83 425.44L1704.67 425.51L1703.52 425.59L1702.36 425.66L1701.21 425.73L1700.05 425.79L1698.89 425.86L1697.74 425.93L1696.58 425.99L1695.43 426.05L1694.27 426.11L1693.12 426.17L1691.96 426.23L1690.81 426.28L1689.65 426.34L1688.5 426.39L1687.34 426.44L1686.19 426.49L1685.03 426.53L1683.88 426.58L1682.72 426.62L1681.57 426.67L1680.41 426.71L1679.26 426.75L1678.1 426.79L1676.95 426.82L1675.79 426.86L1674.63 426.89L1673.48 426.92L1672.32 426.95L1671.17 426.98L1670.01 427.01L1668.86 427.03L1667.7 427.06L1666.55 427.08L1665.39 427.1L1664.24 427.12L1663.08 427.14L1661.93 427.15L1660.77 427.17L1659.62 427.18L1658.46 427.19L1657.31 427.2L1656.15 427.21L1655 427.22L1653.84 427.23L1652.69 427.23L1651.53 427.23L1650.38 427.23L1649.22 427.23L1648.06 427.23L1646.91 427.23L1645.75 427.23L1644.6 427.23L1643.44 427.23L1642.29 427.23L1641.13 427.23L1639.98 427.23L1638.82 427.22L1637.67 427.22L1636.51 427.21L1635.36 427.2L1634.2 427.19L1633.05 427.18L1631.89 427.17L1630.74 427.15L1629.58 427.13L1628.43 427.12L1627.27 427.1L1626.12 427.07L1624.96 427.05L1623.81 427.03L1622.65 427L1621.49 426.97L1620.34 426.95L1619.18 426.92L1618.03 426.88L1616.87 426.85L1615.72 426.82L1614.56 426.78L1613.41 426.74L1612.25 426.7L1611.1 426.66L1609.94 426.61L1608.79 426.57L1607.63 426.52L1606.48 426.48L1605.32 426.43L1604.17 426.38L1603.01 426.33L1601.86 426.27L1600.7 426.22L1599.55 426.16L1598.39 426.1L1597.23 426.04L1596.08 425.98L1594.92 425.91L1593.77 425.85L1592.61 425.78L1591.46 425.71L1590.3 425.64L1589.15 425.57L1587.99 425.5L1586.84 425.42L1585.68 425.34L1584.53 425.26L1583.37 425.18L1582.22 425.1L1581.06 425.02L1579.91 424.93L1578.75 424.85L1577.6 424.76L1576.44 424.67L1575.29 424.57L1574.13 424.48L1572.98 424.38L1571.82 424.28L1570.66 424.18L1569.51 424.08L1568.35 423.98L1567.2 423.87L1566.04 423.77L1564.89 423.66L1563.73 423.55L1562.58 423.43L1561.42 423.32L1560.27 423.2L1559.11 423.08L1557.96 422.96L1556.8 422.84L1555.65 422.71L1554.49 422.59L1553.34 422.46L1552.18 422.33L1551.03 422.19L1549.87 422.06L1548.72 421.92L1547.56 421.78L1546.4 421.64L1545.25 421.5L1544.09 421.35L1542.94 421.2L1541.78 421.05L1540.63 420.9L1539.47 420.75L1538.32 420.59L1537.16 420.43L1536.01 420.27L1534.85 420.1L1533.7 419.93L1532.54 419.77L1531.39 419.59L1530.23 419.42L1529.08 419.24L1527.92 419.06L1526.77 418.88L1525.61 418.7L1524.46 418.51L1523.3 418.32L1522.15 418.13L1520.99 417.93L1519.83 417.73L1518.68 417.53L1517.52 417.33L1516.37 417.12L1515.21 416.91L1514.06 416.7L1512.9 416.48L1511.75 416.26L1510.59 416.04L1509.44 415.81L1508.28 415.58L1507.13 415.35L1505.97 415.11L1504.82 414.87L1503.66 414.63L1502.51 414.38L1501.35 414.13L1500.2 413.87L1499.04 413.61L1497.89 413.35L1496.73 413.08L1495.57 412.8L1494.42 412.53L1493.26 412.24L1492.11 411.96L1490.95 411.66L1489.8 411.37L1488.64 411.07L1487.49 410.76L1486.33 410.45L1485.18 410.13L1484.02 409.8L1482.87 409.47L1481.71 409.13L1480.56 408.79L1479.4 408.44L1478.25 408.08L1477.09 407.72L1475.94 407.34L1474.78 406.96L1473.63 406.57L1472.47 406.17L1471.32 405.76L1470.16 405.34L1469 404.91L1467.85 404.46L1466.69 404.01L1465.54 403.54L1464.38 403.05L1463.23 402.55L1462.07 402.02L1460.92 401.48L1459.76 400.9L1458.61 400.29L1457.45 399.63L1456.3 398.92L1455.14 398.14L1453.99 397.27L1452.83 396.3L1451.68 395.23L1450.52 394.04L1449.37 392.72L1448.21 391.29L1447.06 389.75L1445.9 388.13L1444.75 386.44L1443.59 384.71L1442.43 382.97L1441.28 381.25L1440.12 379.58L1438.97 377.99L1437.81 376.5L1436.66 375.13L1435.5 373.9L1434.35 372.82L1433.19 371.9L1432.04 371.14L1430.88 370.54L1429.73 370.07L1428.57 369.72L1427.42 369.47L1426.26 369.3L1425.11 369.19L1423.95 369.12L1422.8 369.08L1421.64 369.06L1420.49 369.04L1419.33 369.04L1418.17 369.03L1417.02 369.03L1415.86 369.03L1414.71 369.03L1413.55 369.03L1412.4 369.03L1411.24 369.03L1410.09 369.03L1408.93 369.03L1407.78 369.03L1406.62 369.03L1405.47 369.03L1404.31 369.03L1403.16 369.03L1402 369.03L1400.85 369.03L1399.69 369.03L1398.54 369.03L1397.38 369.03L1396.23 369.03L1395.07 369.03L1393.92 369.03L1392.76 369.03L1391.6 369.03L1390.45 369.03L1389.29 369.03L1388.14 369.03L1386.98 369.03L1385.83 369.03L1384.67 369.03L1383.52 369.03L1382.36 369.03L1381.21 369.03L1380.05 369.03L1378.9 369.03L1377.74 369.03L1376.59 369.03L1375.43 369.03L1374.28 369.03L1373.12 369.03L1371.97 369.03L1370.81 369.03L1369.66 369.03L1368.5 369.03L1367.34 369.03L1366.19 369.03L1365.03 369.03L1363.88 369.03L1362.72 369.03L1361.57 369.03L1360.41 369.03L1359.26 369.03L1358.1 369.03L1356.95 369.03L1355.79 369.03L1354.64 369.03L1353.48 369.03L1352.33 369.03L1351.17 369.03L1350.02 369.03L1348.86 369.03L1347.71 369.03L1346.55 369.03L1345.4 369.03L1344.24 369.03L1343.09 369.03L1341.93 369.03L1340.77 369.03L1339.62 369.03L1338.46 369.03L1337.31 369.03L1336.15 369.03L1335 369.03L1333.84 369.03L1332.69 369.03L1331.53 369.03L1330.38 369.03L1329.22 369.03L1328.07 369.03L1326.91 369.03L1325.76 369.03L1324.6 369.03L1323.45 369.03L1322.29 369.03L1321.14 369.03L1319.98 369.03L1318.83 369.03L1317.67 369.03L1316.51 369.03L1315.36 369.03L1314.2 369.03L1313.05 369.03L1311.89 369.03L1310.74 369.03L1309.58 369.03L1308.43 369.03L1307.27 369.03L1306.12 369.03L1304.96 369.03L1303.81 369.03L1302.65 369.03L1301.5 369.03L1300.34 369.03L1299.19 369.03L1298.03 369.03L1296.88 369.03L1295.72 369.03L1294.57 369.03L1293.41 369.03L1292.26 369.03L1291.1 369.03L1289.94 369.03L1288.79 369.03L1287.63 369.03L1286.48 369.03L1285.32 369.03L1284.17 369.03L1283.01 369.03L1281.86 369.03L1280.7 369.03L1279.55 369.03L1278.39 369.03L1277.24 369.03L1276.08 369.03L1274.93 369.03L1273.77 369.03L1272.62 369.03L1271.46 369.03L1270.31 369.03L1269.15 369.03L1268 369.03L1266.84 369.03L1265.68 369.03L1264.53 369.03L1263.37 369.03L1262.22 369.03L1261.06 369.03L1259.91 369.03L1258.75 369.03L1257.6 369.03L1256.44 369.03L1255.29 369.03L1254.13 369.03L1252.98 369.03L1251.82 369.03L1250.67 369.03L1249.51 369.03L1248.36 369.03L1247.2 369.03L1246.05 369.03L1244.89 369.03L1243.74 369.03L1242.58 369.03L1241.43 369.03L1240.27 369.03L1239.11 369.03L1237.96 369.03L1236.8 369.03L1235.65 369.03L1234.49 369.03L1233.34 369.03L1232.18 369.03L1231.03 369.03L1229.87 369.03L1228.72 369.03L1227.56 369.03L1226.41 369.03L1225.25 369.03L1224.1 369.03L1222.94 369.03L1221.79 369.03L1220.63 369.03L1219.48 369.03L1218.32 369.03L1217.17 369.03L1216.01 369.03L1214.86 369.03L1213.7 369.03L1212.54 369.03L1211.39 369.03L1210.23 369.03L1209.08 369.03L1207.92 369.03L1206.77 369.03L1205.61 369.03L1204.46 369.03L1203.3 369.03L1202.15 369.03L1200.99 369.03L1199.84 369.03L1198.68 369.03L1197.53 369.03L1196.37 369.03L1195.22 369.03L1194.06 369.03L1192.91 369.03L1191.75 369.03L1190.6 369.03L1189.44 369.03L1188.28 369.03L1187.13 369.03L1185.97 369.03Z" fill="#ff0000" fill-opacity="0.3" stroke="none"/>
<path clip-path="url(#cRT)" d="M1185.97 366.21L1187.82 366.21L1189.67 366.21L1191.52 366.21L1193.37 366.21L1195.22 366.21L1197.07 366.21L1198.92 366.21L1200.77 366.21L1202.62 366.21L1204.47 366.21L1206.32 366.21L1208.17 366.21L1210.02 366.21L1211.87 366.21L1213.72 366.21L1215.57 366.21L1217.42 366.21L1219.27 366.21L1221.12 366.21L1222.97 366.21L1224.82 366.21L1226.67 366.21L1228.52 366.21L1230.37 366.21L1232.22 366.21L1234.07 366.21L1235.92 366.21L1237.77 366.21L1239.62 366.21L1241.47 366.21L1243.32 366.21L1245.17 366.21L1247.02 366.21L1248.87 366.21L1250.72 366.21L1252.57 366.21L1254.42 366.21L1256.26 366.21L1258.11 366.21L1259.96 366.21L1261.81 366.21L1263.66 366.21L1265.51 366.21L1267.36 366.21L1269.21 366.21L1271.06 366.21L1272.91 366.21L1274.76 366.21L1276.61 366.21L1278.46 366.21L1280.31 366.21L1282.16 366.21L1284.01 366.21L1285.86 366.21L1287.71 366.21L1289.56 366.21L1291.41 366.21L1293.26 366.21L1295.11 366.21L1296.96 366.21L1298.81 366.21L1300.66 366.21L1302.51 366.21L1304.36 366.21L1306.21 366.21L1308.06 366.21L1309.91 366.21L1311.76 366.21L1313.61 366.21L1315.46 366.21L1317.31 366.21L1319.16 366.21L1321.01 366.21L1322.86 366.21L1324.71 366.21L1326.56 366.21L1328.41 366.21L1330.25 366.21L1332.1 366.21L1333.95 366.21L1335.8 366.21L1337.65 366.21L1339.5 366.21L1341.35 366.21L1343.2 366.21L1345.05 366.21L1346.9 366.21L1348.75 366.21L1350.6 366.21L1352.45 366.21L1354.3 366.21L1356.15 366.21L1358 366.21L1359.85 366.21L1361.7 366.21L1363.55 366.21L1365.4 366.21L1367.25 366.21L1369.1 366.21L1370.95 366.21L1372.8 366.21L1374.65 366.21L1376.5 366.21L1378.35 366.21L1380.2 366.21L1382.05 366.21L1383.9 366.21L1385.75 366.21L1387.6 366.21L1389.45 366.21L1391.3 366.21L1393.15 366.21L1395 366.21L1396.85 366.21L1398.7 366.21L1400.55 366.21L1402.4 366.21L1404.24 366.21L1406.09 366.21L1407.94 366.21L1409.79 366.21L1411.64 366.21L1413.49 366.21L1415.34 366.21L1417.19 366.21L1419.04 366.21L1420.89 366.21L1422.74 366.21L1424.59 366.22L1426.44 366.22L1428.29 366.23L1430.14 366.27L1431.99 366.36L1433.84 366.56L1435.69 366.93L1437.54 367.58L1439.39 368.56L1441.24 369.92L1443.09 371.7L1444.94 373.82L1446.79 376.26L1448.64 378.88L1450.49 381.58L1452.34 384.24L1454.19 386.76L1456.04 389.01L1457.89 390.98L1459.74 392.65L1461.59 394.04L1463.44 395.23L1465.29 396.26L1467.14 397.18L1468.99 398.02L1470.84 398.81L1472.69 399.56L1474.54 400.27L1476.39 400.95L1478.23 401.59L1480.08 402.22L1481.93 402.82L1483.78 403.4L1485.63 403.96L1487.48 404.5L1489.33 405.02L1491.18 405.53L1493.03 406.02L1494.88 406.5L1496.73 406.97L1498.58 407.42L1500.43 407.86L1502.28 408.29L1504.13 408.71L1505.98 409.11L1507.83 409.51L1509.68 409.9L1511.53 410.27L1513.38 410.64L1515.23 411L1517.08 411.35L1518.93 411.69L1520.78 412.03L1522.63 412.35L1524.48 412.67L1526.33 412.98L1528.18 413.28L1530.03 413.58L1531.88 413.87L1533.73 414.15L1535.58 414.43L1537.43 414.7L1539.28 414.96L1541.13 415.22L1542.98 415.47L1544.83 415.72L1546.68 415.95L1548.53 416.19L1550.38 416.42L1552.23 416.64L1554.07 416.86L1555.92 417.07L1557.77 417.27L1559.62 417.47L1561.47 417.67L1563.32 417.86L1565.17 418.05L1567.02 418.23L1568.87 418.41L1570.72 418.58L1572.57 418.74L1574.42 418.9L1576.27 419.06L1578.12 419.21L1579.97 419.36L1581.82 419.51L1583.67 419.64L1585.52 419.78L1587.37 419.91L1589.22 420.03L1591.07 420.16L1592.92 420.27L1594.77 420.39L1596.62 420.49L1598.47 420.6L1600.32 420.7L1602.17 420.79L1604.02 420.89L1605.87 420.97L1607.72 421.06L1609.57 421.14L1611.42 421.21L1613.27 421.28L1615.12 421.35L1616.97 421.42L1618.82 421.48L1620.67 421.53L1622.52 421.59L1624.37 421.63L1626.22 421.68L1628.06 421.72L1629.91 421.75L1631.76 421.79L1633.61 421.82L1635.46 421.84L1637.31 421.86L1639.16 421.88L1641.01 421.89L1642.86 421.9L1644.71 421.91L1646.56 421.91L1648.41 421.91L1650.26 421.9L1652.11 421.89L1653.96 421.88L1655.81 421.86L1657.66 421.84L1659.51 421.81L1661.36 421.78L1663.21 421.75L1665.06 421.71L1666.91 421.67L1668.76 421.63L1670.61 421.58L1672.46 421.53L1674.31 421.47L1676.16 421.41L1678.01 421.34L1679.86 421.28L1681.71 421.2L1683.56 421.13L1685.41 421.05L1687.26 420.96L1689.11 420.87L1690.96 420.78L1692.81 420.69L1694.66 420.58L1696.51 420.48L1698.36 420.37L1700.21 420.26L1702.05 420.14L1703.9 420.02L1705.75 419.89L1707.6 419.76L1709.45 419.63L1711.3 419.49L1713.15 419.34L1715 419.19L1716.85 419.04L1718.7 418.88L1720.55 418.72L1722.4 418.55L1724.25 418.38L1726.1 418.21L1727.95 418.02L1729.8 417.84L1731.65 417.65L1733.5 417.45L1735.35 417.25L1737.2 417.04L1739.05 416.83L1740.9 416.61L1742.75 416.39L1744.6 416.16L1746.45 415.92L1748.3 415.69L1750.15 415.44L1752 415.19L1753.85 414.93L1755.7 414.66L1757.55 414.39L1759.4 414.12L1761.25 413.83L1763.1 413.54L1764.95 413.25L1766.8 412.94L1768.65 412.63L1770.5 412.31L1772.35 411.98L1774.2 411.65L1776.04 411.31L1777.89 410.96L1779.74 410.6L1781.59 410.23L1783.44 409.85L1785.29 409.46L1787.14 409.06L1788.99 408.66L1790.84 408.24L1792.69 407.81L1794.54 407.36L1796.39 406.91L1798.24 406.44L1800.09 405.96L1801.94 405.47L1803.79 404.96L1805.64 404.43L1807.49 403.89L1809.34 403.32L1811.19 402.74L1813.04 402.14L1814.89 401.51L1816.74 400.86L1818.59 400.18L1820.44 399.47L1822.29 398.72L1824.14 397.92L1825.99 397.07L1827.84 396.13L1829.69 395.09L1831.54 393.88L1833.39 392.45L1835.24 390.76L1837.09 388.74L1838.94 386.44L1840.79 383.91L1842.64 381.24L1844.49 378.54L1846.34 375.94L1848.19 373.54L1850.03 371.45L1851.88 369.74L1853.73 368.4L1855.58 367.48L1857.43 366.88L1859.28 366.53L1861.13 366.35L1862.98 366.26L1864.83 366.23L1866.68 366.22L1868.53 366.22L1870.38 366.21L1872.23 366.21L1874.08 366.21L1875.93 366.21L1877.78 366.21L1879.63 366.21L1881.48 366.21L1883.33 366.21L1885.18 366.21L1887.03 366.21L1888.88 366.21L1890.73 366.21L1892.58 366.21L1894.43 366.21L1896.28 366.21L1898.13 366.21L1899.98 366.21L1901.83 366.21L1903.68 366.21L1905.53 366.21L1907.38 366.21L1909.23 366.21L1911.08 366.21L1912.93 366.21L1914.78 366.21L1916.63 366.21L1918.48 366.21L1920.33 366.21L1922.18 366.21L1924.02 366.21L1925.87 366.21L1927.72 366.21L1929.57 366.21L1931.42 366.21L1933.27 366.21L1935.12 366.21L1936.97 366.21L1938.82 366.21L1940.67 366.21L1942.52 366.21L1944.37 366.21L1946.22 366.21L1948.07 366.21L1949.92 366.21L1951.77 366.21L1953.62 366.21L1955.47 366.21L1957.32 366.21L1959.17 366.21L1961.02 366.21L1962.87 366.21L1964.72 366.21L1966.57 366.21L1968.42 366.21L1970.27 366.21L1972.12 366.21L1973.97 366.21L1975.82 366.21L1977.67 366.21L1979.52 366.21L1981.37 366.21L1983.22 366.21L1985.07 366.21L1986.92 366.21L1988.77 366.21L1990.62 366.21L1992.47 366.21L1994.32 366.21L1996.17 366.21L1998.01 366.21L1999.86 366.21L2001.71 366.21L2003.56 366.21L2005.41 366.21L2007.26 366.21L2009.11 366.21L2010.96 366.21L2012.81 366.21L2014.66 366.21L2016.51 366.21L2018.36 366.21L2020.21 366.21L2022.06 366.21L2023.91 366.21L2025.76 366.21L2027.61 366.21L2029.46 366.21L2031.31 366.21L2033.16 366.21L2035.01 366.21L2036.86 366.21L2038.71 366.21L2040.56 366.21L2042.41 366.21L2044.26 366.21L2046.11 366.21L2047.96 366.21L2049.81 366.21L2051.66 366.21L2053.51 366.21L2055.36 366.21L2057.21 366.21L2059.06 366.21L2060.91 366.21L2062.76 366.21L2064.61 366.21L2066.46 366.21L2068.31 366.21L2070.16 366.21L2072 366.21L2073.85 366.21L2075.7 366.21L2077.55 366.21L2079.4 366.21L2081.25 366.21L2083.1 366.21L2084.95 366.21L2086.8 366.21L2088.65 366.21L2090.5 366.21L2092.35 366.21L2094.2 366.21L2096.05 366.21L2097.9 366.21L2099.75 366.21L2101.6 366.21L2103.45 366.21L2105.3 366.21L2107.15 366.21L2109 366.21" stroke="#ff0000" stroke-width="3.5" fill="none" stroke-linejoin="round"/>
<g clip-path="url(#cRB)">
<path d="M1187.66 765.56V889.64M1189.77 770.23V894.31M1191.71 773.59V897.67M1193.65 798.62V922.7M1195.59 812.04V936.12M1197.53 848.46V972.54M1199.47 797.52V921.6M1201.41 782.52V906.6M1203.35 776.95V901.03M1205.29 822.76V946.84M1207.24 788.56V912.64M1209.02 732.02V856.1M1210.96 893.16V1017.24M1212.9 911.05V1035.13M1214.84 702.3V826.38M1216.78 867.45V991.53M1218.72 767.55V891.63M1220.66 810.25V934.33M1222.44 704.32V828.4M1224.38 865.01V989.09M1226.33 849.57V973.65M1228.43 672.36V796.44M1230.21 856.74V980.82M1232.15 785.88V909.96M1234.09 877.96V1002.04M1236.04 817.61V941.69M1237.98 796.39V920.47M1239.92 787.01V911.09M1241.86 806.66V930.74M1243.8 840.4V964.48M1245.74 766.45V890.53M1247.68 749.67V873.75M1249.62 853.16V977.24M1251.56 766.9V890.98M1253.51 832.81V956.89M1255.45 790.8V914.88M1257.39 720.08V862.68M1259.33 804.43V928.51M1261.27 784.31V908.39M1263.21 812.04V936.12M1265.15 822.54V946.62M1267.09 793.26V917.34M1269.03 810.7V934.78M1270.98 841.98V966.06M1272.92 833.05V957.13M1274.86 850.02V974.1M1276.8 808.91V932.99M1278.58 862.99V987.07M1280.52 769.58V893.66M1282.46 769.13V893.21M1284.4 805.32V929.4M1286.34 813.59V937.67M1288.29 877.96V1002.04M1290.23 834.6V958.68M1292.17 779.63V903.71M1294.11 794.6V918.68M1296.05 812.25V936.33M1298 821.65V945.73M1299.94 763.77V887.85M1301.88 780.08V904.16M1303.82 789.69V913.77M1305.59 834.15V958.23M1307.54 967.35V1091.43M1309.48 904.11V1028.19M1311.42 843.32V967.4M1313.36 899.2V1023.28M1315.31 869.03V993.11M1317.25 757.73V881.81M1319.19 844.66V968.74M1321.13 833.94V958.02M1323.07 811.36V935.44M1325.01 777.61V901.69M1326.95 816.5V940.58M1328.89 822.76V946.84M1330.83 838.62V962.7M1332.61 892.48V1016.56M1334.56 759.28V883.36M1336.5 823.2V947.28M1338.44 734.25V858.33M1340.38 831.03V955.11M1342.32 868.79V992.87M1344.26 665.42V789.5M1346.2 689.56V813.64M1348.14 820.97V945.05M1350.08 872.36V996.44M1352.03 841.77V965.85M1353.97 861.86V985.94M1355.75 938.07V1062.15M1357.85 909.26V1033.34M1359.8 797.73V921.81M1361.74 860.52V984.6M1363.51 823.2V947.28M1365.45 809.36V933.44M1367.39 845.79V969.87M1369.34 782.97V907.05M1371.28 816.06V940.14M1373.22 860.97V985.05M1375.16 839.06V963.14M1377.1 827.9V951.98M1379.05 772.91V896.99M1380.99 884V1008.08M1382.93 812.7V936.78M1384.87 825.22V949.3M1386.81 788.12V912.2M1388.75 873.73V997.81M1390.69 778.74V902.82M1392.63 735.15V859.23M1394.57 846.89V970.97M1396.52 800.64V924.72M1398.46 824.99V949.07M1400.4 803.77V927.85M1402.34 922.44V1046.52M1404.28 806.45V930.53M1406.22 886.68V1010.76M1408.16 858.97V983.05M1410.1 734.94V859.02M1412.04 823.2V947.28M1413.22 783.3V902.87M1413.99 910.15V1034.23M1415.54 840.24V959.81M1415.93 784.54V908.62M1417.58 783.75V903.31M1417.87 842.66V966.74M1419.22 840.69V960.25M1419.81 784.54V908.62M1420.99 935.39V1054.96M1421.76 887.36V1011.44M1423.03 827.5V947.07M1423.7 766V890.08M1425.07 862.35V981.92M1425.64 778.95V903.03M1426.84 855.2V974.77M1427.58 823.87V947.95M1428.89 886.22V1005.79M1429.52 762.6V886.68M1430.93 877.89V997.46M1431.46 806.33V930.41M1432.57 850.99V970.56M1433.4 870.08V994.16M1434.61 750.21V869.77M1435.34 798.43V922.51M1436.38 824.57V944.14M1437.28 838.25V962.33M1438.42 865.48V985.04M1439.23 915.96V1040.04M1440.47 811.25V930.82M1441.17 836.98V961.06M1442.1 815.41V934.98M1443.11 829.54V953.62M1444.55 807.64V927.2M1445.05 844.28V968.36M1446.19 931.07V1050.64M1446.99 762.58V886.66M1448.23 754.9V874.47M1448.93 846.97V971.05M1450.01 972.07V1091.64M1450.87 840.35V964.43M1451.91 805.39V924.95M1452.81 822.38V946.46M1453.95 853.96V973.52M1454.75 748.52V872.6M1455.73 811.54V931.11M1456.7 804.11V928.19M1457.77 815.34V934.91M1458.64 808.21V932.29M1459.54 798.99V918.56M1460.58 815.55V939.63M1461.59 773.32V892.88M1462.52 749.83V873.91M1463.49 902.07V1021.64M1464.46 738.17V862.25M1465.26 884.78V1004.35M1466.41 771.8V895.88M1467.31 796.44V916.01M1468.35 867.87V991.95M1469.35 738.79V858.35M1470.29 779.86V903.94M1471.26 857.03V976.6M1472.23 791.81V915.89M1473.17 888.66V1008.23M1474.17 752.84V876.92M1475.21 818.65V938.22M1476.11 773.58V897.66M1477.11 853.03V972.6M1478.05 835.92V960M1478.89 825.6V945.17M1479.99 837.5V961.58M1480.93 879.65V999.22M1481.93 780.09V904.17M1482.84 766.48V886.05M1483.88 838.73V962.81M1484.74 980.97V1100.53M1485.82 854.66V978.74M1486.65 940.64V1060.2M1487.76 766.28V890.36M1488.69 777.24V896.81M1489.7 770.64V894.72M1490.6 851.3V970.87M1491.64 816.83V940.91M1492.51 799.65V919.22M1493.58 731.15V855.23M1494.42 991.01V1110.58M1495.52 852.69V976.77M1496.32 770.75V890.32M1497.46 853.1V977.18M1498.23 830.8V950.36M1499.4 813.29V937.37M1500.14 866.53V986.1M1501.35 845.47V969.55M1502.04 837.06V956.63M1503.29 833.4V957.48M1504.09 818.72V938.28M1505.23 800.35V924.43M1505.86 865.91V985.48M1507.17 803.5V927.58M1507.9 790.42V909.99M1509.12 772.91V896.99M1509.81 882.05V1001.61M1510.08 839.76V963.84M1511.72 858.89V978.45M1512.02 854.57V978.65M1513.62 844.64V964.21M1513.97 884.57V1008.65M1515.67 731.68V851.25M1515.91 738.71V862.79M1517.58 859.98V979.55M1517.85 833.1V957.18M1519.48 894.25V1013.82M1519.79 746.47V870.55M1521.39 871.11V990.68M1521.73 751.96V876.04M1523.3 828.81V948.38M1523.67 826.02V950.1M1525.2 794.97V914.54M1525.61 906.6V1030.68M1527.25 896.93V1016.5M1527.55 870.75V994.83M1529.29 686.65V806.22M1529.49 902.6V1026.68M1531.06 797.38V916.95M1531.44 700.5V824.58M1532.97 804.68V924.25M1533.38 837.66V961.74M1535.01 1017.66V1137.23M1535.32 757.8V881.88M1536.92 859.69V979.26M1537.26 796.41V920.49M1538.83 671.58V791.15M1539.2 822.5V946.58M1540.73 906.06V1025.63M1541.15 811.04V935.12M1542.78 797.47V917.04M1543.09 806.76V930.84M1544.55 855.96V975.53M1545.03 779.24V903.32M1546.59 987.25V1106.82M1546.97 791.73V915.81M1548.5 994.15V1113.72M1548.91 829.48V953.56M1550.41 836.47V956.03M1550.85 780.74V904.82M1552.45 760.06V879.62M1552.79 850.68V974.76M1554.09 721.89V841.46M1554.57 771.82V895.9M1556.27 719.85V839.42M1556.51 859.2V983.28M1558.03 817.25V936.82M1558.46 879.1V1003.18M1560.08 798.96V918.53M1560.4 808.04V932.12M1561.99 746.05V865.62M1562.34 932.09V1056.17M1563.89 783.15V902.72M1564.28 811.66V935.74M1565.8 770.67V890.23M1566.22 866.67V990.75M1567.85 862.94V982.51M1568.16 673.83V797.91M1569.62 916.59V1036.16M1570.1 861.39V985.47M1571.66 818.13V937.69M1572.04 827.68V951.76M1573.57 830.25V949.82M1573.98 907.53V1031.61M1575.47 893.51V1013.08M1575.93 750.47V874.55M1577.38 725.4V844.96M1577.87 924.85V1048.93M1579.43 796.03V915.6M1579.81 865.47V989.55M1581.2 667.02V786.59M1581.75 823.54V947.62M1583.24 802.67V922.24M1583.69 827.41V951.49M1585.15 876.44V996.01M1585.63 759.99V884.07M1587.05 884.81V1004.38M1587.58 812.38V936.46M1588.96 783.28V902.85M1589.52 839.95V964.03M1590.87 813.52V933.09M1591.46 777.03V901.11M1592.78 1013.08V1132.64M1593.4 843.51V967.59M1594.69 793.19V912.75M1595.34 755.12V879.2M1596.73 752.2V871.77M1597.28 795.01V919.09M1598.63 829.81V949.38M1599.22 863.73V987.81M1600.54 895.6V1015.17M1601 849.12V973.2M1602.45 946.87V1066.44M1602.95 780.84V904.92M1604.22 878.89V998.46M1604.89 803.1V927.18M1606.26 816.47V936.04M1606.83 779.55V903.63M1608.3 803.2V922.77M1608.77 781.02V905.1M1610.22 810.94V930.51M1610.71 758.38V882.46M1612.12 961.83V1081.4M1612.65 733.93V858.01M1614.03 892.32V1011.88M1614.59 830.19V954.27M1616.07 734.56V854.13M1616.53 769.77V893.85M1617.84 857.12V976.69M1618.47 746.91V870.99M1619.89 792.74V912.31M1620.42 809.66V933.74M1621.8 814.77V934.34M1622.36 697.87V821.95M1623.7 881.51V1001.08M1624.3 793.91V917.99M1625.61 796.6V916.17M1626.24 820.23V944.31M1627.65 797V916.57M1628.18 761.63V885.71M1629.56 846.97V966.54M1630.12 819.04V943.12M1631.47 868.84V988.41M1632.06 772.5V896.58M1633.38 934.23V1053.8M1634 787.68V911.76M1635.28 886.88V1006.45M1635.94 774.26V898.34M1637.19 893.32V1012.89M1637.89 808.2V932.28M1639.1 833.68V953.25M1639.83 756.55V880.63M1641 728.93V848.5M1641.77 767.94V892.02M1643.05 761.3V880.87M1643.71 798.78V922.86M1644.96 803.06V922.62M1645.65 805.92V930M1646.86 847.49V967.06M1647.6 866.93V991.01M1648.77 888.15V1007.72M1649.54 848.6V972.68M1650.68 796.13V915.7M1651.48 832.54V956.62M1652.58 816.03V935.59M1653.42 825.17V949.25M1654.63 850V969.57M1655.36 790.55V914.63M1656.4 822.99V942.56M1657.14 757.27V881.35M1658.44 686.55V806.12M1659.08 764.44V888.52M1660.35 814.98V934.55M1661.02 780.78V904.86M1662.25 775.28V894.85M1662.96 862.62V986.7M1664.16 967.38V1086.95M1664.91 742.64V866.72M1666.21 847.03V966.6M1666.85 756.1V880.18M1668.25 736.98V856.55M1668.79 792.34V916.42M1670.29 764.06V883.63M1670.73 853.18V977.26M1672.07 799.41V918.97M1672.67 710.43V834.51M1673.97 668.15V787.71M1674.61 806.14V930.22M1675.74 862.06V981.62M1676.55 830.57V954.65M1677.51 846.91V966.48M1678.17 875.32V999.4M1679.83 769.52V889.09M1680.43 727.9V851.98M1681.6 870.75V990.32M1682.38 814.69V938.77M1683.51 853.86V973.43M1684.32 797.36V921.44M1685.55 901.28V1020.85M1686.26 832.98V957.06M1687.46 900.48V1020.05M1688.2 782.99V907.07M1689.37 880.48V1000.05M1690.14 777.96V902.04M1691.27 860.48V980.05M1692.08 814.49V938.57M1693.18 749.36V868.92M1694.02 840.72V964.8M1695.09 980.39V1099.96M1695.48 889.54V1013.62M1696.99 848.5V968.07M1697.9 833.8V957.88M1698.9 872.52V992.09M1699.85 777.38V901.46M1700.95 862.38V981.94M1701.79 776.84V900.92M1702.85 877.68V997.25M1703.73 766.02V890.1M1704.76 746.7V866.27M1705.19 968.81V1092.89M1706.67 784.81V904.38M1707.45 748.16V872.24M1708.57 800.81V920.38M1709.39 825.85V949.93M1710.62 887.39V1006.96M1711.01 1019.52V1143.6M1712.52 929.51V1049.08M1712.95 896.53V1020.61M1715.05 769.3V893.38M1716.34 827.31V946.88M1716.83 595.36V719.44M1718.24 772.32V891.89M1718.77 950.19V1074.27M1720.29 802.65V922.22M1720.88 811.37V935.45M1722.2 838.33V957.9M1722.82 822.29V946.37M1724.1 878.69V998.26M1724.76 850.62V974.7M1726.01 817.47V937.03M1726.7 783.08V907.16M1728.06 881.54V1001.11M1728.65 861.27V985.35M1729.96 867.66V987.23M1730.59 859.03V983.11M1731.87 954.29V1073.86M1732.53 822.12V946.2M1733.78 827.19V946.76M1734.47 772.94V897.02M1735.68 863.59V983.16M1737.73 872.75V992.32M1739.64 837.23V956.8M1739.97 919.28V1043.36M1741.54 793.7V913.27M1742.23 816.53V940.61M1743.45 834.35V953.92M1744.17 841.8V965.88M1745.36 782.77V902.34M1745.79 884.23V1008.31M1747.26 880.82V1000.39M1748.06 868.21V992.29M1749.17 802.02V921.59M1749.68 879.14V1003.22M1751.22 734.4V853.97M1753.12 767.05V886.62M1753.72 844.4V968.48M1755.03 816.91V936.47M1755.66 869.94V994.02M1756.94 883.73V1003.3M1757.6 761.37V885.45M1758.84 727.67V847.24M1759.38 940.87V1064.95M1760.75 803.91V923.48M1761.48 856.95V981.03M1762.79 847.33V966.9M1764.7 793.14V912.71M1765.37 818.02V942.1M1766.61 780.72V900.29M1767.31 826.38V950.46M1768.51 868.6V988.17M1769.25 702.23V826.31M1770.43 841.46V961.03M1771.19 784.58V908.66M1772.47 859.68V979.25M1773.13 782.69V906.77M1774.37 875.89V995.45M1775.07 801.82V925.9M1776.28 800.76V920.33M1777.01 769.55V893.63M1778.19 769.84V889.41M1778.95 777.09V901.17M1780.09 775.81V895.38M1780.9 856.81V980.89M1782.01 726.37V845.94M1782.52 915.91V1039.99M1783.91 881.33V1000.89M1784.78 878.62V1002.7M1785.95 786.84V906.41M1786.72 845.28V969.36M1787.86 807.13V926.7M1788.66 814.2V938.28M1789.77 867.41V986.98M1790.61 785.8V909.88M1791.68 895.32V1014.89M1792.06 621.43V745.51M1793.59 805.32V924.89M1794 642.45V766.53M1795.49 791.47V911.04M1796.1 899.09V1023.17M1797.53 864.81V984.38M1798.21 884.41V1008.49M1799.44 832.44V952.01M1799.99 976.95V1101.03M1801.35 793.42V912.99M1802.09 827.11V951.19M1803.26 889.99V1009.56M1804.03 803.73V927.81M1805.17 835.82V955.39M1805.97 733.22V857.3M1807.07 858.47V978.04M1807.92 791.68V915.76M1809.11 853.73V973.3M1809.86 799.86V923.94M1811.02 814.35V933.92M1811.8 793.57V917.65M1813.41 996.34V1120.42M1814.84 806.9V926.47M1815.68 777.44V901.52M1816.74 815.84V935.41M1817.62 779.48V903.56M1818.78 809.69V929.26M1819.56 860.89V984.97M1820.7 728.47V848.03M1821.5 858.74V982.82M1822.6 780.62V900.18M1823.44 842.14V966.22M1824.51 799.07V918.64M1825.39 828.92V953M1826.42 833.92V953.49M1827.33 693.55V817.63M1828.32 818.83V938.4M1829.27 785.79V909.87M1830.23 806.33V925.9M1831.05 750.28V874.36M1832.28 857.54V977.11M1832.99 888.48V1012.56M1834.18 795.48V915.05M1834.93 833.68V957.76M1836.09 885.6V1005.17M1836.87 776.97V901.05M1838 829.96V949.53M1838.81 807.26V931.34M1839.9 798.08V917.64M1840.75 803.9V927.98M1841.95 834.92V954.49M1842.37 944.79V1068.87M1843.86 865.86V985.43M1844.64 731.31V855.39M1845.76 818.32V937.89M1846.58 708.99V833.07M1848.52 759.73V883.81M1849.71 815.45V935.02M1850.46 763.19V887.27M1851.62 846.77V966.34M1852.41 822.33V946.41M1853.53 812.47V932.03M1854.35 732.64V856.72M1854.89 778.83V898.39M1855.64 935.72V1059.8M1856.53 778.78V898.35M1857.58 811.62V935.7M1859.38 777.85V897.42M1859.52 894.22V1018.3M1861.29 786.96V906.53M1861.46 834.48V958.56M1863.2 776.77V896.34M1863.4 873.9V997.98M1865.11 848.5V968.07M1865.35 783.41V907.49M1867.01 799.82V919.38M1867.29 762.4V886.48M1868.92 921.08V1040.65M1869.23 700.74V824.82M1870.97 761.4V880.97M1871.17 822.54V946.62M1872.87 847.83V967.4M1873.11 960.65V1084.73M1874.78 858.99V978.56M1874.89 796.39V920.47M1876.69 730.59V850.16M1876.83 914.17V1038.25M1878.59 771.01V890.58M1878.77 875.96V1000.04M1880.5 788.21V907.78M1880.71 817.84V941.92M1882.41 769.67V889.24M1882.66 824.99V949.07M1884.45 845.15V964.72M1884.6 936.28V1060.36M1886.36 895.39V1014.96M1886.54 824.78V948.86M1888.27 758.27V877.84M1888.48 942.32V1066.4M1890.17 919.98V1039.54M1890.42 1077.75V1201.83M1892.08 868.37V987.94M1892.36 843.32V967.4M1894.13 819.91V939.48M1894.3 926.23V1050.31M1896.03 941.2V1060.76M1896.24 842.87V966.95M1897.94 765.42V884.98M1898.18 731.81V855.89M1899.85 732.82V852.39M1900.13 801.98V926.06M1901.75 781.28V900.85M1902.07 712.14V836.22M1903.8 732.82V852.39M1904.01 834.83V958.91M1905.71 802.05V921.62M1905.95 771.57V895.65M1907.61 829.97V949.54M1907.89 793.26V917.34M1909.52 858.99V978.56M1909.84 899.41V1023.49M1911.43 883.57V1003.14M1911.61 663.19V787.27M1913.47 887.36V1006.93M1913.55 657.39V781.47M1915.38 832.86V952.43M1915.49 766.21V890.29M1917.28 817.02V936.59M1917.44 843.55V967.63M1919.19 854.32V973.88M1919.38 688.9V812.98M1921.1 857V976.56M1921.32 736.72V860.8M1923.01 797.59V917.16M1923.26 751.69V875.77M1924.91 669.61V789.17M1925.2 893.61V1017.69M1926.82 955.48V1075.05M1927.15 715.03V839.11M1928.86 794.23V913.79M1929.09 1010.26V1134.34M1930.77 797.14V916.71M1931.03 813.14V937.22M1932.68 787.32V906.89M1932.97 833.05V957.13M1934.58 944.32V1063.89M1934.91 787.01V911.09M1936.49 723.21V842.78M1936.85 844V968.08M1938.4 756.49V876.05M1938.79 1013.83V1137.91M1940.44 866.14V985.7M1940.73 818.74V942.82M1942.35 806.28V925.85M1942.51 941.88V1065.96M1944.26 773.24V892.81M1944.62 797.96V922.04M1946.16 741.75V861.32M1946.56 820.52V944.6M1948.07 844.05V963.62M1948.5 741.87V865.95M1949.98 779.49V899.06M1950.44 862.31V986.39M1952.02 852.3V971.86M1952.38 842.66V966.74M1953.93 911.26V1030.82M1954.16 947.92V1072M1955.84 881.79V1001.36M1956.26 847.13V971.21M1957.74 877.32V996.89M1958.04 742.97V867.05M1959.65 840.9V960.47M1959.98 915.51V1039.59M1961.56 847.38V966.95M1961.92 856.95V981.03M1963.47 760.29V879.86M1963.87 780.74V904.82M1965.38 869.5V989.07M1965.81 830.58V954.66M1967.28 770.33V889.9M1967.75 799.51V923.59M1969.19 876.88V996.44M1969.69 825.22V949.3M1971.1 750V869.57M1971.64 873.26V997.34M1973.14 835.54V955.11M1973.58 847.57V971.65M1975.05 743.3V862.87M1975.52 892.03V1016.11M1976.96 729.46V849.03M1977.46 823.65V947.73M1978.86 755.59V875.16M1979.4 826.12V950.2M1980.77 855.21V974.78M1981.18 900.99V1025.07M1982.81 850.51V970.08M1983.12 1021.21V1145.29M1984.72 793.78V913.35M1985.06 791.24V915.32M1986.63 780.83V900.4M1987 768.89V892.97M1988.53 816.58V936.14M1988.94 770.23V894.31M1990.44 783.06V902.63M1990.89 759.07V883.15M1992.49 806.73V926.3M1992.83 844.45V968.53M1994.39 836.88V956.45M1994.77 819.87V943.95M1996.3 921.53V1041.09M1996.71 742.08V866.16M1998.21 726.34V845.9M1998.65 670.78V794.86M2000.11 789.55V909.12M2000.59 799.07V923.15M2002.16 775.69V895.25M2002.37 987.26V1111.34M2004.07 874.86V994.42M2004.47 744.55V868.63M2005.97 815.89V935.46M2006.41 734.04V858.12M2007.88 831.76V951.32M2008.36 870.37V994.45M2009.65 696.42V815.99M2010.3 775.62V899.7M2011.83 783.96V903.53M2012.08 685.09V809.17M2013.74 833.1V952.66M2014.18 803.53V927.61M2015.65 867.71V987.28M2016.12 833.94V958.02M2017.55 737.29V856.85M2018.06 832.6V956.68M2019.46 804.94V924.51M2020 804.66V928.74M2021.37 771.67V891.24M2021.94 856.5V980.58M2023.27 701.78V821.35M2023.88 810.7V934.78M2025.32 921.53V1041.09M2025.83 755.71V879.79M2027.23 865.24V984.81M2027.61 846.68V970.76M2029.27 863.25V982.81M2029.55 868.79V992.87M2031.17 873.96V993.53M2031.49 824.99V949.07M2033.08 875.75V995.32M2033.43 841.53V965.61M2034.99 813V932.57M2035.37 786.57V910.65M2036.9 950.57V1070.14M2037.31 814.93V939.01M2038.8 834.44V954M2039.25 844V968.08M2040.71 761.19V880.75M2041.2 789.01V913.09M2042.62 766.31V885.88M2044.66 744.64V864.21M2045.08 826.33V950.41M2046.57 814.79V934.36M2047.02 787.67V911.75M2048.48 896.08V1015.64M2048.96 733.81V857.89M2050.38 857.44V977.01M2050.9 817.16V941.24M2052.29 840.24V959.81M2052.85 767.79V891.87M2054.34 765.2V884.77M2054.79 808.02V932.1M2056.24 814.34V933.91M2056.73 872.15V996.23M2058.15 864.35V983.92M2058.67 822.1V946.18M2060.06 778.36V897.93M2060.61 799.07V923.15M2061.96 945.87V1065.44M2062.55 813.59V937.67M2063.87 889.59V1009.16M2064.49 905.9V1029.98M2065.78 843.81V963.38M2066.43 810.7V934.78M2067.82 746.22V865.78M2068.37 852.72V976.8M2069.73 905.9V1025.47M2070.32 747.88V871.96M2071.64 717.62V837.19M2072.26 866.11V990.19M2073.54 863.46V983.03M2074.2 842.43V966.51M2075.45 920.19V1039.75M2075.98 792.82V916.9M2077.36 826.16V945.73M2077.92 867.69V991.77M2079.4 884.23V1003.8M2079.86 887.57V1011.65M2081.31 797.35V916.92M2081.8 883.55V1007.63M2083.22 869.26V988.83M2083.74 778.51V902.59M2085.12 792.68V912.24M2085.68 850.46V974.54M2087.03 697.31V816.88M2087.63 795.71V919.79M2089.07 771.67V891.24M2089.57 762.41V886.49M2090.98 863.01V982.58M2091.51 866.56V990.64M2092.89 837.11V956.68M2093.45 832.37V956.45M2094.79 866.82V986.39M2095.39 823.2V947.28M2096.7 852.74V972.31M2097.34 814.27V938.35M2098.61 874.86V994.42M2099.28 809.36V933.44M2100.52 895.18V1014.75M2101.22 816.5V940.58M2102.56 790.44V910.01M2103.16 766.9V890.98M2104.47 866.82V986.39M2105.1 828.8V952.88M2106.37 860.57V980.14M2106.88 945.68V1069.76M2108.28 863.69V983.26M2108.98 745.44V869.52M2110.19 853.87V973.44M2110.92 766.9V890.98M2112.1 834.2V953.77M2112.86 760.62V884.7M2114.01 874.86V994.42M2114.81 757.05V881.13M2115.91 801.37V920.94M2116.75 850.02V974.1M2117.82 774.13V893.7M2118.69 812.25V936.33M2119.86 813.66V933.23M2120.63 822.54V946.62M2121.77 844.94V964.51M2122.25 611.11V735.19M2123.68 767.2V886.77M2124.35 748.12V872.2M2125.59 754.49V874.06M2126.29 857.39V981.48M2127.49 838.9V958.47M2128.23 836.39V960.47M2129.53 816.58V936.14M2130.17 850.7V974.78M2131.44 718.3V837.87M2132.12 860.07V984.15M2133.35 806.73V926.3M2134.06 855.84V979.92M2135.26 876.43V996M2136 889.35V1013.43M2137.17 778.81V898.38M2137.94 816.06V940.14M2139.21 915.72V1035.29M2139.88 846.68V970.76M2141.11 777.26V896.83M2141.82 833.5V957.58M2143.02 788.42V907.99M2143.76 769.34V893.42M2144.93 789.76V909.33M2145.7 787.67V911.75M2146.84 775.92V895.49M2147.64 771.81V895.89M2148.74 871.49V991.06M2149.59 835.49V959.57M2150.79 773.9V893.47M2151.53 768V892.08M2152.7 879.32V998.89M2153.47 790.35V914.43M2154.6 758.72V878.29M2155.41 890.25V1014.33M2156.51 781.28V900.85M2157.35 830.37V954.45M2158.42 824.38V943.95M2159.3 810.7V934.78M2160.32 849.62V969.18M2161.24 835.28V959.36M2162.37 754.04V873.61M2163.18 813.83V937.91M2164.28 791.1V910.67M2165.12 854.5V978.58M2166.18 818.13V937.69M2167.06 847.13V971.21M2168.09 764.52V884.09M2169 772.7V896.78M2170 743.75V863.32M2170.94 887.57V1011.65M2172.04 819.47V939.03M2172.72 759.52V883.6M2173.95 832.65V952.22M2174.66 802.64V926.72M2175.86 879.11V998.68M2176.61 835.49V959.57M2177.76 884.02V1003.59M2178.55 812.49V936.57M2179.67 796.69V916.26M2180.49 744.76V868.84M2181.71 816.58V936.14M2182.43 752.14V876.22M2183.62 849.62V969.18M2184.37 848.46V972.54M2185.53 855.66V975.22M2186.31 894.06V1018.14M2187.44 808.75V928.32M2188.25 808.47V932.55M2189.34 754.49V874.06M2190.19 856.5V980.58M2191.25 732.14V851.71M2192.13 782.52V906.6M2193.29 848.07V967.63M2195.2 812.56V932.12M2197.11 782.17V901.74M2199.02 831.97V951.54M2200.92 778.15V897.72M2202.97 787.98V907.54M2204.87 819.47V939.03M2206.78 862.57V982.13M2208.69 775.03V894.6M2210.59 741.75V861.32M2212.64 734.16V853.73" stroke="#c0c0c0" stroke-width="2.9" fill="none"/>
<g fill="none" stroke="#808080" stroke-width="2"><circle cx="1187.66" cy="827.6" r="1.85"/><circle cx="1189.77" cy="832.27" r="1.85"/><circle cx="1191.71" cy="835.63" r="1.85"/><circle cx="1193.65" cy="860.66" r="1.85"/><circle cx="1195.59" cy="874.08" r="1.85"/><circle cx="1197.53" cy="910.5" r="1.85"/><circle cx="1199.47" cy="859.56" r="1.85"/><circle cx="1201.41" cy="844.56" r="1.85"/><circle cx="1203.35" cy="838.99" r="1.85"/><circle cx="1205.29" cy="884.8" r="1.85"/><circle cx="1207.24" cy="850.6" r="1.85"/><circle cx="1209.02" cy="794.06" r="1.85"/><circle cx="1210.96" cy="955.2" r="1.85"/><circle cx="1212.9" cy="973.09" r="1.85"/><circle cx="1214.84" cy="764.34" r="1.85"/><circle cx="1216.78" cy="929.49" r="1.85"/><circle cx="1218.72" cy="829.59" r="1.85"/><circle cx="1220.66" cy="872.29" r="1.85"/><circle cx="1222.44" cy="766.36" r="1.85"/><circle cx="1224.38" cy="927.05" r="1.85"/><circle cx="1226.33" cy="911.61" r="1.85"/><circle cx="1228.43" cy="734.4" r="1.85"/><circle cx="1230.21" cy="918.78" r="1.85"/><circle cx="1232.15" cy="847.92" r="1.85"/><circle cx="1234.09" cy="940" r="1.85"/><circle cx="1236.04" cy="879.65" r="1.85"/><circle cx="1237.98" cy="858.43" r="1.85"/><circle cx="1239.92" cy="849.05" r="1.85"/><circle cx="1241.86" cy="868.7" r="1.85"/><circle cx="1243.8" cy="902.44" r="1.85"/><circle cx="1245.74" cy="828.49" r="1.85"/><circle cx="1247.68" cy="811.71" r="1.85"/><circle cx="1249.62" cy="915.2" r="1.85"/><circle cx="1251.56" cy="828.94" r="1.85"/><circle cx="1253.51" cy="894.85" r="1.85"/><circle cx="1255.45" cy="852.84" r="1.85"/><circle cx="1257.39" cy="791.38" r="1.85"/><circle cx="1259.33" cy="866.47" r="1.85"/><circle cx="1261.27" cy="846.35" r="1.85"/><circle cx="1263.21" cy="874.08" r="1.85"/><circle cx="1265.15" cy="884.58" r="1.85"/><circle cx="1267.09" cy="855.3" r="1.85"/><circle cx="1269.03" cy="872.74" r="1.85"/><circle cx="1270.98" cy="904.02" r="1.85"/><circle cx="1272.92" cy="895.09" r="1.85"/><circle cx="1274.86" cy="912.06" r="1.85"/><circle cx="1276.8" cy="870.95" r="1.85"/><circle cx="1278.58" cy="925.03" r="1.85"/><circle cx="1280.52" cy="831.62" r="1.85"/><circle cx="1282.46" cy="831.17" r="1.85"/><circle cx="1284.4" cy="867.36" r="1.85"/><circle cx="1286.34" cy="875.63" r="1.85"/><circle cx="1288.29" cy="940" r="1.85"/><circle cx="1290.23" cy="896.64" r="1.85"/><circle cx="1292.17" cy="841.67" r="1.85"/><circle cx="1294.11" cy="856.64" r="1.85"/><circle cx="1296.05" cy="874.29" r="1.85"/><circle cx="1298" cy="883.69" r="1.85"/><circle cx="1299.94" cy="825.81" r="1.85"/><circle cx="1301.88" cy="842.12" r="1.85"/><circle cx="1303.82" cy="851.73" r="1.85"/><circle cx="1305.59" cy="896.19" r="1.85"/><circle cx="1307.54" cy="1029.39" r="1.85"/><circle cx="1309.48" cy="966.15" r="1.85"/><circle cx="1311.42" cy="905.36" r="1.85"/><circle cx="1313.36" cy="961.24" r="1.85"/><circle cx="1315.31" cy="931.07" r="1.85"/><circle cx="1317.25" cy="819.77" r="1.85"/><circle cx="1319.19" cy="906.7" r="1.85"/><circle cx="1321.13" cy="895.98" r="1.85"/><circle cx="1323.07" cy="873.4" r="1.85"/><circle cx="1325.01" cy="839.65" r="1.85"/><circle cx="1326.95" cy="878.54" r="1.85"/><circle cx="1328.89" cy="884.8" r="1.85"/><circle cx="1330.83" cy="900.66" r="1.85"/><circle cx="1332.61" cy="954.52" r="1.85"/><circle cx="1334.56" cy="821.32" r="1.85"/><circle cx="1336.5" cy="885.24" r="1.85"/><circle cx="1338.44" cy="796.29" r="1.85"/><circle cx="1340.38" cy="893.07" r="1.85"/><circle cx="1342.32" cy="930.83" r="1.85"/><circle cx="1344.26" cy="727.46" r="1.85"/><circle cx="1346.2" cy="751.6" r="1.85"/><circle cx="1348.14" cy="883.01" r="1.85"/><circle cx="1350.08" cy="934.4" r="1.85"/><circle cx="1352.03" cy="903.81" r="1.85"/><circle cx="1353.97" cy="923.9" r="1.85"/><circle cx="1355.75" cy="1000.11" r="1.85"/><circle cx="1357.85" cy="971.3" r="1.85"/><circle cx="1359.8" cy="859.77" r="1.85"/><circle cx="1361.74" cy="922.56" r="1.85"/><circle cx="1363.51" cy="885.24" r="1.85"/><circle cx="1365.45" cy="871.4" r="1.85"/><circle cx="1367.39" cy="907.83" r="1.85"/><circle cx="1369.34" cy="845.01" r="1.85"/><circle cx="1371.28" cy="878.1" r="1.85"/><circle cx="1373.22" cy="923.01" r="1.85"/><circle cx="1375.16" cy="901.11" r="1.85"/><circle cx="1377.1" cy="889.94" r="1.85"/><circle cx="1379.05" cy="834.95" r="1.85"/><circle cx="1380.99" cy="946.04" r="1.85"/><circle cx="1382.93" cy="874.74" r="1.85"/><circle cx="1384.87" cy="887.26" r="1.85"/><circle cx="1386.81" cy="850.16" r="1.85"/><circle cx="1388.75" cy="935.77" r="1.85"/><circle cx="1390.69" cy="840.78" r="1.85"/><circle cx="1392.63" cy="797.19" r="1.85"/><circle cx="1394.57" cy="908.93" r="1.85"/><circle cx="1396.52" cy="862.68" r="1.85"/><circle cx="1398.46" cy="887.03" r="1.85"/><circle cx="1400.4" cy="865.81" r="1.85"/><circle cx="1402.34" cy="984.48" r="1.85"/><circle cx="1404.28" cy="868.49" r="1.85"/><circle cx="1406.22" cy="948.72" r="1.85"/><circle cx="1408.16" cy="921.01" r="1.85"/><circle cx="1410.1" cy="796.98" r="1.85"/><circle cx="1412.04" cy="885.24" r="1.85"/><circle cx="1413.22" cy="843.08" r="1.85"/><circle cx="1413.99" cy="972.19" r="1.85"/><circle cx="1415.54" cy="900.02" r="1.85"/><circle cx="1415.93" cy="846.58" r="1.85"/><circle cx="1417.58" cy="843.53" r="1.85"/><circle cx="1417.87" cy="904.7" r="1.85"/><circle cx="1419.22" cy="900.47" r="1.85"/><circle cx="1419.81" cy="846.58" r="1.85"/><circle cx="1420.99" cy="995.18" r="1.85"/><circle cx="1421.76" cy="949.4" r="1.85"/><circle cx="1423.03" cy="887.29" r="1.85"/><circle cx="1423.7" cy="828.04" r="1.85"/><circle cx="1425.07" cy="922.14" r="1.85"/><circle cx="1425.64" cy="840.99" r="1.85"/><circle cx="1426.84" cy="914.99" r="1.85"/><circle cx="1427.58" cy="885.91" r="1.85"/><circle cx="1428.89" cy="946.01" r="1.85"/><circle cx="1429.52" cy="824.64" r="1.85"/><circle cx="1430.93" cy="937.68" r="1.85"/><circle cx="1431.46" cy="868.37" r="1.85"/><circle cx="1432.57" cy="910.78" r="1.85"/><circle cx="1433.4" cy="932.12" r="1.85"/><circle cx="1434.61" cy="809.99" r="1.85"/><circle cx="1435.34" cy="860.47" r="1.85"/><circle cx="1436.38" cy="884.36" r="1.85"/><circle cx="1437.28" cy="900.29" r="1.85"/><circle cx="1438.42" cy="925.26" r="1.85"/><circle cx="1439.23" cy="978" r="1.85"/><circle cx="1440.47" cy="871.04" r="1.85"/><circle cx="1441.17" cy="899.02" r="1.85"/><circle cx="1442.1" cy="875.2" r="1.85"/><circle cx="1443.11" cy="891.58" r="1.85"/><circle cx="1444.55" cy="867.42" r="1.85"/><circle cx="1445.05" cy="906.32" r="1.85"/><circle cx="1446.19" cy="990.86" r="1.85"/><circle cx="1446.99" cy="824.62" r="1.85"/><circle cx="1448.23" cy="814.69" r="1.85"/><circle cx="1448.93" cy="909.01" r="1.85"/><circle cx="1450.01" cy="1031.85" r="1.85"/><circle cx="1450.87" cy="902.39" r="1.85"/><circle cx="1451.91" cy="865.17" r="1.85"/><circle cx="1452.81" cy="884.42" r="1.85"/><circle cx="1453.95" cy="913.74" r="1.85"/><circle cx="1454.75" cy="810.56" r="1.85"/><circle cx="1455.73" cy="871.32" r="1.85"/><circle cx="1456.7" cy="866.15" r="1.85"/><circle cx="1457.77" cy="875.12" r="1.85"/><circle cx="1458.64" cy="870.25" r="1.85"/><circle cx="1459.54" cy="858.77" r="1.85"/><circle cx="1460.58" cy="877.59" r="1.85"/><circle cx="1461.59" cy="833.1" r="1.85"/><circle cx="1462.52" cy="811.87" r="1.85"/><circle cx="1463.49" cy="961.85" r="1.85"/><circle cx="1464.46" cy="800.21" r="1.85"/><circle cx="1465.26" cy="944.57" r="1.85"/><circle cx="1466.41" cy="833.84" r="1.85"/><circle cx="1467.31" cy="856.22" r="1.85"/><circle cx="1468.35" cy="929.91" r="1.85"/><circle cx="1469.35" cy="798.57" r="1.85"/><circle cx="1470.29" cy="841.9" r="1.85"/><circle cx="1471.26" cy="916.82" r="1.85"/><circle cx="1472.23" cy="853.85" r="1.85"/><circle cx="1473.17" cy="948.44" r="1.85"/><circle cx="1474.17" cy="814.88" r="1.85"/><circle cx="1475.21" cy="878.44" r="1.85"/><circle cx="1476.11" cy="835.62" r="1.85"/><circle cx="1477.11" cy="912.81" r="1.85"/><circle cx="1478.05" cy="897.96" r="1.85"/><circle cx="1478.89" cy="885.39" r="1.85"/><circle cx="1479.99" cy="899.54" r="1.85"/><circle cx="1480.93" cy="939.44" r="1.85"/><circle cx="1481.93" cy="842.13" r="1.85"/><circle cx="1482.84" cy="826.27" r="1.85"/><circle cx="1483.88" cy="900.77" r="1.85"/><circle cx="1484.74" cy="1040.75" r="1.85"/><circle cx="1485.82" cy="916.7" r="1.85"/><circle cx="1486.65" cy="1000.42" r="1.85"/><circle cx="1487.76" cy="828.32" r="1.85"/><circle cx="1488.69" cy="837.03" r="1.85"/><circle cx="1489.7" cy="832.68" r="1.85"/><circle cx="1490.6" cy="911.08" r="1.85"/><circle cx="1491.64" cy="878.87" r="1.85"/><circle cx="1492.51" cy="859.43" r="1.85"/><circle cx="1493.58" cy="793.19" r="1.85"/><circle cx="1494.42" cy="1050.79" r="1.85"/><circle cx="1495.52" cy="914.73" r="1.85"/><circle cx="1496.32" cy="830.54" r="1.85"/><circle cx="1497.46" cy="915.14" r="1.85"/><circle cx="1498.23" cy="890.58" r="1.85"/><circle cx="1499.4" cy="875.33" r="1.85"/><circle cx="1500.14" cy="926.31" r="1.85"/><circle cx="1501.35" cy="907.51" r="1.85"/><circle cx="1502.04" cy="896.85" r="1.85"/><circle cx="1503.29" cy="895.44" r="1.85"/><circle cx="1504.09" cy="878.5" r="1.85"/><circle cx="1505.23" cy="862.39" r="1.85"/><circle cx="1505.86" cy="925.7" r="1.85"/><circle cx="1507.17" cy="865.54" r="1.85"/><circle cx="1507.9" cy="850.2" r="1.85"/><circle cx="1509.12" cy="834.95" r="1.85"/><circle cx="1509.81" cy="941.83" r="1.85"/><circle cx="1510.08" cy="901.8" r="1.85"/><circle cx="1511.72" cy="918.67" r="1.85"/><circle cx="1512.02" cy="916.61" r="1.85"/><circle cx="1513.62" cy="904.43" r="1.85"/><circle cx="1513.97" cy="946.61" r="1.85"/><circle cx="1515.67" cy="791.47" r="1.85"/><circle cx="1515.91" cy="800.75" r="1.85"/><circle cx="1517.58" cy="919.77" r="1.85"/><circle cx="1517.85" cy="895.14" r="1.85"/><circle cx="1519.48" cy="954.03" r="1.85"/><circle cx="1519.79" cy="808.51" r="1.85"/><circle cx="1521.39" cy="930.9" r="1.85"/><circle cx="1521.73" cy="814" r="1.85"/><circle cx="1523.3" cy="888.6" r="1.85"/><circle cx="1523.67" cy="888.06" r="1.85"/><circle cx="1525.2" cy="854.76" r="1.85"/><circle cx="1525.61" cy="968.64" r="1.85"/><circle cx="1527.25" cy="956.71" r="1.85"/><circle cx="1527.55" cy="932.79" r="1.85"/><circle cx="1529.29" cy="746.43" r="1.85"/><circle cx="1529.49" cy="964.64" r="1.85"/><circle cx="1531.06" cy="857.17" r="1.85"/><circle cx="1531.44" cy="762.54" r="1.85"/><circle cx="1532.97" cy="864.46" r="1.85"/><circle cx="1533.38" cy="899.7" r="1.85"/><circle cx="1535.01" cy="1077.44" r="1.85"/><circle cx="1535.32" cy="819.84" r="1.85"/><circle cx="1536.92" cy="919.48" r="1.85"/><circle cx="1537.26" cy="858.45" r="1.85"/><circle cx="1538.83" cy="731.37" r="1.85"/><circle cx="1539.2" cy="884.54" r="1.85"/><circle cx="1540.73" cy="965.84" r="1.85"/><circle cx="1541.15" cy="873.08" r="1.85"/><circle cx="1542.78" cy="857.25" r="1.85"/><circle cx="1543.09" cy="868.8" r="1.85"/><circle cx="1544.55" cy="915.74" r="1.85"/><circle cx="1545.03" cy="841.28" r="1.85"/><circle cx="1546.59" cy="1047.03" r="1.85"/><circle cx="1546.97" cy="853.77" r="1.85"/><circle cx="1548.5" cy="1053.93" r="1.85"/><circle cx="1548.91" cy="891.52" r="1.85"/><circle cx="1550.41" cy="896.25" r="1.85"/><circle cx="1550.85" cy="842.78" r="1.85"/><circle cx="1552.45" cy="819.84" r="1.85"/><circle cx="1552.79" cy="912.72" r="1.85"/><circle cx="1554.09" cy="781.67" r="1.85"/><circle cx="1554.57" cy="833.86" r="1.85"/><circle cx="1556.27" cy="779.64" r="1.85"/><circle cx="1556.51" cy="921.24" r="1.85"/><circle cx="1558.03" cy="877.04" r="1.85"/><circle cx="1558.46" cy="941.14" r="1.85"/><circle cx="1560.08" cy="858.74" r="1.85"/><circle cx="1560.4" cy="870.08" r="1.85"/><circle cx="1561.99" cy="805.83" r="1.85"/><circle cx="1562.34" cy="994.13" r="1.85"/><circle cx="1563.89" cy="842.93" r="1.85"/><circle cx="1564.28" cy="873.7" r="1.85"/><circle cx="1565.8" cy="830.45" r="1.85"/><circle cx="1566.22" cy="928.71" r="1.85"/><circle cx="1567.85" cy="922.72" r="1.85"/><circle cx="1568.16" cy="735.87" r="1.85"/><circle cx="1569.62" cy="976.37" r="1.85"/><circle cx="1570.1" cy="923.43" r="1.85"/><circle cx="1571.66" cy="877.91" r="1.85"/><circle cx="1572.04" cy="889.72" r="1.85"/><circle cx="1573.57" cy="890.03" r="1.85"/><circle cx="1573.98" cy="969.57" r="1.85"/><circle cx="1575.47" cy="953.29" r="1.85"/><circle cx="1575.93" cy="812.51" r="1.85"/><circle cx="1577.38" cy="785.18" r="1.85"/><circle cx="1577.87" cy="986.89" r="1.85"/><circle cx="1579.43" cy="855.82" r="1.85"/><circle cx="1579.81" cy="927.51" r="1.85"/><circle cx="1581.2" cy="726.81" r="1.85"/><circle cx="1581.75" cy="885.58" r="1.85"/><circle cx="1583.24" cy="862.46" r="1.85"/><circle cx="1583.69" cy="889.45" r="1.85"/><circle cx="1585.15" cy="936.23" r="1.85"/><circle cx="1585.63" cy="822.03" r="1.85"/><circle cx="1587.05" cy="944.6" r="1.85"/><circle cx="1587.58" cy="874.42" r="1.85"/><circle cx="1588.96" cy="843.07" r="1.85"/><circle cx="1589.52" cy="901.99" r="1.85"/><circle cx="1590.87" cy="873.3" r="1.85"/><circle cx="1591.46" cy="839.07" r="1.85"/><circle cx="1592.78" cy="1072.86" r="1.85"/><circle cx="1593.4" cy="905.55" r="1.85"/><circle cx="1594.69" cy="852.97" r="1.85"/><circle cx="1595.34" cy="817.16" r="1.85"/><circle cx="1596.73" cy="811.98" r="1.85"/><circle cx="1597.28" cy="857.05" r="1.85"/><circle cx="1598.63" cy="889.59" r="1.85"/><circle cx="1599.22" cy="925.77" r="1.85"/><circle cx="1600.54" cy="955.38" r="1.85"/><circle cx="1601" cy="911.16" r="1.85"/><circle cx="1602.45" cy="1006.66" r="1.85"/><circle cx="1602.95" cy="842.88" r="1.85"/><circle cx="1604.22" cy="938.68" r="1.85"/><circle cx="1604.89" cy="865.14" r="1.85"/><circle cx="1606.26" cy="876.26" r="1.85"/><circle cx="1606.83" cy="841.59" r="1.85"/><circle cx="1608.3" cy="862.98" r="1.85"/><circle cx="1608.77" cy="843.06" r="1.85"/><circle cx="1610.22" cy="870.73" r="1.85"/><circle cx="1610.71" cy="820.42" r="1.85"/><circle cx="1612.12" cy="1021.62" r="1.85"/><circle cx="1612.65" cy="795.97" r="1.85"/><circle cx="1614.03" cy="952.1" r="1.85"/><circle cx="1614.59" cy="892.23" r="1.85"/><circle cx="1616.07" cy="794.34" r="1.85"/><circle cx="1616.53" cy="831.81" r="1.85"/><circle cx="1617.84" cy="916.91" r="1.85"/><circle cx="1618.47" cy="808.95" r="1.85"/><circle cx="1619.89" cy="852.52" r="1.85"/><circle cx="1620.42" cy="871.7" r="1.85"/><circle cx="1621.8" cy="874.56" r="1.85"/><circle cx="1622.36" cy="759.91" r="1.85"/><circle cx="1623.7" cy="941.29" r="1.85"/><circle cx="1624.3" cy="855.95" r="1.85"/><circle cx="1625.61" cy="856.39" r="1.85"/><circle cx="1626.24" cy="882.27" r="1.85"/><circle cx="1627.65" cy="856.79" r="1.85"/><circle cx="1628.18" cy="823.67" r="1.85"/><circle cx="1629.56" cy="906.76" r="1.85"/><circle cx="1630.12" cy="881.08" r="1.85"/><circle cx="1631.47" cy="928.62" r="1.85"/><circle cx="1632.06" cy="834.54" r="1.85"/><circle cx="1633.38" cy="994.02" r="1.85"/><circle cx="1634" cy="849.72" r="1.85"/><circle cx="1635.28" cy="946.66" r="1.85"/><circle cx="1635.94" cy="836.3" r="1.85"/><circle cx="1637.19" cy="953.1" r="1.85"/><circle cx="1637.89" cy="870.24" r="1.85"/><circle cx="1639.1" cy="893.47" r="1.85"/><circle cx="1639.83" cy="818.59" r="1.85"/><circle cx="1641" cy="788.71" r="1.85"/><circle cx="1641.77" cy="829.98" r="1.85"/><circle cx="1643.05" cy="821.09" r="1.85"/><circle cx="1643.71" cy="860.82" r="1.85"/><circle cx="1644.96" cy="862.84" r="1.85"/><circle cx="1645.65" cy="867.96" r="1.85"/><circle cx="1646.86" cy="907.28" r="1.85"/><circle cx="1647.6" cy="928.97" r="1.85"/><circle cx="1648.77" cy="947.94" r="1.85"/><circle cx="1649.54" cy="910.64" r="1.85"/><circle cx="1650.68" cy="855.92" r="1.85"/><circle cx="1651.48" cy="894.58" r="1.85"/><circle cx="1652.58" cy="875.81" r="1.85"/><circle cx="1653.42" cy="887.21" r="1.85"/><circle cx="1654.63" cy="909.78" r="1.85"/><circle cx="1655.36" cy="852.59" r="1.85"/><circle cx="1656.4" cy="882.78" r="1.85"/><circle cx="1657.14" cy="819.31" r="1.85"/><circle cx="1658.44" cy="746.34" r="1.85"/><circle cx="1659.08" cy="826.48" r="1.85"/><circle cx="1660.35" cy="874.77" r="1.85"/><circle cx="1661.02" cy="842.82" r="1.85"/><circle cx="1662.25" cy="835.06" r="1.85"/><circle cx="1662.96" cy="924.66" r="1.85"/><circle cx="1664.16" cy="1027.16" r="1.85"/><circle cx="1664.91" cy="804.68" r="1.85"/><circle cx="1666.21" cy="906.82" r="1.85"/><circle cx="1666.85" cy="818.14" r="1.85"/><circle cx="1668.25" cy="796.77" r="1.85"/><circle cx="1668.79" cy="854.38" r="1.85"/><circle cx="1670.29" cy="823.84" r="1.85"/><circle cx="1670.73" cy="915.22" r="1.85"/><circle cx="1672.07" cy="859.19" r="1.85"/><circle cx="1672.67" cy="772.47" r="1.85"/><circle cx="1673.97" cy="727.93" r="1.85"/><circle cx="1674.61" cy="868.18" r="1.85"/><circle cx="1675.74" cy="921.84" r="1.85"/><circle cx="1676.55" cy="892.61" r="1.85"/><circle cx="1677.51" cy="906.7" r="1.85"/><circle cx="1678.17" cy="937.36" r="1.85"/><circle cx="1679.83" cy="829.3" r="1.85"/><circle cx="1680.43" cy="789.94" r="1.85"/><circle cx="1681.6" cy="930.54" r="1.85"/><circle cx="1682.38" cy="876.73" r="1.85"/><circle cx="1683.51" cy="913.65" r="1.85"/><circle cx="1684.32" cy="859.4" r="1.85"/><circle cx="1685.55" cy="961.07" r="1.85"/><circle cx="1686.26" cy="895.02" r="1.85"/><circle cx="1687.46" cy="960.26" r="1.85"/><circle cx="1688.2" cy="845.03" r="1.85"/><circle cx="1689.37" cy="940.26" r="1.85"/><circle cx="1690.14" cy="840" r="1.85"/><circle cx="1691.27" cy="920.27" r="1.85"/><circle cx="1692.08" cy="876.53" r="1.85"/><circle cx="1693.18" cy="809.14" r="1.85"/><circle cx="1694.02" cy="902.76" r="1.85"/><circle cx="1695.09" cy="1040.18" r="1.85"/><circle cx="1695.48" cy="951.58" r="1.85"/><circle cx="1696.99" cy="908.29" r="1.85"/><circle cx="1697.9" cy="895.84" r="1.85"/><circle cx="1698.9" cy="932.3" r="1.85"/><circle cx="1699.85" cy="839.42" r="1.85"/><circle cx="1700.95" cy="922.16" r="1.85"/><circle cx="1701.79" cy="838.88" r="1.85"/><circle cx="1702.85" cy="937.46" r="1.85"/><circle cx="1703.73" cy="828.06" r="1.85"/><circle cx="1704.76" cy="806.49" r="1.85"/><circle cx="1705.19" cy="1030.85" r="1.85"/><circle cx="1706.67" cy="844.59" r="1.85"/><circle cx="1707.45" cy="810.2" r="1.85"/><circle cx="1708.57" cy="860.59" r="1.85"/><circle cx="1709.39" cy="887.89" r="1.85"/><circle cx="1710.62" cy="947.18" r="1.85"/><circle cx="1711.01" cy="1081.56" r="1.85"/><circle cx="1712.52" cy="989.29" r="1.85"/><circle cx="1712.95" cy="958.57" r="1.85"/><circle cx="1715.05" cy="831.34" r="1.85"/><circle cx="1716.34" cy="887.1" r="1.85"/><circle cx="1716.83" cy="657.4" r="1.85"/><circle cx="1718.24" cy="832.1" r="1.85"/><circle cx="1718.77" cy="1012.23" r="1.85"/><circle cx="1720.29" cy="862.43" r="1.85"/><circle cx="1720.88" cy="873.41" r="1.85"/><circle cx="1722.2" cy="898.11" r="1.85"/><circle cx="1722.82" cy="884.33" r="1.85"/><circle cx="1724.1" cy="938.47" r="1.85"/><circle cx="1724.76" cy="912.66" r="1.85"/><circle cx="1726.01" cy="877.25" r="1.85"/><circle cx="1726.7" cy="845.12" r="1.85"/><circle cx="1728.06" cy="941.33" r="1.85"/><circle cx="1728.65" cy="923.31" r="1.85"/><circle cx="1729.96" cy="927.44" r="1.85"/><circle cx="1730.59" cy="921.07" r="1.85"/><circle cx="1731.87" cy="1014.07" r="1.85"/><circle cx="1732.53" cy="884.16" r="1.85"/><circle cx="1733.78" cy="886.98" r="1.85"/><circle cx="1734.47" cy="834.98" r="1.85"/><circle cx="1735.68" cy="923.37" r="1.85"/><circle cx="1737.73" cy="932.54" r="1.85"/><circle cx="1739.64" cy="897.01" r="1.85"/><circle cx="1739.97" cy="981.32" r="1.85"/><circle cx="1741.54" cy="853.48" r="1.85"/><circle cx="1742.23" cy="878.57" r="1.85"/><circle cx="1743.45" cy="894.14" r="1.85"/><circle cx="1744.17" cy="903.84" r="1.85"/><circle cx="1745.36" cy="842.56" r="1.85"/><circle cx="1745.79" cy="946.27" r="1.85"/><circle cx="1747.26" cy="940.61" r="1.85"/><circle cx="1748.06" cy="930.25" r="1.85"/><circle cx="1749.17" cy="861.8" r="1.85"/><circle cx="1749.68" cy="941.18" r="1.85"/><circle cx="1751.22" cy="794.19" r="1.85"/><circle cx="1753.12" cy="826.83" r="1.85"/><circle cx="1753.72" cy="906.44" r="1.85"/><circle cx="1755.03" cy="876.69" r="1.85"/><circle cx="1755.66" cy="931.98" r="1.85"/><circle cx="1756.94" cy="943.52" r="1.85"/><circle cx="1757.6" cy="823.41" r="1.85"/><circle cx="1758.84" cy="787.46" r="1.85"/><circle cx="1759.38" cy="1002.91" r="1.85"/><circle cx="1760.75" cy="863.7" r="1.85"/><circle cx="1761.48" cy="918.99" r="1.85"/><circle cx="1762.79" cy="907.12" r="1.85"/><circle cx="1764.7" cy="852.92" r="1.85"/><circle cx="1765.37" cy="880.06" r="1.85"/><circle cx="1766.61" cy="840.5" r="1.85"/><circle cx="1767.31" cy="888.42" r="1.85"/><circle cx="1768.51" cy="928.38" r="1.85"/><circle cx="1769.25" cy="764.27" r="1.85"/><circle cx="1770.43" cy="901.24" r="1.85"/><circle cx="1771.19" cy="846.62" r="1.85"/><circle cx="1772.47" cy="919.46" r="1.85"/><circle cx="1773.13" cy="844.73" r="1.85"/><circle cx="1774.37" cy="935.67" r="1.85"/><circle cx="1775.07" cy="863.86" r="1.85"/><circle cx="1776.28" cy="860.54" r="1.85"/><circle cx="1777.01" cy="831.59" r="1.85"/><circle cx="1778.19" cy="829.63" r="1.85"/><circle cx="1778.95" cy="839.13" r="1.85"/><circle cx="1780.09" cy="835.59" r="1.85"/><circle cx="1780.9" cy="918.85" r="1.85"/><circle cx="1782.01" cy="786.16" r="1.85"/><circle cx="1782.52" cy="977.95" r="1.85"/><circle cx="1783.91" cy="941.11" r="1.85"/><circle cx="1784.78" cy="940.66" r="1.85"/><circle cx="1785.95" cy="846.62" r="1.85"/><circle cx="1786.72" cy="907.32" r="1.85"/><circle cx="1787.86" cy="866.92" r="1.85"/><circle cx="1788.66" cy="876.24" r="1.85"/><circle cx="1789.77" cy="927.2" r="1.85"/><circle cx="1790.61" cy="847.84" r="1.85"/><circle cx="1791.68" cy="955.11" r="1.85"/><circle cx="1792.06" cy="683.47" r="1.85"/><circle cx="1793.59" cy="865.11" r="1.85"/><circle cx="1794" cy="704.49" r="1.85"/><circle cx="1795.49" cy="851.26" r="1.85"/><circle cx="1796.1" cy="961.13" r="1.85"/><circle cx="1797.53" cy="924.59" r="1.85"/><circle cx="1798.21" cy="946.45" r="1.85"/><circle cx="1799.44" cy="892.23" r="1.85"/><circle cx="1799.99" cy="1038.99" r="1.85"/><circle cx="1801.35" cy="853.21" r="1.85"/><circle cx="1802.09" cy="889.15" r="1.85"/><circle cx="1803.26" cy="949.78" r="1.85"/><circle cx="1804.03" cy="865.77" r="1.85"/><circle cx="1805.17" cy="895.61" r="1.85"/><circle cx="1805.97" cy="795.26" r="1.85"/><circle cx="1807.07" cy="918.25" r="1.85"/><circle cx="1807.92" cy="853.72" r="1.85"/><circle cx="1809.11" cy="913.51" r="1.85"/><circle cx="1809.86" cy="861.9" r="1.85"/><circle cx="1811.02" cy="874.14" r="1.85"/><circle cx="1811.8" cy="855.61" r="1.85"/><circle cx="1813.41" cy="1058.38" r="1.85"/><circle cx="1814.84" cy="866.68" r="1.85"/><circle cx="1815.68" cy="839.48" r="1.85"/><circle cx="1816.74" cy="875.63" r="1.85"/><circle cx="1817.62" cy="841.52" r="1.85"/><circle cx="1818.78" cy="869.47" r="1.85"/><circle cx="1819.56" cy="922.93" r="1.85"/><circle cx="1820.7" cy="788.25" r="1.85"/><circle cx="1821.5" cy="920.78" r="1.85"/><circle cx="1822.6" cy="840.4" r="1.85"/><circle cx="1823.44" cy="904.18" r="1.85"/><circle cx="1824.51" cy="858.86" r="1.85"/><circle cx="1825.39" cy="890.96" r="1.85"/><circle cx="1826.42" cy="893.71" r="1.85"/><circle cx="1827.33" cy="755.59" r="1.85"/><circle cx="1828.32" cy="878.62" r="1.85"/><circle cx="1829.27" cy="847.83" r="1.85"/><circle cx="1830.23" cy="866.11" r="1.85"/><circle cx="1831.05" cy="812.32" r="1.85"/><circle cx="1832.28" cy="917.33" r="1.85"/><circle cx="1832.99" cy="950.52" r="1.85"/><circle cx="1834.18" cy="855.27" r="1.85"/><circle cx="1834.93" cy="895.72" r="1.85"/><circle cx="1836.09" cy="945.38" r="1.85"/><circle cx="1836.87" cy="839.01" r="1.85"/><circle cx="1838" cy="889.75" r="1.85"/><circle cx="1838.81" cy="869.3" r="1.85"/><circle cx="1839.9" cy="857.86" r="1.85"/><circle cx="1840.75" cy="865.94" r="1.85"/><circle cx="1841.95" cy="894.7" r="1.85"/><circle cx="1842.37" cy="1006.83" r="1.85"/><circle cx="1843.86" cy="925.64" r="1.85"/><circle cx="1844.64" cy="793.35" r="1.85"/><circle cx="1845.76" cy="878.11" r="1.85"/><circle cx="1846.58" cy="771.03" r="1.85"/><circle cx="1848.52" cy="821.77" r="1.85"/><circle cx="1849.71" cy="875.24" r="1.85"/><circle cx="1850.46" cy="825.23" r="1.85"/><circle cx="1851.62" cy="906.56" r="1.85"/><circle cx="1852.41" cy="884.37" r="1.85"/><circle cx="1853.53" cy="872.25" r="1.85"/><circle cx="1854.35" cy="794.68" r="1.85"/><circle cx="1854.89" cy="838.61" r="1.85"/><circle cx="1855.64" cy="997.76" r="1.85"/><circle cx="1856.53" cy="838.56" r="1.85"/><circle cx="1857.58" cy="873.66" r="1.85"/><circle cx="1859.38" cy="837.64" r="1.85"/><circle cx="1859.52" cy="956.26" r="1.85"/><circle cx="1861.29" cy="846.74" r="1.85"/><circle cx="1861.46" cy="896.52" r="1.85"/><circle cx="1863.2" cy="836.55" r="1.85"/><circle cx="1863.4" cy="935.94" r="1.85"/><circle cx="1865.11" cy="908.28" r="1.85"/><circle cx="1865.35" cy="845.45" r="1.85"/><circle cx="1867.01" cy="859.6" r="1.85"/><circle cx="1867.29" cy="824.44" r="1.85"/><circle cx="1868.92" cy="980.86" r="1.85"/><circle cx="1869.23" cy="762.78" r="1.85"/><circle cx="1870.97" cy="821.18" r="1.85"/><circle cx="1871.17" cy="884.58" r="1.85"/><circle cx="1872.87" cy="907.61" r="1.85"/><circle cx="1873.11" cy="1022.69" r="1.85"/><circle cx="1874.78" cy="918.78" r="1.85"/><circle cx="1874.89" cy="858.43" r="1.85"/><circle cx="1876.69" cy="790.37" r="1.85"/><circle cx="1876.83" cy="976.21" r="1.85"/><circle cx="1878.59" cy="830.79" r="1.85"/><circle cx="1878.77" cy="938" r="1.85"/><circle cx="1880.5" cy="847.99" r="1.85"/><circle cx="1880.71" cy="879.88" r="1.85"/><circle cx="1882.41" cy="829.45" r="1.85"/><circle cx="1882.66" cy="887.03" r="1.85"/><circle cx="1884.45" cy="904.94" r="1.85"/><circle cx="1884.6" cy="998.32" r="1.85"/><circle cx="1886.36" cy="955.18" r="1.85"/><circle cx="1886.54" cy="886.82" r="1.85"/><circle cx="1888.27" cy="818.06" r="1.85"/><circle cx="1888.48" cy="1004.36" r="1.85"/><circle cx="1890.17" cy="979.76" r="1.85"/><circle cx="1890.42" cy="1139.79" r="1.85"/><circle cx="1892.08" cy="928.15" r="1.85"/><circle cx="1892.36" cy="905.36" r="1.85"/><circle cx="1894.13" cy="879.7" r="1.85"/><circle cx="1894.3" cy="988.27" r="1.85"/><circle cx="1896.03" cy="1000.98" r="1.85"/><circle cx="1896.24" cy="904.91" r="1.85"/><circle cx="1897.94" cy="825.2" r="1.85"/><circle cx="1898.18" cy="793.85" r="1.85"/><circle cx="1899.85" cy="792.61" r="1.85"/><circle cx="1900.13" cy="864.02" r="1.85"/><circle cx="1901.75" cy="841.06" r="1.85"/><circle cx="1902.07" cy="774.18" r="1.85"/><circle cx="1903.8" cy="792.61" r="1.85"/><circle cx="1904.01" cy="896.87" r="1.85"/><circle cx="1905.71" cy="861.84" r="1.85"/><circle cx="1905.95" cy="833.61" r="1.85"/><circle cx="1907.61" cy="889.75" r="1.85"/><circle cx="1907.89" cy="855.3" r="1.85"/><circle cx="1909.52" cy="918.78" r="1.85"/><circle cx="1909.84" cy="961.45" r="1.85"/><circle cx="1911.43" cy="943.36" r="1.85"/><circle cx="1911.61" cy="725.23" r="1.85"/><circle cx="1913.47" cy="947.14" r="1.85"/><circle cx="1913.55" cy="719.43" r="1.85"/><circle cx="1915.38" cy="892.64" r="1.85"/><circle cx="1915.49" cy="828.25" r="1.85"/><circle cx="1917.28" cy="876.81" r="1.85"/><circle cx="1917.44" cy="905.59" r="1.85"/><circle cx="1919.19" cy="914.1" r="1.85"/><circle cx="1919.38" cy="750.94" r="1.85"/><circle cx="1921.1" cy="916.78" r="1.85"/><circle cx="1921.32" cy="798.76" r="1.85"/><circle cx="1923.01" cy="857.37" r="1.85"/><circle cx="1923.26" cy="813.73" r="1.85"/><circle cx="1924.91" cy="729.39" r="1.85"/><circle cx="1925.2" cy="955.65" r="1.85"/><circle cx="1926.82" cy="1015.27" r="1.85"/><circle cx="1927.15" cy="777.07" r="1.85"/><circle cx="1928.86" cy="854.01" r="1.85"/><circle cx="1929.09" cy="1072.3" r="1.85"/><circle cx="1930.77" cy="856.92" r="1.85"/><circle cx="1931.03" cy="875.18" r="1.85"/><circle cx="1932.68" cy="847.1" r="1.85"/><circle cx="1932.97" cy="895.09" r="1.85"/><circle cx="1934.58" cy="1004.11" r="1.85"/><circle cx="1934.91" cy="849.05" r="1.85"/><circle cx="1936.49" cy="782.99" r="1.85"/><circle cx="1936.85" cy="906.04" r="1.85"/><circle cx="1938.4" cy="816.27" r="1.85"/><circle cx="1938.79" cy="1075.87" r="1.85"/><circle cx="1940.44" cy="925.92" r="1.85"/><circle cx="1940.73" cy="880.78" r="1.85"/><circle cx="1942.35" cy="866.07" r="1.85"/><circle cx="1942.51" cy="1003.92" r="1.85"/><circle cx="1944.26" cy="833.03" r="1.85"/><circle cx="1944.62" cy="860" r="1.85"/><circle cx="1946.16" cy="801.54" r="1.85"/><circle cx="1946.56" cy="882.56" r="1.85"/><circle cx="1948.07" cy="903.83" r="1.85"/><circle cx="1948.5" cy="803.91" r="1.85"/><circle cx="1949.98" cy="839.28" r="1.85"/><circle cx="1950.44" cy="924.35" r="1.85"/><circle cx="1952.02" cy="912.08" r="1.85"/><circle cx="1952.38" cy="904.7" r="1.85"/><circle cx="1953.93" cy="971.04" r="1.85"/><circle cx="1954.16" cy="1009.96" r="1.85"/><circle cx="1955.84" cy="941.57" r="1.85"/><circle cx="1956.26" cy="909.17" r="1.85"/><circle cx="1957.74" cy="937.11" r="1.85"/><circle cx="1958.04" cy="805.01" r="1.85"/><circle cx="1959.65" cy="900.68" r="1.85"/><circle cx="1959.98" cy="977.55" r="1.85"/><circle cx="1961.56" cy="907.17" r="1.85"/><circle cx="1961.92" cy="918.99" r="1.85"/><circle cx="1963.47" cy="820.08" r="1.85"/><circle cx="1963.87" cy="842.78" r="1.85"/><circle cx="1965.38" cy="929.28" r="1.85"/><circle cx="1965.81" cy="892.62" r="1.85"/><circle cx="1967.28" cy="830.11" r="1.85"/><circle cx="1967.75" cy="861.55" r="1.85"/><circle cx="1969.19" cy="936.66" r="1.85"/><circle cx="1969.69" cy="887.26" r="1.85"/><circle cx="1971.1" cy="809.78" r="1.85"/><circle cx="1971.64" cy="935.3" r="1.85"/><circle cx="1973.14" cy="895.32" r="1.85"/><circle cx="1973.58" cy="909.61" r="1.85"/><circle cx="1975.05" cy="803.09" r="1.85"/><circle cx="1975.52" cy="954.07" r="1.85"/><circle cx="1976.96" cy="789.24" r="1.85"/><circle cx="1977.46" cy="885.69" r="1.85"/><circle cx="1978.86" cy="815.38" r="1.85"/><circle cx="1979.4" cy="888.16" r="1.85"/><circle cx="1980.77" cy="914.99" r="1.85"/><circle cx="1981.18" cy="963.03" r="1.85"/><circle cx="1982.81" cy="910.29" r="1.85"/><circle cx="1983.12" cy="1083.25" r="1.85"/><circle cx="1984.72" cy="853.56" r="1.85"/><circle cx="1985.06" cy="853.28" r="1.85"/><circle cx="1986.63" cy="840.62" r="1.85"/><circle cx="1987" cy="830.93" r="1.85"/><circle cx="1988.53" cy="876.36" r="1.85"/><circle cx="1988.94" cy="832.27" r="1.85"/><circle cx="1990.44" cy="842.85" r="1.85"/><circle cx="1990.89" cy="821.11" r="1.85"/><circle cx="1992.49" cy="866.51" r="1.85"/><circle cx="1992.83" cy="906.49" r="1.85"/><circle cx="1994.39" cy="896.66" r="1.85"/><circle cx="1994.77" cy="881.91" r="1.85"/><circle cx="1996.3" cy="981.31" r="1.85"/><circle cx="1996.71" cy="804.12" r="1.85"/><circle cx="1998.21" cy="786.12" r="1.85"/><circle cx="1998.65" cy="732.82" r="1.85"/><circle cx="2000.11" cy="849.33" r="1.85"/><circle cx="2000.59" cy="861.11" r="1.85"/><circle cx="2002.16" cy="835.47" r="1.85"/><circle cx="2002.37" cy="1049.3" r="1.85"/><circle cx="2004.07" cy="934.64" r="1.85"/><circle cx="2004.47" cy="806.59" r="1.85"/><circle cx="2005.97" cy="875.68" r="1.85"/><circle cx="2006.41" cy="796.08" r="1.85"/><circle cx="2007.88" cy="891.54" r="1.85"/><circle cx="2008.36" cy="932.41" r="1.85"/><circle cx="2009.65" cy="756.2" r="1.85"/><circle cx="2010.3" cy="837.66" r="1.85"/><circle cx="2011.83" cy="843.74" r="1.85"/><circle cx="2012.08" cy="747.13" r="1.85"/><circle cx="2013.74" cy="892.88" r="1.85"/><circle cx="2014.18" cy="865.57" r="1.85"/><circle cx="2015.65" cy="927.5" r="1.85"/><circle cx="2016.12" cy="895.98" r="1.85"/><circle cx="2017.55" cy="797.07" r="1.85"/><circle cx="2018.06" cy="894.64" r="1.85"/><circle cx="2019.46" cy="864.73" r="1.85"/><circle cx="2020" cy="866.7" r="1.85"/><circle cx="2021.37" cy="831.45" r="1.85"/><circle cx="2021.94" cy="918.54" r="1.85"/><circle cx="2023.27" cy="761.56" r="1.85"/><circle cx="2023.88" cy="872.74" r="1.85"/><circle cx="2025.32" cy="981.31" r="1.85"/><circle cx="2025.83" cy="817.75" r="1.85"/><circle cx="2027.23" cy="925.03" r="1.85"/><circle cx="2027.61" cy="908.72" r="1.85"/><circle cx="2029.27" cy="923.03" r="1.85"/><circle cx="2029.55" cy="930.83" r="1.85"/><circle cx="2031.17" cy="933.75" r="1.85"/><circle cx="2031.49" cy="887.03" r="1.85"/><circle cx="2033.08" cy="935.53" r="1.85"/><circle cx="2033.43" cy="903.57" r="1.85"/><circle cx="2034.99" cy="872.79" r="1.85"/><circle cx="2035.37" cy="848.61" r="1.85"/><circle cx="2036.9" cy="1010.36" r="1.85"/><circle cx="2037.31" cy="876.97" r="1.85"/><circle cx="2038.8" cy="894.22" r="1.85"/><circle cx="2039.25" cy="906.04" r="1.85"/><circle cx="2040.71" cy="820.97" r="1.85"/><circle cx="2041.2" cy="851.05" r="1.85"/><circle cx="2042.62" cy="826.09" r="1.85"/><circle cx="2044.66" cy="804.43" r="1.85"/><circle cx="2045.08" cy="888.37" r="1.85"/><circle cx="2046.57" cy="874.57" r="1.85"/><circle cx="2047.02" cy="849.71" r="1.85"/><circle cx="2048.48" cy="955.86" r="1.85"/><circle cx="2048.96" cy="795.85" r="1.85"/><circle cx="2050.38" cy="917.23" r="1.85"/><circle cx="2050.9" cy="879.2" r="1.85"/><circle cx="2052.29" cy="900.02" r="1.85"/><circle cx="2052.85" cy="829.83" r="1.85"/><circle cx="2054.34" cy="824.99" r="1.85"/><circle cx="2054.79" cy="870.06" r="1.85"/><circle cx="2056.24" cy="874.13" r="1.85"/><circle cx="2056.73" cy="934.19" r="1.85"/><circle cx="2058.15" cy="924.13" r="1.85"/><circle cx="2058.67" cy="884.14" r="1.85"/><circle cx="2060.06" cy="838.15" r="1.85"/><circle cx="2060.61" cy="861.11" r="1.85"/><circle cx="2061.96" cy="1005.66" r="1.85"/><circle cx="2062.55" cy="875.63" r="1.85"/><circle cx="2063.87" cy="949.37" r="1.85"/><circle cx="2064.49" cy="967.94" r="1.85"/><circle cx="2065.78" cy="903.6" r="1.85"/><circle cx="2066.43" cy="872.74" r="1.85"/><circle cx="2067.82" cy="806" r="1.85"/><circle cx="2068.37" cy="914.76" r="1.85"/><circle cx="2069.73" cy="965.68" r="1.85"/><circle cx="2070.32" cy="809.92" r="1.85"/><circle cx="2071.64" cy="777.4" r="1.85"/><circle cx="2072.26" cy="928.15" r="1.85"/><circle cx="2073.54" cy="923.24" r="1.85"/><circle cx="2074.2" cy="904.47" r="1.85"/><circle cx="2075.45" cy="979.97" r="1.85"/><circle cx="2075.98" cy="854.86" r="1.85"/><circle cx="2077.36" cy="885.95" r="1.85"/><circle cx="2077.92" cy="929.73" r="1.85"/><circle cx="2079.4" cy="944.02" r="1.85"/><circle cx="2079.86" cy="949.61" r="1.85"/><circle cx="2081.31" cy="857.14" r="1.85"/><circle cx="2081.8" cy="945.59" r="1.85"/><circle cx="2083.22" cy="929.05" r="1.85"/><circle cx="2083.74" cy="840.55" r="1.85"/><circle cx="2085.12" cy="852.46" r="1.85"/><circle cx="2085.68" cy="912.5" r="1.85"/><circle cx="2087.03" cy="757.1" r="1.85"/><circle cx="2087.63" cy="857.75" r="1.85"/><circle cx="2089.07" cy="831.45" r="1.85"/><circle cx="2089.57" cy="824.45" r="1.85"/><circle cx="2090.98" cy="922.8" r="1.85"/><circle cx="2091.51" cy="928.6" r="1.85"/><circle cx="2092.89" cy="896.9" r="1.85"/><circle cx="2093.45" cy="894.41" r="1.85"/><circle cx="2094.79" cy="926.6" r="1.85"/><circle cx="2095.39" cy="885.24" r="1.85"/><circle cx="2096.7" cy="912.53" r="1.85"/><circle cx="2097.34" cy="876.31" r="1.85"/><circle cx="2098.61" cy="934.64" r="1.85"/><circle cx="2099.28" cy="871.4" r="1.85"/><circle cx="2100.52" cy="954.97" r="1.85"/><circle cx="2101.22" cy="878.54" r="1.85"/><circle cx="2102.56" cy="850.23" r="1.85"/><circle cx="2103.16" cy="828.94" r="1.85"/><circle cx="2104.47" cy="926.6" r="1.85"/><circle cx="2105.1" cy="890.84" r="1.85"/><circle cx="2106.37" cy="920.35" r="1.85"/><circle cx="2106.88" cy="1007.72" r="1.85"/><circle cx="2108.28" cy="923.48" r="1.85"/><circle cx="2108.98" cy="807.48" r="1.85"/><circle cx="2110.19" cy="913.65" r="1.85"/><circle cx="2110.92" cy="828.94" r="1.85"/><circle cx="2112.1" cy="893.98" r="1.85"/><circle cx="2112.86" cy="822.66" r="1.85"/><circle cx="2114.01" cy="934.64" r="1.85"/><circle cx="2114.81" cy="819.09" r="1.85"/><circle cx="2115.91" cy="861.15" r="1.85"/><circle cx="2116.75" cy="912.06" r="1.85"/><circle cx="2117.82" cy="833.92" r="1.85"/><circle cx="2118.69" cy="874.29" r="1.85"/><circle cx="2119.86" cy="873.45" r="1.85"/><circle cx="2120.63" cy="884.58" r="1.85"/><circle cx="2121.77" cy="904.72" r="1.85"/><circle cx="2122.25" cy="673.15" r="1.85"/><circle cx="2123.68" cy="826.99" r="1.85"/><circle cx="2124.35" cy="810.16" r="1.85"/><circle cx="2125.59" cy="814.27" r="1.85"/><circle cx="2126.29" cy="919.44" r="1.85"/><circle cx="2127.49" cy="898.68" r="1.85"/><circle cx="2128.23" cy="898.43" r="1.85"/><circle cx="2129.53" cy="876.36" r="1.85"/><circle cx="2130.17" cy="912.74" r="1.85"/><circle cx="2131.44" cy="778.08" r="1.85"/><circle cx="2132.12" cy="922.11" r="1.85"/><circle cx="2133.35" cy="866.51" r="1.85"/><circle cx="2134.06" cy="917.88" r="1.85"/><circle cx="2135.26" cy="936.21" r="1.85"/><circle cx="2136" cy="951.39" r="1.85"/><circle cx="2137.17" cy="838.59" r="1.85"/><circle cx="2137.94" cy="878.1" r="1.85"/><circle cx="2139.21" cy="975.51" r="1.85"/><circle cx="2139.88" cy="908.72" r="1.85"/><circle cx="2141.11" cy="837.04" r="1.85"/><circle cx="2141.82" cy="895.54" r="1.85"/><circle cx="2143.02" cy="848.21" r="1.85"/><circle cx="2143.76" cy="831.38" r="1.85"/><circle cx="2144.93" cy="849.55" r="1.85"/><circle cx="2145.7" cy="849.71" r="1.85"/><circle cx="2146.84" cy="835.7" r="1.85"/><circle cx="2147.64" cy="833.85" r="1.85"/><circle cx="2148.74" cy="931.28" r="1.85"/><circle cx="2149.59" cy="897.53" r="1.85"/><circle cx="2150.79" cy="833.68" r="1.85"/><circle cx="2151.53" cy="830.04" r="1.85"/><circle cx="2152.7" cy="939.1" r="1.85"/><circle cx="2153.47" cy="852.39" r="1.85"/><circle cx="2154.6" cy="818.5" r="1.85"/><circle cx="2155.41" cy="952.29" r="1.85"/><circle cx="2156.51" cy="841.06" r="1.85"/><circle cx="2157.35" cy="892.41" r="1.85"/><circle cx="2158.42" cy="884.16" r="1.85"/><circle cx="2159.3" cy="872.74" r="1.85"/><circle cx="2160.32" cy="909.4" r="1.85"/><circle cx="2161.24" cy="897.32" r="1.85"/><circle cx="2162.37" cy="813.83" r="1.85"/><circle cx="2163.18" cy="875.87" r="1.85"/><circle cx="2164.28" cy="850.89" r="1.85"/><circle cx="2165.12" cy="916.54" r="1.85"/><circle cx="2166.18" cy="877.91" r="1.85"/><circle cx="2167.06" cy="909.17" r="1.85"/><circle cx="2168.09" cy="824.31" r="1.85"/><circle cx="2169" cy="834.74" r="1.85"/><circle cx="2170" cy="803.53" r="1.85"/><circle cx="2170.94" cy="949.61" r="1.85"/><circle cx="2172.04" cy="879.25" r="1.85"/><circle cx="2172.72" cy="821.56" r="1.85"/><circle cx="2173.95" cy="892.43" r="1.85"/><circle cx="2174.66" cy="864.68" r="1.85"/><circle cx="2175.86" cy="938.89" r="1.85"/><circle cx="2176.61" cy="897.53" r="1.85"/><circle cx="2177.76" cy="943.8" r="1.85"/><circle cx="2178.55" cy="874.53" r="1.85"/><circle cx="2179.67" cy="856.48" r="1.85"/><circle cx="2180.49" cy="806.8" r="1.85"/><circle cx="2181.71" cy="876.36" r="1.85"/><circle cx="2182.43" cy="814.18" r="1.85"/><circle cx="2183.62" cy="909.4" r="1.85"/><circle cx="2184.37" cy="910.5" r="1.85"/><circle cx="2185.53" cy="915.44" r="1.85"/><circle cx="2186.31" cy="956.1" r="1.85"/><circle cx="2187.44" cy="868.53" r="1.85"/><circle cx="2188.25" cy="870.51" r="1.85"/><circle cx="2189.34" cy="814.27" r="1.85"/><circle cx="2190.19" cy="918.54" r="1.85"/><circle cx="2191.25" cy="791.92" r="1.85"/><circle cx="2192.13" cy="844.56" r="1.85"/><circle cx="2193.29" cy="907.85" r="1.85"/><circle cx="2195.2" cy="872.34" r="1.85"/><circle cx="2197.11" cy="841.96" r="1.85"/><circle cx="2199.02" cy="891.75" r="1.85"/><circle cx="2200.92" cy="837.94" r="1.85"/><circle cx="2202.97" cy="847.76" r="1.85"/><circle cx="2204.87" cy="879.25" r="1.85"/><circle cx="2206.78" cy="922.35" r="1.85"/><circle cx="2208.69" cy="834.81" r="1.85"/><circle cx="2210.59" cy="801.54" r="1.85"/><circle cx="2212.64" cy="793.94" r="1.85"/></g>
</g>
<g clip-path="url(#cRT)">
<path d="M1202.54 334.08V364.8M1233.25 328.31V359.31M1265.35 342.66V373.1M1297.9 360.55V390.71M1329.58 340.57V371.57M1360.57 367.04V397.47M1392.54 358.16V388.03M1425.78 365.63V386.76M1456.77 374.08V395.78M1487.74 406.61V428.03M1519.14 408.58V429.72M1550.85 403.09V423.94M1582.4 409.15V430.57M1613.23 406.47V427.61M1644.5 405.06V426.2M1675.77 405.06V426.2M1706.76 422.68V443.81M1737.75 425.92V447.62M1770.43 399.14V420.28M1801.4 398.01V419.15M1832.81 369.57V390.43M1864.5 353.37V374.22M1895.9 371.69V392.82M1926.9 347.59V368.73M1958.3 367.74V388.88M1990.13 347.31V368.45M2021.4 351.96V373.1M2052.81 355.2V376.05M2084.36 367.6V388.46" stroke="#000" stroke-width="3.1" fill="none"/>
<g fill="#000"><circle cx="1202.54" cy="349.44" r="5.6"/><circle cx="1233.25" cy="343.81" r="5.6"/><circle cx="1265.35" cy="357.88" r="5.6"/><circle cx="1297.9" cy="375.63" r="5.6"/><circle cx="1329.58" cy="356.07" r="5.6"/><circle cx="1360.57" cy="382.26" r="5.6"/><circle cx="1392.54" cy="373.1" r="5.6"/><circle cx="1425.78" cy="376.2" r="5.6"/><circle cx="1456.77" cy="384.93" r="5.6"/><circle cx="1487.74" cy="417.32" r="5.6"/><circle cx="1519.14" cy="419.15" r="5.6"/><circle cx="1550.85" cy="413.52" r="5.6"/><circle cx="1582.4" cy="419.86" r="5.6"/><circle cx="1613.23" cy="417.04" r="5.6"/><circle cx="1644.5" cy="415.63" r="5.6"/><circle cx="1675.77" cy="415.63" r="5.6"/><circle cx="1706.76" cy="433.24" r="5.6"/><circle cx="1737.75" cy="436.77" r="5.6"/><circle cx="1770.43" cy="409.71" r="5.6"/><circle cx="1801.4" cy="408.58" r="5.6"/><circle cx="1832.81" cy="380" r="5.6"/><circle cx="1864.5" cy="363.79" r="5.6"/><circle cx="1895.9" cy="382.26" r="5.6"/><circle cx="1926.9" cy="358.16" r="5.6"/><circle cx="1958.3" cy="378.31" r="5.6"/><circle cx="1990.13" cy="357.88" r="5.6"/><circle cx="2021.4" cy="362.53" r="5.6"/><circle cx="2052.81" cy="365.63" r="5.6"/><circle cx="2084.36" cy="378.03" r="5.6"/></g>
</g>
<path d="M1182.5 881.6H2109" stroke="#000" stroke-width="2.9" stroke-dasharray="10.7 4.64" fill="none"/>
<g clip-path="url(#cRB)">
<path d="M1202.54 849.33V880.07M1233.25 843.56V874.58M1265.35 857.92V888.38M1297.9 875.81V905.98M1329.58 855.81V886.83M1360.57 882.29V912.74M1392.54 873.41V903.31M1425.78 880.88V902.03M1456.77 864.12V885.84M1487.74 882.43V903.87M1519.14 877.64V898.79M1550.85 867.36V888.23M1582.4 871.17V892.6M1613.23 866.8V887.95M1644.5 864.83V885.98M1675.77 865.11V886.26M1706.76 884.12V905.27M1737.75 890.18V911.89M1770.43 867.5V888.65M1801.4 872.43V893.58M1832.81 857.79V878.65M1864.5 868.63V889.5M1895.9 886.8V907.95M1926.9 862.72V883.87M1958.3 883.14V904.29M1990.13 862.72V883.87M2021.4 867.22V888.37M2052.81 870.46V891.33M2084.36 882.86V903.73" stroke="#000" stroke-width="3.1" fill="none"/>
<g fill="#000"><circle cx="1202.54" cy="864.7" r="5.6"/><circle cx="1233.25" cy="859.07" r="5.6"/><circle cx="1265.35" cy="873.15" r="5.6"/><circle cx="1297.9" cy="890.9" r="5.6"/><circle cx="1329.58" cy="871.32" r="5.6"/><circle cx="1360.57" cy="897.52" r="5.6"/><circle cx="1392.54" cy="888.36" r="5.6"/><circle cx="1425.78" cy="891.46" r="5.6"/><circle cx="1456.77" cy="874.98" r="5.6"/><circle cx="1487.74" cy="893.15" r="5.6"/><circle cx="1519.14" cy="888.22" r="5.6"/><circle cx="1550.85" cy="877.8" r="5.6"/><circle cx="1582.4" cy="881.88" r="5.6"/><circle cx="1613.23" cy="877.37" r="5.6"/><circle cx="1644.5" cy="875.4" r="5.6"/><circle cx="1675.77" cy="875.69" r="5.6"/><circle cx="1706.76" cy="894.7" r="5.6"/><circle cx="1737.75" cy="901.04" r="5.6"/><circle cx="1770.43" cy="878.08" r="5.6"/><circle cx="1801.4" cy="883.01" r="5.6"/><circle cx="1832.81" cy="868.22" r="5.6"/><circle cx="1864.5" cy="879.06" r="5.6"/><circle cx="1895.9" cy="897.38" r="5.6"/><circle cx="1926.9" cy="873.29" r="5.6"/><circle cx="1958.3" cy="893.71" r="5.6"/><circle cx="1990.13" cy="873.29" r="5.6"/><circle cx="2021.4" cy="877.8" r="5.6"/><circle cx="2052.81" cy="880.89" r="5.6"/><circle cx="2084.36" cy="893.29" r="5.6"/></g>
</g>
<path d="M232.69 454.7v-9.6M232.69 10.1v9.6M347.64 454.7v-9.6M347.64 10.1v9.6M462.58 454.7v-9.6M462.58 10.1v9.6M577.52 454.7v-9.6M577.52 10.1v9.6M692.47 454.7v-9.6M692.47 10.1v9.6M807.41 454.7v-9.6M807.41 10.1v9.6M922.36 454.7v-9.6M922.36 10.1v9.6M117.75 380.6h9.6M1037.3 380.6h-9.6M117.75 306.5h9.6M1037.3 306.5h-9.6M117.75 232.4h9.6M1037.3 232.4h-9.6M117.75 158.3h9.6M1037.3 158.3h-9.6M117.75 84.2h9.6M1037.3 84.2h-9.6" stroke="#000" stroke-width="1.6" fill="none"/>
<path d="M146.49 454.7v-5.8M146.49 10.1v5.8M175.22 454.7v-5.8M175.22 10.1v5.8M203.96 454.7v-5.8M203.96 10.1v5.8M261.43 454.7v-5.8M261.43 10.1v5.8M290.17 454.7v-5.8M290.17 10.1v5.8M318.9 454.7v-5.8M318.9 10.1v5.8M376.37 454.7v-5.8M376.37 10.1v5.8M405.11 454.7v-5.8M405.11 10.1v5.8M433.85 454.7v-5.8M433.85 10.1v5.8M491.32 454.7v-5.8M491.32 10.1v5.8M520.05 454.7v-5.8M520.05 10.1v5.8M548.79 454.7v-5.8M548.79 10.1v5.8M606.26 454.7v-5.8M606.26 10.1v5.8M635 454.7v-5.8M635 10.1v5.8M663.73 454.7v-5.8M663.73 10.1v5.8M721.2 454.7v-5.8M721.2 10.1v5.8M749.94 454.7v-5.8M749.94 10.1v5.8M778.68 454.7v-5.8M778.68 10.1v5.8M836.15 454.7v-5.8M836.15 10.1v5.8M864.88 454.7v-5.8M864.88 10.1v5.8M893.62 454.7v-5.8M893.62 10.1v5.8M951.09 454.7v-5.8M951.09 10.1v5.8M979.83 454.7v-5.8M979.83 10.1v5.8M1008.56 454.7v-5.8M1008.56 10.1v5.8M117.75 439.88h5.8M1037.3 439.88h-5.8M117.75 425.06h5.8M1037.3 425.06h-5.8M117.75 410.24h5.8M1037.3 410.24h-5.8M117.75 395.42h5.8M1037.3 395.42h-5.8M117.75 365.78h5.8M1037.3 365.78h-5.8M117.75 350.96h5.8M1037.3 350.96h-5.8M117.75 336.14h5.8M1037.3 336.14h-5.8M117.75 321.32h5.8M1037.3 321.32h-5.8M117.75 291.68h5.8M1037.3 291.68h-5.8M117.75 276.86h5.8M1037.3 276.86h-5.8M117.75 262.04h5.8M1037.3 262.04h-5.8M117.75 247.22h5.8M1037.3 247.22h-5.8M117.75 217.58h5.8M1037.3 217.58h-5.8M117.75 202.76h5.8M1037.3 202.76h-5.8M117.75 187.94h5.8M1037.3 187.94h-5.8M117.75 173.12h5.8M1037.3 173.12h-5.8M117.75 143.48h5.8M1037.3 143.48h-5.8M117.75 128.66h5.8M1037.3 128.66h-5.8M117.75 113.84h5.8M1037.3 113.84h-5.8M117.75 99.02h5.8M1037.3 99.02h-5.8M117.75 69.38h5.8M1037.3 69.38h-5.8M117.75 54.56h5.8M1037.3 54.56h-5.8M117.75 39.74h5.8M1037.3 39.74h-5.8M117.75 24.92h5.8M1037.3 24.92h-5.8" stroke="#000" stroke-width="1.25" fill="none"/>
<rect x="117.75" y="10.1" width="919.55" height="444.6" fill="none" stroke="#000" stroke-width="1.67"/>
<text x="117.75" y="481.9" text-anchor="middle">0.66</text>
<text x="232.69" y="481.9" text-anchor="middle">0.68</text>
<text x="347.64" y="481.9" text-anchor="middle">0.70</text>
<text x="462.58" y="481.9" text-anchor="middle">0.72</text>
<text x="577.52" y="481.9" text-anchor="middle">0.74</text>
<text x="692.47" y="481.9" text-anchor="middle">0.76</text>
<text x="807.41" y="481.9" text-anchor="middle">0.78</text>
<text x="922.36" y="481.9" text-anchor="middle">0.80</text>
<text x="1037.3" y="481.9" text-anchor="middle">0.82</text>
<text x="111.05" y="465.3" text-anchor="end">0.985</text>
<text x="111.05" y="391.2" text-anchor="end">0.990</text>
<text x="111.05" y="317.1" text-anchor="end">0.995</text>
<text x="111.05" y="243" text-anchor="end">1.000</text>
<text x="111.05" y="168.9" text-anchor="end">1.005</text>
<text x="111.05" y="94.8" text-anchor="end">1.010</text>
<text x="111.05" y="20.7" text-anchor="end">1.015</text>
<path d="M166.15 998.9v-9.6M166.15 554.6v9.6M262.94 998.9v-9.6M262.94 554.6v9.6M359.74 998.9v-9.6M359.74 554.6v9.6M456.53 998.9v-9.6M456.53 554.6v9.6M553.33 998.9v-9.6M553.33 554.6v9.6M650.12 998.9v-9.6M650.12 554.6v9.6M746.92 998.9v-9.6M746.92 554.6v9.6M843.71 998.9v-9.6M843.71 554.6v9.6M940.51 998.9v-9.6M940.51 554.6v9.6M117.75 924.85h9.6M1037.3 924.85h-9.6M117.75 850.8h9.6M1037.3 850.8h-9.6M117.75 776.75h9.6M1037.3 776.75h-9.6M117.75 702.7h9.6M1037.3 702.7h-9.6M117.75 628.65h9.6M1037.3 628.65h-9.6" stroke="#000" stroke-width="1.6" fill="none"/>
<path d="M141.95 998.9v-5.8M141.95 554.6v5.8M190.35 998.9v-5.8M190.35 554.6v5.8M214.54 998.9v-5.8M214.54 554.6v5.8M238.74 998.9v-5.8M238.74 554.6v5.8M287.14 998.9v-5.8M287.14 554.6v5.8M311.34 998.9v-5.8M311.34 554.6v5.8M335.54 998.9v-5.8M335.54 554.6v5.8M383.94 998.9v-5.8M383.94 554.6v5.8M408.13 998.9v-5.8M408.13 554.6v5.8M432.33 998.9v-5.8M432.33 554.6v5.8M480.73 998.9v-5.8M480.73 554.6v5.8M504.93 998.9v-5.8M504.93 554.6v5.8M529.13 998.9v-5.8M529.13 554.6v5.8M577.53 998.9v-5.8M577.53 554.6v5.8M601.72 998.9v-5.8M601.72 554.6v5.8M625.92 998.9v-5.8M625.92 554.6v5.8M674.32 998.9v-5.8M674.32 554.6v5.8M698.52 998.9v-5.8M698.52 554.6v5.8M722.72 998.9v-5.8M722.72 554.6v5.8M771.11 998.9v-5.8M771.11 554.6v5.8M795.31 998.9v-5.8M795.31 554.6v5.8M819.51 998.9v-5.8M819.51 554.6v5.8M867.91 998.9v-5.8M867.91 554.6v5.8M892.11 998.9v-5.8M892.11 554.6v5.8M916.31 998.9v-5.8M916.31 554.6v5.8M964.7 998.9v-5.8M964.7 554.6v5.8M988.9 998.9v-5.8M988.9 554.6v5.8M1013.1 998.9v-5.8M1013.1 554.6v5.8M117.75 984.09h5.8M1037.3 984.09h-5.8M117.75 969.28h5.8M1037.3 969.28h-5.8M117.75 954.47h5.8M1037.3 954.47h-5.8M117.75 939.66h5.8M1037.3 939.66h-5.8M117.75 910.04h5.8M1037.3 910.04h-5.8M117.75 895.23h5.8M1037.3 895.23h-5.8M117.75 880.42h5.8M1037.3 880.42h-5.8M117.75 865.61h5.8M1037.3 865.61h-5.8M117.75 835.99h5.8M1037.3 835.99h-5.8M117.75 821.18h5.8M1037.3 821.18h-5.8M117.75 806.37h5.8M1037.3 806.37h-5.8M117.75 791.56h5.8M1037.3 791.56h-5.8M117.75 761.94h5.8M1037.3 761.94h-5.8M117.75 747.13h5.8M1037.3 747.13h-5.8M117.75 732.32h5.8M1037.3 732.32h-5.8M117.75 717.51h5.8M1037.3 717.51h-5.8M117.75 687.89h5.8M1037.3 687.89h-5.8M117.75 673.08h5.8M1037.3 673.08h-5.8M117.75 658.27h5.8M1037.3 658.27h-5.8M117.75 643.46h5.8M1037.3 643.46h-5.8M117.75 613.84h5.8M1037.3 613.84h-5.8M117.75 599.03h5.8M1037.3 599.03h-5.8M117.75 584.22h5.8M1037.3 584.22h-5.8M117.75 569.41h5.8M1037.3 569.41h-5.8" stroke="#000" stroke-width="1.25" fill="none"/>
<rect x="117.75" y="554.6" width="919.55" height="444.3" fill="none" stroke="#000" stroke-width="1.67"/>
<text x="166.15" y="1026.1" text-anchor="middle">0.74</text>
<text x="262.94" y="1026.1" text-anchor="middle">0.76</text>
<text x="359.74" y="1026.1" text-anchor="middle">0.78</text>
<text x="456.53" y="1026.1" text-anchor="middle">0.80</text>
<text x="553.33" y="1026.1" text-anchor="middle">0.82</text>
<text x="650.12" y="1026.1" text-anchor="middle">0.84</text>
<text x="746.92" y="1026.1" text-anchor="middle">0.86</text>
<text x="843.71" y="1026.1" text-anchor="middle">0.88</text>
<text x="940.51" y="1026.1" text-anchor="middle">0.90</text>
<text x="1037.3" y="1026.1" text-anchor="middle">0.92</text>
<text x="111.05" y="1009.5" text-anchor="end">0.985</text>
<text x="111.05" y="935.45" text-anchor="end">0.990</text>
<text x="111.05" y="861.4" text-anchor="end">0.995</text>
<text x="111.05" y="787.35" text-anchor="end">1.000</text>
<text x="111.05" y="713.3" text-anchor="end">1.005</text>
<text x="111.05" y="639.25" text-anchor="end">1.010</text>
<text x="111.05" y="565.2" text-anchor="end">1.015</text>
<path d="M1298.31 716.4v-9.6M1298.31 11.8v9.6M1414.12 716.4v-9.6M1414.12 11.8v9.6M1529.94 716.4v-9.6M1529.94 11.8v9.6M1645.75 716.4v-9.6M1645.75 11.8v9.6M1761.56 716.4v-9.6M1761.56 11.8v9.6M1877.38 716.4v-9.6M1877.38 11.8v9.6M1993.19 716.4v-9.6M1993.19 11.8v9.6M1182.5 598.97h9.6M2109 598.97h-9.6M1182.5 481.53h9.6M2109 481.53h-9.6M1182.5 364.1h9.6M2109 364.1h-9.6M1182.5 246.67h9.6M2109 246.67h-9.6M1182.5 129.23h9.6M2109 129.23h-9.6" stroke="#000" stroke-width="1.6" fill="none"/>
<path d="M1205.66 716.4v-5.8M1205.66 11.8v5.8M1228.83 716.4v-5.8M1228.83 11.8v5.8M1251.99 716.4v-5.8M1251.99 11.8v5.8M1275.15 716.4v-5.8M1275.15 11.8v5.8M1321.47 716.4v-5.8M1321.47 11.8v5.8M1344.64 716.4v-5.8M1344.64 11.8v5.8M1367.8 716.4v-5.8M1367.8 11.8v5.8M1390.96 716.4v-5.8M1390.96 11.8v5.8M1437.29 716.4v-5.8M1437.29 11.8v5.8M1460.45 716.4v-5.8M1460.45 11.8v5.8M1483.61 716.4v-5.8M1483.61 11.8v5.8M1506.78 716.4v-5.8M1506.78 11.8v5.8M1553.1 716.4v-5.8M1553.1 11.8v5.8M1576.26 716.4v-5.8M1576.26 11.8v5.8M1599.42 716.4v-5.8M1599.42 11.8v5.8M1622.59 716.4v-5.8M1622.59 11.8v5.8M1668.91 716.4v-5.8M1668.91 11.8v5.8M1692.08 716.4v-5.8M1692.08 11.8v5.8M1715.24 716.4v-5.8M1715.24 11.8v5.8M1738.4 716.4v-5.8M1738.4 11.8v5.8M1784.72 716.4v-5.8M1784.72 11.8v5.8M1807.89 716.4v-5.8M1807.89 11.8v5.8M1831.05 716.4v-5.8M1831.05 11.8v5.8M1854.21 716.4v-5.8M1854.21 11.8v5.8M1900.54 716.4v-5.8M1900.54 11.8v5.8M1923.7 716.4v-5.8M1923.7 11.8v5.8M1946.86 716.4v-5.8M1946.86 11.8v5.8M1970.03 716.4v-5.8M1970.03 11.8v5.8M2016.35 716.4v-5.8M2016.35 11.8v5.8M2039.51 716.4v-5.8M2039.51 11.8v5.8M2062.68 716.4v-5.8M2062.68 11.8v5.8M2085.84 716.4v-5.8M2085.84 11.8v5.8M1182.5 692.91h5.8M2109 692.91h-5.8M1182.5 669.43h5.8M2109 669.43h-5.8M1182.5 645.94h5.8M2109 645.94h-5.8M1182.5 622.45h5.8M2109 622.45h-5.8M1182.5 575.48h5.8M2109 575.48h-5.8M1182.5 551.99h5.8M2109 551.99h-5.8M1182.5 528.51h5.8M2109 528.51h-5.8M1182.5 505.02h5.8M2109 505.02h-5.8M1182.5 458.05h5.8M2109 458.05h-5.8M1182.5 434.56h5.8M2109 434.56h-5.8M1182.5 411.07h5.8M2109 411.07h-5.8M1182.5 387.59h5.8M2109 387.59h-5.8M1182.5 340.61h5.8M2109 340.61h-5.8M1182.5 317.13h5.8M2109 317.13h-5.8M1182.5 293.64h5.8M2109 293.64h-5.8M1182.5 270.15h5.8M2109 270.15h-5.8M1182.5 223.18h5.8M2109 223.18h-5.8M1182.5 199.69h5.8M2109 199.69h-5.8M1182.5 176.21h5.8M2109 176.21h-5.8M1182.5 152.72h5.8M2109 152.72h-5.8M1182.5 105.75h5.8M2109 105.75h-5.8M1182.5 82.26h5.8M2109 82.26h-5.8M1182.5 58.77h5.8M2109 58.77h-5.8M1182.5 35.29h5.8M2109 35.29h-5.8" stroke="#000" stroke-width="1.25" fill="none"/>
<rect x="1182.5" y="11.8" width="926.5" height="704.6" fill="none" stroke="#000" stroke-width="1.67"/>
<text x="1175.8" y="727" text-anchor="end">0.985</text>
<text x="1175.8" y="609.57" text-anchor="end">0.990</text>
<text x="1175.8" y="492.13" text-anchor="end">0.995</text>
<text x="1175.8" y="374.7" text-anchor="end">1.000</text>
<text x="1175.8" y="257.27" text-anchor="end">1.005</text>
<text x="1175.8" y="139.83" text-anchor="end">1.010</text>
<text x="1175.8" y="22.4" text-anchor="end">1.015</text>
<path d="M1298.31 999.1v-9.6M1298.31 764.1v9.6M1414.12 999.1v-9.6M1414.12 764.1v9.6M1529.94 999.1v-9.6M1529.94 764.1v9.6M1645.75 999.1v-9.6M1645.75 764.1v9.6M1761.56 999.1v-9.6M1761.56 764.1v9.6M1877.38 999.1v-9.6M1877.38 764.1v9.6M1993.19 999.1v-9.6M1993.19 764.1v9.6M1182.5 881.6h9.6M2109 881.6h-9.6" stroke="#000" stroke-width="1.6" fill="none"/>
<path d="M1205.66 999.1v-5.8M1205.66 764.1v5.8M1228.83 999.1v-5.8M1228.83 764.1v5.8M1251.99 999.1v-5.8M1251.99 764.1v5.8M1275.15 999.1v-5.8M1275.15 764.1v5.8M1321.47 999.1v-5.8M1321.47 764.1v5.8M1344.64 999.1v-5.8M1344.64 764.1v5.8M1367.8 999.1v-5.8M1367.8 764.1v5.8M1390.96 999.1v-5.8M1390.96 764.1v5.8M1437.29 999.1v-5.8M1437.29 764.1v5.8M1460.45 999.1v-5.8M1460.45 764.1v5.8M1483.61 999.1v-5.8M1483.61 764.1v5.8M1506.78 999.1v-5.8M1506.78 764.1v5.8M1553.1 999.1v-5.8M1553.1 764.1v5.8M1576.26 999.1v-5.8M1576.26 764.1v5.8M1599.42 999.1v-5.8M1599.42 764.1v5.8M1622.59 999.1v-5.8M1622.59 764.1v5.8M1668.91 999.1v-5.8M1668.91 764.1v5.8M1692.08 999.1v-5.8M1692.08 764.1v5.8M1715.24 999.1v-5.8M1715.24 764.1v5.8M1738.4 999.1v-5.8M1738.4 764.1v5.8M1784.72 999.1v-5.8M1784.72 764.1v5.8M1807.89 999.1v-5.8M1807.89 764.1v5.8M1831.05 999.1v-5.8M1831.05 764.1v5.8M1854.21 999.1v-5.8M1854.21 764.1v5.8M1900.54 999.1v-5.8M1900.54 764.1v5.8M1923.7 999.1v-5.8M1923.7 764.1v5.8M1946.86 999.1v-5.8M1946.86 764.1v5.8M1970.03 999.1v-5.8M1970.03 764.1v5.8M2016.35 999.1v-5.8M2016.35 764.1v5.8M2039.51 999.1v-5.8M2039.51 764.1v5.8M2062.68 999.1v-5.8M2062.68 764.1v5.8M2085.84 999.1v-5.8M2085.84 764.1v5.8M1182.5 975.6h5.8M2109 975.6h-5.8M1182.5 952.1h5.8M2109 952.1h-5.8M1182.5 928.6h5.8M2109 928.6h-5.8M1182.5 905.1h5.8M2109 905.1h-5.8M1182.5 858.1h5.8M2109 858.1h-5.8M1182.5 834.6h5.8M2109 834.6h-5.8M1182.5 811.1h5.8M2109 811.1h-5.8M1182.5 787.6h5.8M2109 787.6h-5.8" stroke="#000" stroke-width="1.25" fill="none"/>
<rect x="1182.5" y="764.1" width="926.5" height="235" fill="none" stroke="#000" stroke-width="1.67"/>
<text x="1182.5" y="1026.3" text-anchor="middle">−2.0</text>
<text x="1298.31" y="1026.3" text-anchor="middle">−1.5</text>
<text x="1414.12" y="1026.3" text-anchor="middle">−1.0</text>
<text x="1529.94" y="1026.3" text-anchor="middle">−0.5</text>
<text x="1645.75" y="1026.3" text-anchor="middle">0.0</text>
<text x="1761.56" y="1026.3" text-anchor="middle">0.5</text>
<text x="1877.38" y="1026.3" text-anchor="middle">1.0</text>
<text x="1993.19" y="1026.3" text-anchor="middle">1.5</text>
<text x="2109" y="1026.3" text-anchor="middle">2.0</text>
<text x="1175.8" y="1009.7" text-anchor="end">−5</text>
<text x="1175.8" y="892.2" text-anchor="end">0</text>
<text x="1175.8" y="774.7" text-anchor="end">5</text>
<text x="577.82" y="515.9" text-anchor="middle" letter-spacing="-0.04">Time (BJD - 2458901)</text>
<text x="577.82" y="1060.3" text-anchor="middle" letter-spacing="-0.04">Time (BJD - 2459277)</text>
<text x="1645.45" y="1060.3" text-anchor="middle" letter-spacing="-0.09">Time since mid-transit (hours)</text>
<text transform="translate(21 232.4) rotate(-90)" text-anchor="middle">Relative flux</text>
<text transform="translate(21 776.75) rotate(-90)" text-anchor="middle">Relative flux</text>
<text transform="translate(1086 364.1) rotate(-90)" text-anchor="middle">Relative flux</text>
<text transform="translate(1122.4 882.2) rotate(-90)" text-anchor="middle"><tspan font-style="italic">O</tspan><tspan dx="4.9">−</tspan><tspan dx="4.9" font-style="italic">C</tspan> (ppt)</text>
<text x="577.92" y="55" text-anchor="middle">UT2020-02-22</text>
<text x="577.92" y="599.2" text-anchor="middle">UT2021-03-04</text>
<text x="1633.3" y="80.7" fill="#ff0000" font-size="42.6" font-style="italic">i</text>
<text transform="translate(1640.6 89.1) skewX(-11.5) scale(0.6 1)" fill="#ff0000" font-size="60" font-style="italic" font-family='"Liberation Sans", "DejaVu Sans", sans-serif'>′</text>
</svg>
</body></html>
